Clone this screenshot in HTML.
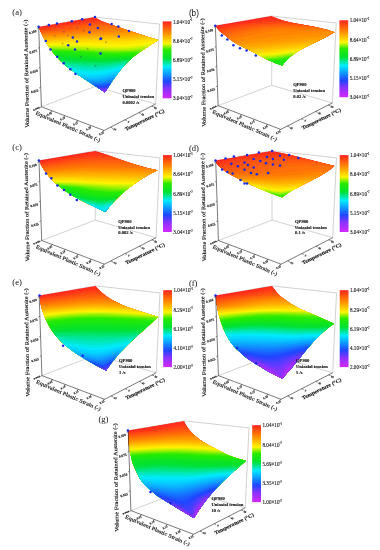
<!DOCTYPE html><html><head><meta charset="utf-8"><title>Figure</title><style>html,body{margin:0;padding:0;background:#fff}svg{display:block}</style></head><body><svg width="380" height="550" viewBox="0 0 380 550" font-family="'Liberation Serif', serif" fill="#111"><defs><linearGradient id="cb" x1="0" y1="0" x2="0" y2="1"><stop offset="0.000" stop-color="#ff231e"/><stop offset="0.150" stop-color="#ff8c00"/><stop offset="0.285" stop-color="#fff500"/><stop offset="0.370" stop-color="#28eb00"/><stop offset="0.480" stop-color="#00e132"/><stop offset="0.590" stop-color="#00ebff"/><stop offset="0.780" stop-color="#1e46ff"/><stop offset="0.880" stop-color="#8c32ff"/><stop offset="1.000" stop-color="#d228fa"/></linearGradient></defs><rect width="380" height="550" fill="#fff"/><g><line x1="41.4" y1="106.8" x2="95.0" y2="86.4" stroke="#9a9a9a" stroke-width="0.45"/><line x1="95.0" y1="86.4" x2="155.7" y2="104.0" stroke="#9a9a9a" stroke-width="0.45"/><line x1="95.0" y1="86.4" x2="95.0" y2="17.1" stroke="#9a9a9a" stroke-width="0.45"/><line x1="38.7" y1="27.0" x2="95.0" y2="17.1" stroke="#9a9a9a" stroke-width="0.45"/><line x1="95.0" y1="17.1" x2="159.5" y2="24.1" stroke="#9a9a9a" stroke-width="0.45"/><line x1="159.5" y1="24.1" x2="155.7" y2="104.0" stroke="#9a9a9a" stroke-width="0.45"/><g fill-rule="evenodd"><path fill="#ff231e" d="M38.6 26.9L40.8 32.0 43.0 36.6 45.2 40.8 47.9 45.2 50.5 49.1 53.5 53.0 56.7 56.7 60.2 60.4 63.4 63.4 66.8 66.4 70.4 69.2 74.8 72.5 81.6 77.1 97.4 87.3 104.9 92.3 111.4 82.3 117.1 74.2 122.4 67.5 125.1 64.5 127.7 61.8 132.3 57.6 137.6 53.5 142.6 50.1 158.2 40.0 148.0 37.0 138.0 33.6 128.3 30.5 104.9 22.5 102.2 21.5 99.9 20.4 97.6 19.0 95.0 17.1Z"/><path fill="#ff2e1b" d="M38.8 27.5L42.1 27.1 42.9 26.7 56.6 24.4 95.9 17.8 100.5 20.6 105.3 22.6 128.3 30.5 148.0 37.0 158.2 40.0 137.6 53.5 132.3 57.6 127.7 61.8 122.4 67.5 117.1 74.2 111.4 82.3 104.9 92.3 81.6 77.1 74.8 72.5 67.3 66.8 60.7 60.9 57.2 57.3 53.9 53.5 50.9 49.7 48.3 45.8 45.6 41.3 43.3 37.1 41.0 32.4Z"/><path fill="#ff3918" d="M39.3 28.6L39.2 28.4 48.8 27.3 49.6 27.1 49.9 26.8 50.3 26.6 69.6 23.4 89.2 20.5 98.2 19.3 100.8 20.8 103.5 22.0 116.5 26.6 146.5 36.5 158.2 40.0 137.6 53.5 132.3 57.6 127.7 61.8 122.4 67.5 117.1 74.2 111.4 82.3 104.9 92.3 81.6 77.1 74.8 72.5 67.3 66.8 60.7 60.9 57.6 57.8 54.4 54.1 51.3 50.2 48.6 46.3 46.2 42.4 43.8 38.1 41.4 33.3Z"/><path fill="#ff4415" d="M39.7 29.4L39.6 29.3 48.1 28.5 54.9 27.6 57.4 27.1 56.8 26.9 57.0 26.7 77.7 23.5 92.7 21.6 101.0 20.9 105.3 22.6 126.4 29.9 147.3 36.7 158.2 40.0 137.6 53.5 132.3 57.6 127.7 61.8 122.4 67.5 117.1 74.2 111.4 82.3 104.9 92.3 82.3 77.6 75.4 72.9 67.9 67.3 61.2 61.4 58.1 58.3 54.8 54.6 51.8 50.8 49.0 46.9 46.5 43.0 44.1 38.7 41.8 34.2Z"/><path fill="#ff4f12" d="M40.1 30.4L40.0 30.2 51.6 29.2 60.7 28.1 64.9 27.2 64.6 26.9 63.8 26.9 64.0 26.7 83.2 23.9 94.8 22.7 104.5 22.4 128.3 30.5 148.0 37.0 158.2 40.0 137.6 53.5 132.3 57.6 127.7 61.8 122.4 67.5 117.1 74.2 111.4 82.3 104.9 92.3 82.3 77.6 75.4 72.9 67.9 67.3 61.2 61.4 58.1 58.3 54.8 54.6 52.2 51.3 49.4 47.4 46.9 43.5 44.4 39.2 42.3 35.1Z"/><path fill="#ff5a0e" d="M40.4 31.2L40.4 31.1 55.7 29.8 65.9 28.6 70.6 27.9 72.8 27.4 73.2 27.1 72.4 26.9 71.6 26.9 71.7 26.7 87.2 24.6 98.0 23.7 108.1 23.6 128.3 30.5 148.0 37.0 158.2 40.0 137.6 53.5 132.3 57.6 127.7 61.8 122.4 67.5 117.1 74.2 111.4 82.3 104.9 92.3 82.3 77.6 75.4 72.9 67.9 67.3 61.7 61.9 58.6 58.8 55.3 55.1 52.6 51.9 49.8 48.0 47.2 44.1 44.9 40.3 42.5 35.6Z"/><path fill="#ff650b" d="M40.8 32.0L57.2 30.8 71.4 29.2 77.8 28.3 81.3 27.5 82.1 27.2 81.7 27.0 80.6 26.8 80.1 27.0 79.9 26.9 79.9 26.7 88.1 25.7 99.1 24.9 111.7 24.9 126.4 29.9 146.5 36.5 158.2 40.0 137.6 53.5 132.3 57.6 127.7 61.8 122.4 67.5 117.1 74.2 111.4 82.3 104.9 92.3 82.3 77.6 75.4 72.9 67.9 67.3 61.7 61.9 58.6 58.8 55.7 55.7 53.0 52.4 50.1 48.5 47.5 44.6 45.2 40.8 43.0 36.6Z"/><path fill="#ff7008" d="M41.4 33.3L41.2 32.9 63.4 31.2 82.8 29.1 90.5 28.0 94.0 27.4 94.2 27.1 94.1 27.0 92.0 27.0 91.0 26.9 90.9 26.7 101.2 26.1 115.4 26.2 146.5 36.5 158.2 40.0 137.6 53.5 132.3 57.6 127.7 61.8 122.4 67.5 117.1 74.2 111.4 82.3 104.9 92.3 82.3 77.6 75.4 72.9 68.5 67.8 62.3 62.4 59.1 59.4 56.2 56.2 53.5 53.0 50.5 49.1 47.9 45.2 45.6 41.3Z"/><path fill="#ff7a05" d="M41.8 34.2L41.6 33.8 65.1 32.2 105.2 28.6 119.9 27.7 146.5 36.5 158.2 40.0 137.6 53.5 132.3 57.6 127.7 61.8 122.4 67.5 117.1 74.2 111.4 82.3 104.9 92.3 76.1 73.4 69.1 68.3 62.8 62.9 59.6 59.9 56.7 56.7 53.9 53.5 50.9 49.7 48.6 46.3 46.2 42.4 44.1 38.7Z"/><path fill="#ff8502" d="M42.3 35.1L42.1 34.7 58.7 33.7 89.7 31.5 124.5 29.3 147.3 36.7 158.2 40.0 137.6 53.5 132.3 57.6 127.7 61.8 122.4 67.5 117.1 74.2 111.4 82.3 104.9 92.3 76.1 73.4 69.1 68.3 62.8 62.9 59.6 59.9 56.7 56.7 53.9 53.5 51.3 50.2 49.0 46.9 46.5 43.0Z"/><path fill="#ff9100" d="M42.7 36.1L42.5 35.6 83.9 33.1 116.0 31.7 129.2 30.8 148.0 37.0 158.2 40.0 137.6 53.5 132.3 57.6 127.7 61.8 122.4 67.5 117.1 74.2 111.4 82.3 104.9 92.3 76.1 73.4 69.1 68.3 63.4 63.4 60.2 60.4 57.2 57.3 54.4 54.1 51.8 50.8 49.4 47.4 46.9 43.5Z"/><path fill="#ff9d00" d="M43.3 37.1L43.0 36.6 72.5 34.9 87.3 34.3 117.5 33.3 134.2 32.4 147.3 36.7 158.2 40.0 137.6 53.5 132.3 57.6 127.7 61.8 122.4 67.5 117.1 74.2 111.4 82.3 104.9 92.3 76.8 73.9 69.7 68.7 63.9 63.9 58.1 58.3 55.3 55.1 52.6 51.9 50.1 48.5 47.5 44.6Z"/><path fill="#ffa900" d="M43.8 38.1L43.5 37.7 73.5 35.9 90.1 35.3 124.4 34.6 139.1 34.0 148.0 37.0 158.2 40.0 137.6 53.5 132.3 57.6 127.7 61.8 122.4 67.5 117.1 74.2 111.4 82.3 104.9 92.3 76.8 73.9 69.7 68.7 63.9 63.9 58.1 58.3 55.3 55.1 52.6 51.9 47.9 45.2Z"/><path fill="#ffb500" d="M44.4 39.2L44.1 38.7 73.9 37.0 89.6 36.6 127.3 35.9 135.3 35.6 142.6 35.1 149.5 37.4 158.2 40.0 137.6 53.5 132.3 57.6 127.7 61.8 122.4 67.5 117.1 74.2 111.4 82.3 104.9 92.3 76.8 73.9 70.4 69.2 64.5 64.4 58.6 58.8 53.5 53.0 48.6 46.3Z"/><path fill="#ffc100" d="M44.9 40.3L44.7 39.8 71.8 38.3 88.2 37.8 127.3 37.4 135.6 37.0 146.0 36.3 158.2 40.0 137.6 53.5 132.3 57.6 127.7 61.8 122.4 67.5 117.1 74.2 111.4 82.3 104.9 92.3 77.4 74.3 71.0 69.7 65.0 64.9 59.1 59.4 53.9 53.5 49.4 47.4Z"/><path fill="#ffce00" d="M45.6 41.3L45.3 40.9 58.2 40.0 70.6 39.4 86.9 39.1 127.2 38.8 136.7 38.4 149.7 37.5 158.2 40.0 137.6 53.5 132.3 57.6 127.7 61.8 122.4 67.5 117.1 74.2 111.4 82.3 104.9 92.3 77.4 74.3 71.0 69.7 65.0 64.9 59.1 59.4 54.4 54.1 49.8 48.0Z"/><path fill="#ffda00" d="M46.2 42.4L45.9 41.9 68.3 40.6 78.7 40.2 131.8 40.0 153.6 38.7 158.2 40.0 137.6 53.5 132.3 57.6 127.7 61.8 122.4 67.5 117.1 74.2 111.4 82.3 104.9 92.3 77.4 74.3 71.0 69.7 65.6 65.4 59.6 59.9 54.8 54.6 50.1 48.5Z"/><path fill="#ffe600" d="M46.5 43.0L65.4 42.1 79.0 41.8 112.2 42.1 120.9 42.0 129.3 41.5 140.4 40.3 157.3 39.8 158.2 40.0 137.6 53.5 132.3 57.6 127.7 61.8 122.4 67.5 117.1 74.2 111.4 82.3 104.9 92.3 78.1 74.8 71.6 70.2 66.2 65.9 60.2 60.4 55.3 55.1 50.5 49.1Z"/><path fill="#fff200" d="M47.2 44.1L64.1 43.5 77.3 43.4 88.0 43.6 111.6 44.5 122.2 44.5 128.3 44.2 136.5 43.4 157.1 40.7 142.2 50.4 137.3 53.8 131.9 57.9 127.4 62.1 122.4 67.5 117.1 74.2 111.4 82.3 104.9 92.3 78.1 74.8 71.6 70.2 66.2 65.9 60.7 60.9 55.7 55.7 51.3 50.2Z"/><path fill="#e1f400" d="M48.3 45.8L48.0 45.3 61.5 45.0 72.7 45.0 84.4 45.3 109.5 46.5 118.9 46.7 125.8 46.4 133.7 45.9 152.1 44.0 141.8 50.6 136.1 54.6 131.2 58.6 126.6 62.9 121.7 68.4 116.7 74.7 111.0 82.8 104.9 92.3 78.8 75.2 72.9 71.1 67.3 66.8 61.7 61.9 56.7 56.7 52.2 51.3Z"/><path fill="#b9f200" d="M49.0 46.9L48.8 46.5 51.1 46.5 62.7 46.4 72.4 46.5 83.0 47.0 107.0 48.4 116.9 48.6 124.0 48.5 131.5 48.0 148.6 46.3 140.3 51.7 135.0 55.5 130.4 59.3 125.8 63.7 121.3 68.8 116.3 75.2 111.0 82.8 104.9 92.3 78.8 75.2 72.9 71.1 67.3 66.8 61.7 61.9 57.2 57.3 53.0 52.4Z"/><path fill="#92f000" d="M49.8 48.0L49.6 47.7 51.8 47.7 69.5 47.9 103.8 49.8 115.9 50.1 124.9 50.0 132.2 49.7 137.8 49.3 145.2 48.4 138.4 53.0 133.5 56.7 128.9 60.7 124.7 64.9 120.1 70.2 115.6 76.2 110.6 83.4 104.9 92.3 78.8 75.2 72.9 71.1 67.9 67.3 62.8 62.9 58.1 58.3 53.9 53.5Z"/><path fill="#6aee00" d="M50.5 49.1L50.3 48.8 50.9 48.8 69.5 49.2 103.3 50.9 113.5 51.2 128.0 51.1 142.4 50.3 136.9 54.1 132.3 57.6 128.1 61.4 123.9 65.7 119.7 70.7 115.2 76.8 110.2 84.0 104.9 92.3 78.8 75.2 73.5 71.6 68.5 67.8 63.4 63.4 58.6 58.8 54.4 54.1Z"/><path fill="#43ec00" d="M51.3 50.2L51.0 49.7 67.0 50.1 78.9 50.6 102.9 52.0 113.0 52.4 126.3 52.3 140.6 51.5 135.4 55.2 131.2 58.6 127.0 62.5 123.2 66.6 119.0 71.7 114.8 77.3 110.2 84.0 104.9 92.3 79.5 75.7 74.1 72.0 69.1 68.3 63.9 63.9 59.1 59.4 55.3 55.1Z"/><path fill="#26eb02" d="M51.8 50.8L51.6 50.6 52.1 50.6 68.9 51.1 101.6 53.1 111.4 53.5 124.7 53.5 138.8 52.7 134.2 56.1 130.0 59.6 126.2 63.3 122.4 67.5 118.6 72.2 114.4 77.8 109.8 84.6 104.9 92.3 79.5 75.7 74.1 72.0 69.1 68.3 63.9 63.9 59.6 59.9 55.7 55.7Z"/><path fill="#20e909" d="M52.6 51.9L52.3 51.4 68.7 52.1 83.9 53.0 102.1 54.4 109.9 54.8 123.1 54.7 137.0 53.9 132.7 57.3 128.9 60.7 125.1 64.5 121.7 68.4 117.8 73.2 113.7 78.9 109.5 85.1 104.9 92.3 79.5 75.7 74.1 72.0 69.7 68.7 64.5 64.4 60.2 60.4 56.2 56.2Z"/><path fill="#1be810" d="M53.0 52.4L52.9 52.3 60.1 52.6 73.4 53.3 95.1 55.3 102.7 55.6 118.5 55.8 135.4 55.2 131.6 58.3 127.7 61.8 124.3 65.3 120.9 69.3 117.1 74.2 113.3 79.5 104.9 92.3 80.2 76.2 70.4 69.2 65.0 64.9 60.7 60.9 56.7 56.7Z"/><path fill="#15e618" d="M53.9 53.5L53.6 53.2 61.1 53.5 83.8 55.6 100.7 56.4 116.5 56.5 134.4 55.9 130.8 58.9 127.4 62.1 123.9 65.7 120.5 69.8 117.1 74.2 113.3 79.5 104.9 92.3 80.2 76.2 71.0 69.7 66.2 65.9 61.7 61.9 57.6 57.8Z"/><path fill="#0fe51f" d="M54.8 54.6L54.6 54.3 81.7 56.5 98.8 57.3 114.5 57.3 133.6 56.6 130.0 59.6 126.6 62.9 123.6 66.2 120.1 70.2 116.7 74.7 112.9 80.0 104.9 92.3 80.2 76.2 71.6 70.2 66.8 66.4 62.3 62.4 58.6 58.8Z"/><path fill="#0ae326" d="M56.2 56.2L55.8 55.7 81.5 57.5 98.8 58.2 114.7 58.1 132.8 57.2 129.3 60.3 126.2 63.3 123.2 66.6 119.7 70.7 112.9 80.0 104.9 92.3 80.9 76.6 72.2 70.6 67.3 66.8 63.4 63.4 59.6 59.9Z"/><path fill="#04e22d" d="M57.2 57.3L57.0 57.1 87.0 59.0 99.6 59.4 113.6 59.1 132.0 57.9 128.5 61.0 125.5 64.1 122.4 67.5 119.4 71.2 112.5 80.6 104.9 92.3 80.9 76.6 72.9 71.1 68.5 67.8 64.5 64.4 60.7 60.9Z"/><path fill="#00e13a" d="M58.6 58.8L58.3 58.4 83.7 60.1 91.5 60.4 99.4 60.6 106.9 60.4 114.8 60.1 131.0 58.7 128.1 61.4 125.1 64.5 122.0 67.9 119.0 71.7 112.5 80.6 104.9 92.3 81.6 77.1 73.5 71.6 65.6 65.4 61.7 61.9Z"/><path fill="#00e357" d="M59.6 59.9L83.3 61.5 97.2 61.8 104.6 61.7 112.5 61.3 129.9 59.8 127.0 62.5 123.9 65.7 118.2 72.7 112.1 81.1 104.9 92.3 81.6 77.1 74.1 72.0 66.2 65.9 62.8 62.9Z"/><path fill="#00e474" d="M61.2 61.4L61.1 61.3 82.9 62.9 95.9 63.2 103.4 63.0 111.3 62.5 128.8 60.8 123.2 66.6 117.8 73.2 111.8 81.7 104.9 92.3 82.3 77.6 75.4 72.9 67.9 67.3Z"/><path fill="#00e692" d="M62.8 62.9L84.3 64.6 90.4 64.8 96.3 64.9 101.8 64.7 107.5 64.2 127.7 61.8 122.4 67.5 117.1 74.2 111.4 82.3 104.9 92.3 76.1 73.4 69.1 68.3Z"/><path fill="#00e7af" d="M64.5 64.4L83.8 66.2 90.7 66.5 96.9 66.6 103.6 66.2 110.7 65.5 117.1 64.6 126.7 62.8 121.7 68.4 116.7 74.7 111.0 82.8 104.9 92.3 76.8 73.9 70.4 69.2Z"/><path fill="#00e8cc" d="M66.8 66.4L66.3 66.0 87.4 68.3 92.1 68.5 96.3 68.4 103.1 68.0 110.4 67.1 116.8 66.1 125.1 64.5 120.5 69.8 115.6 76.2 110.6 83.4 104.9 92.3 78.1 74.8 72.2 70.6Z"/><path fill="#00eae9" d="M68.5 67.8L68.3 67.6 78.3 69.4 84.3 70.2 89.2 70.6 94.4 70.6 100.1 70.2 106.2 69.4 114.0 68.1 123.6 66.1 119.4 71.2 114.8 77.3 110.2 84.0 104.9 92.3 78.8 75.2 73.5 71.6Z"/><path fill="#01e8ff" d="M72.2 70.6L71.6 70.2 79.8 71.7 85.4 72.5 90.5 72.8 95.4 72.7 100.7 72.2 105.7 71.3 122.1 67.8 118.2 72.7 114.0 78.4 109.5 85.1 104.9 92.3 80.9 76.6Z"/><path fill="#03daff" d="M75.4 72.9L75.1 72.7 81.9 73.8 88.1 74.4 92.6 74.6 96.7 74.4 101.6 73.8 106.7 72.9 120.8 69.5 117.1 74.2 113.3 79.5 104.9 92.3 82.3 77.6Z"/><path fill="#06cdff" d="M78.1 74.8L77.8 74.6 83.9 75.6 89.3 76.2 93.1 76.3 97.6 76.1 101.3 75.6 105.2 74.9 110.7 73.5 119.4 71.2 112.5 80.6 104.9 92.3Z"/><path fill="#08bfff" d="M80.9 76.6L80.6 76.4 86.7 77.5 90.7 77.9 94.0 78.0 97.4 77.8 101.1 77.3 106.4 76.2 118.1 72.9 111.8 81.7 104.9 92.3Z"/><path fill="#0ab1ff" d="M83.7 78.5L83.4 78.3 87.7 78.9 93.1 79.2 96.8 79.2 100.2 78.9 103.2 78.4 106.5 77.6 116.8 74.5 111.0 82.8 104.9 92.3Z"/><path fill="#0da4ff" d="M85.1 79.4L93.7 80.3 97.5 80.3 100.2 80.1 102.9 79.7 106.8 78.9 115.6 76.2 110.6 83.4 104.9 92.3Z"/><path fill="#0f96ff" d="M87.3 80.8L86.7 80.4 91.2 81.0 95.5 81.4 98.1 81.4 101.5 81.2 104.3 80.7 107.1 80.0 114.6 77.6 109.8 84.6 104.9 92.3Z"/><path fill="#1289ff" d="M88.8 81.8L88.2 81.4 93.0 82.1 95.9 82.4 98.5 82.5 102.1 82.3 106.9 81.2 113.6 79.0 109.5 85.1 104.9 92.3Z"/><path fill="#147bff" d="M90.4 82.8L89.8 82.4 96.0 83.2 99.0 83.3 102.2 83.1 107.3 82.2 112.6 80.5 104.9 92.3Z"/><path fill="#176eff" d="M91.9 83.8L91.2 83.3 97.3 84.0 102.0 84.0 107.3 83.1 111.6 81.9 104.9 92.3Z"/><path fill="#1960ff" d="M92.7 84.2L92.4 84.1 98.0 84.8 101.4 84.8 105.3 84.3 111.0 82.9 104.9 92.3Z"/><path fill="#1c52ff" d="M94.2 85.3L93.7 84.9 98.5 85.6 102.3 85.6 106.1 84.9 110.4 83.7 104.9 92.3Z"/><path fill="#1f46ff" d="M95.0 85.8L99.8 86.4 102.3 86.4 105.4 85.9 109.8 84.6 104.9 92.3Z"/><path fill="#3143ff" d="M96.6 86.8L96.1 86.5 101.0 87.2 103.4 87.1 106.3 86.4 109.3 85.4 104.9 92.3Z"/><path fill="#4240ff" d="M97.4 87.3L100.8 87.9 103.4 87.9 105.6 87.4 108.7 86.2 104.9 92.3Z"/><path fill="#533cff" d="M99.1 88.4L98.4 88.0 101.8 88.5 104.2 88.4 105.2 88.2 108.2 87.1 104.9 92.3Z"/><path fill="#6439ff" d="M99.9 88.9L99.2 88.5 102.6 89.1 104.6 89.0 106.0 88.6 107.7 87.9 104.9 92.3Z"/><path fill="#7536ff" d="M100.7 89.5L99.9 89.0 103.4 89.6 104.5 89.5 107.1 88.7 104.9 92.3Z"/><path fill="#8633ff" d="M100.7 89.5L102.6 89.9 103.9 90.0 105.3 89.8 106.8 89.3 104.9 92.3Z"/><path fill="#9231ff" d="M101.5 90.0L103.5 90.5 104.7 90.4 106.5 89.8 104.9 92.3Z"/><path fill="#9b30fe" d="M102.4 90.6L102.1 90.4 104.5 91.0 106.2 90.3 104.9 92.3Z"/><path fill="#a42ffd" d="M103.2 91.1L102.8 90.9 104.7 91.3 105.8 90.8 104.9 92.3Z"/><path fill="#ae2dfd" d="M104.1 91.7L103.5 91.4 104.2 91.5 105.0 91.5 105.5 91.3 104.9 92.3Z"/><path fill="#b72cfc" d="M104.9 92.3L104.2 91.8 105.2 91.8Z"/></g><line x1="41.4" y1="106.8" x2="38.7" y2="27.0" stroke="#222" stroke-width="0.6"/><line x1="41.4" y1="106.8" x2="104.1" y2="130.5" stroke="#222" stroke-width="0.6"/><line x1="104.1" y1="130.5" x2="155.7" y2="104.0" stroke="#222" stroke-width="0.6"/><line x1="41.4" y1="106.8" x2="39.9" y2="107.7" stroke="#222" stroke-width="0.5"/><text font-size="3.2" font-weight="bold" text-anchor="middle" stroke="#111" stroke-width=".2" transform="translate(36.4 108.8) rotate(-24) scale(1 .7)"><tspan y="1.1">0.000</tspan></text><line x1="40.7" y1="87.0" x2="39.2" y2="87.9" stroke="#222" stroke-width="0.5"/><text font-size="3.5" font-weight="bold" text-anchor="end" stroke="#111" stroke-width=".12" transform="translate(38.7 91.2) rotate(-16)">0.025</text><line x1="40.1" y1="67.3" x2="38.6" y2="68.2" stroke="#222" stroke-width="0.5"/><text font-size="3.5" font-weight="bold" text-anchor="end" stroke="#111" stroke-width=".12" transform="translate(38.1 71.5) rotate(-16)">0.050</text><line x1="39.4" y1="47.5" x2="37.9" y2="48.4" stroke="#222" stroke-width="0.5"/><text font-size="3.5" font-weight="bold" text-anchor="end" stroke="#111" stroke-width=".12" transform="translate(37.4 51.7) rotate(-16)">0.075</text><line x1="38.7" y1="27.8" x2="37.2" y2="28.7" stroke="#222" stroke-width="0.5"/><text font-size="3.5" font-weight="bold" text-anchor="end" stroke="#111" stroke-width=".12" transform="translate(36.7 32.0) rotate(-16)">0.100</text><line x1="52.2" y1="110.9" x2="50.5" y2="111.9" stroke="#222" stroke-width="0.55"/><text font-size="3" font-weight="bold" text-anchor="middle" stroke="#111" stroke-width=".1" transform="translate(49.6 113.8) rotate(-29)"><tspan y="1">0.05</tspan></text><line x1="65.2" y1="115.8" x2="63.5" y2="116.8" stroke="#222" stroke-width="0.55"/><text font-size="3" font-weight="bold" text-anchor="middle" stroke="#111" stroke-width=".1" transform="translate(62.6 118.7) rotate(-29)"><tspan y="1">0.10</tspan></text><line x1="78.1" y1="120.7" x2="76.4" y2="121.7" stroke="#222" stroke-width="0.55"/><text font-size="3" font-weight="bold" text-anchor="middle" stroke="#111" stroke-width=".1" transform="translate(75.5 123.6) rotate(-29)"><tspan y="1">0.15</tspan></text><line x1="91.1" y1="125.6" x2="89.4" y2="126.6" stroke="#222" stroke-width="0.55"/><text font-size="3" font-weight="bold" text-anchor="middle" stroke="#111" stroke-width=".1" transform="translate(88.5 128.5) rotate(-29)"><tspan y="1">0.20</tspan></text><line x1="104.1" y1="130.5" x2="102.4" y2="131.5" stroke="#222" stroke-width="0.55"/><text font-size="3" font-weight="bold" text-anchor="middle" stroke="#111" stroke-width=".1" transform="translate(101.5 133.4) rotate(-29)"><tspan y="1">0.25</tspan></text><line x1="110.5" y1="127.2" x2="112.5" y2="128.0" stroke="#222" stroke-width="0.55"/><text font-size="3" font-weight="bold" text-anchor="middle" stroke="#111" stroke-width=".1" transform="translate(114.3 129.1) rotate(22)"><tspan y="1">-40</tspan></text><line x1="124.7" y1="119.9" x2="126.7" y2="120.7" stroke="#222" stroke-width="0.55"/><text font-size="3" font-weight="bold" text-anchor="middle" stroke="#111" stroke-width=".1" transform="translate(128.5 121.8) rotate(22)"><tspan y="1">0</tspan></text><line x1="138.9" y1="112.6" x2="140.9" y2="113.4" stroke="#222" stroke-width="0.55"/><text font-size="3" font-weight="bold" text-anchor="middle" stroke="#111" stroke-width=".1" transform="translate(142.7 114.5) rotate(22)"><tspan y="1">40</tspan></text><line x1="151.6" y1="106.1" x2="153.6" y2="106.9" stroke="#222" stroke-width="0.55"/><text font-size="3" font-weight="bold" text-anchor="middle" stroke="#111" stroke-width=".1" transform="translate(155.4 108.0) rotate(22)"><tspan y="1">80</tspan></text><text font-size="6.45" text-anchor="middle" stroke="#111" stroke-width=".2" transform="translate(28.1 73.7) rotate(-91) scale(1 .8)">Volume Fraction of Retained Austenite (-)</text><text font-size="6.3" stroke="#111" stroke-width=".17" transform="translate(35.3 114.2) rotate(23.5) scale(1 .84)">Equivalent Plastic Strain (-)</text><text font-size="5.7" font-weight="bold" stroke="#111" stroke-width=".15" transform="translate(126.0 130.9) rotate(-26) scale(1 .9)">Temperature (°C)</text><circle cx="63.9" cy="31.7" r="1" fill="#40206a" opacity=".3"/><circle cx="77.1" cy="27.8" r="1" fill="#40206a" opacity=".3"/><circle cx="54.7" cy="35.7" r="1" fill="#40206a" opacity=".3"/><circle cx="67.9" cy="35.7" r="1" fill="#40206a" opacity=".3"/><circle cx="62.6" cy="43.6" r="1" fill="#40206a" opacity=".3"/><circle cx="106.0" cy="42.3" r="1" fill="#40206a" opacity=".3"/><circle cx="87.6" cy="48.8" r="1" fill="#40206a" opacity=".3"/><circle cx="81.0" cy="56.7" r="1" fill="#40206a" opacity=".3"/><circle cx="95.5" cy="66.0" r="1" fill="#40206a" opacity=".3"/><circle cx="83.7" cy="30.4" r="1" fill="#40206a" opacity=".3"/><circle cx="38.6" cy="26.8" r="1.25" fill="#1428e6"/><circle cx="48.8" cy="25.1" r="1.25" fill="#1428e6"/><circle cx="57.0" cy="23.6" r="1.25" fill="#1428e6"/><circle cx="71.8" cy="21.2" r="1.25" fill="#1428e6"/><circle cx="82.2" cy="19.2" r="1.25" fill="#1428e6"/><circle cx="95.0" cy="17.1" r="1.25" fill="#1428e6"/><circle cx="45.8" cy="40.9" r="1.25" fill="#1428e6"/><circle cx="72.8" cy="37.6" r="1.25" fill="#1428e6"/><circle cx="68.2" cy="45.3" r="1.25" fill="#1428e6"/><circle cx="89.9" cy="24.5" r="1.25" fill="#1428e6"/><circle cx="97.8" cy="28.0" r="1.25" fill="#1428e6"/><circle cx="89.5" cy="32.2" r="1.25" fill="#1428e6"/><circle cx="111.6" cy="24.1" r="1.25" fill="#1428e6"/><circle cx="118.4" cy="26.4" r="1.25" fill="#1428e6"/><circle cx="101.0" cy="38.6" r="1.25" fill="#1428e6"/><circle cx="118.8" cy="36.6" r="1.25" fill="#1428e6"/><circle cx="77.0" cy="41.4" r="1.25" fill="#1428e6"/><circle cx="129.0" cy="31.0" r="1.25" fill="#1428e6"/><circle cx="50.5" cy="49.5" r="1.25" fill="#1428e6"/><circle cx="57.1" cy="56.8" r="1.25" fill="#1428e6"/><circle cx="63.7" cy="63.2" r="1.25" fill="#1428e6"/><circle cx="70.3" cy="69.2" r="1.25" fill="#1428e6"/><circle cx="75.5" cy="74.0" r="1.25" fill="#1428e6"/><circle cx="75.0" cy="49.5" r="1.25" fill="#1428e6"/><circle cx="100.5" cy="53.4" r="1.25" fill="#1428e6"/><circle cx="100.5" cy="39.0" r="1.25" fill="#1428e6"/><rect x="162.7" y="21.4" width="8.8" height="76.9" fill="url(#cb)"/><text font-size="6.5" stroke="#111" stroke-width=".12" transform="translate(173.0 23.5) scale(.79 1)">1.04×10<tspan dy="-2.3" font-size="3.8">-1</tspan></text><text font-size="6.5" stroke="#111" stroke-width=".12" transform="translate(173.0 42.7) scale(.79 1)">8.64×10<tspan dy="-2.3" font-size="3.8">-2</tspan></text><text font-size="6.5" stroke="#111" stroke-width=".12" transform="translate(173.0 62.0) scale(.79 1)">6.89×10<tspan dy="-2.3" font-size="3.8">-2</tspan></text><text font-size="6.5" stroke="#111" stroke-width=".12" transform="translate(173.0 81.2) scale(.79 1)">5.15×10<tspan dy="-2.3" font-size="3.8">-2</tspan></text><text font-size="6.5" stroke="#111" stroke-width=".12" transform="translate(173.0 100.4) scale(.79 1)">3.04×10<tspan dy="-2.3" font-size="3.8">-2</tspan></text><text font-size="4.6" font-weight="bold" stroke="#111" stroke-width=".12"><tspan x="122.4" y="92.3">QP980</tspan><tspan x="122.4" y="98.2">Uniaxial tension</tspan><tspan x="122.4" y="104.1">0.0002 /s</tspan></text><text x="12.3" y="15.3" font-size="8.6">(a)</text></g><g><line x1="218.1" y1="105.7" x2="271.7" y2="85.3" stroke="#9a9a9a" stroke-width="0.45"/><line x1="271.7" y1="85.3" x2="332.4" y2="102.9" stroke="#9a9a9a" stroke-width="0.45"/><line x1="271.7" y1="85.3" x2="271.7" y2="16.0" stroke="#9a9a9a" stroke-width="0.45"/><line x1="215.4" y1="25.9" x2="271.7" y2="16.0" stroke="#9a9a9a" stroke-width="0.45"/><line x1="271.7" y1="16.0" x2="336.2" y2="23.0" stroke="#9a9a9a" stroke-width="0.45"/><line x1="336.2" y1="23.0" x2="332.4" y2="102.9" stroke="#9a9a9a" stroke-width="0.45"/><g fill-rule="evenodd"><path fill="#ff231e" d="M215.3 25.7L217.9 29.3 220.3 31.8 225.0 35.3 230.7 40.0 234.0 42.1 239.7 45.3 251.1 51.0 266.7 59.2 274.6 62.7 282.1 65.5 285.1 61.8 288.5 58.3 292.6 54.9 297.1 51.8 300.8 49.6 304.9 47.3 325.1 37.4 330.0 34.8 334.5 32.2 327.4 29.9 319.3 27.9 311.7 26.3 294.6 23.3 286.6 21.5 282.3 20.3 278.6 19.0 274.9 17.6 271.7 16.0Z"/><path fill="#ff2e1b" d="M216.4 26.3L218.9 25.7 260.1 18.8 268.1 17.6 273.8 17.0 280.2 19.6 287.5 21.8 295.2 23.4 311.7 26.3 319.3 27.9 327.4 29.9 334.5 32.2 330.0 34.8 325.1 37.4 304.9 47.3 297.1 51.8 292.6 54.9 288.5 58.3 285.1 61.8 282.1 65.5 274.6 62.7 266.7 59.2 251.1 51.0 239.7 45.3 234.0 42.1 230.7 40.0 225.0 35.3 220.0 31.6 218.1 29.6 215.8 26.5Z"/><path fill="#ff3918" d="M225.0 26.0L244.7 22.9 260.3 20.7 270.3 19.6 278.8 19.1 284.6 21.0 291.1 22.6 313.1 26.6 321.4 28.4 328.2 30.1 334.5 32.2 330.0 34.8 325.1 37.4 304.9 47.3 297.1 51.8 292.6 54.9 288.5 58.3 285.1 61.8 282.1 65.5 273.8 62.4 265.9 58.8 251.1 51.0 239.1 45.0 234.5 42.4 231.6 40.6 225.0 35.3 220.3 31.8 218.5 30.1 216.9 27.9Z"/><path fill="#ff4415" d="M224.3 27.8L234.0 25.7 257.2 22.7 265.7 21.9 273.4 21.4 279.7 21.2 285.4 21.2 294.1 23.2 312.4 26.5 320.0 28.0 327.4 29.9 334.5 32.2 330.0 34.8 325.1 37.4 304.9 47.3 297.1 51.8 292.6 54.9 288.5 58.3 285.1 61.8 282.1 65.5 273.8 62.4 265.9 58.8 251.1 51.0 239.1 45.0 232.6 41.2 229.8 39.3 224.7 35.0 220.8 32.3 219.5 31.1 218.0 29.4Z"/><path fill="#ff4f12" d="M219.5 31.1L219.3 30.9 232.2 27.7 238.0 26.5 243.1 25.6 253.1 24.6 267.8 23.4 276.0 22.9 282.8 22.8 294.5 23.3 311.7 26.3 318.6 27.7 324.4 29.1 329.7 30.6 334.5 32.2 330.0 34.8 325.1 37.4 304.9 47.3 297.1 51.8 292.6 54.9 288.5 58.3 285.1 61.8 282.1 65.5 274.6 62.7 267.4 59.5 251.1 51.0 237.0 43.9 231.2 40.3 225.0 35.3 221.4 32.7Z"/><path fill="#ff5a0e" d="M221.1 32.5L239.0 28.2 244.5 27.1 250.0 26.3 255.3 25.6 267.0 24.7 274.6 24.3 281.3 24.1 291.3 24.3 303.4 24.9 313.7 26.7 321.4 28.4 328.2 30.1 334.5 32.2 330.0 34.8 325.1 37.4 304.9 47.3 297.1 51.8 292.6 54.9 288.5 58.3 285.1 61.8 282.1 65.5 274.6 62.7 267.4 59.5 251.1 51.0 238.6 44.7 234.5 42.4 231.2 40.3 225.0 35.3Z"/><path fill="#ff650b" d="M223.3 34.1L223.1 33.9 230.6 32.6 246.2 28.9 254.5 27.3 260.2 26.5 266.4 25.9 272.5 25.4 278.6 25.2 291.8 25.4 311.2 26.2 317.9 27.5 323.7 28.9 329.0 30.4 334.5 32.2 330.0 34.8 325.1 37.4 304.9 47.3 297.1 51.8 292.6 54.9 288.5 58.3 285.1 61.8 282.1 65.5 274.6 62.7 267.4 59.5 251.1 51.0 238.6 44.7 234.5 42.4 231.6 40.6Z"/><path fill="#ff7008" d="M225.4 35.6L225.3 35.5 226.2 35.3 236.4 33.4 249.7 30.2 258.6 28.4 267.6 27.2 277.8 26.5 284.6 26.4 292.2 26.6 318.0 27.6 326.7 29.7 334.5 32.2 330.0 34.8 325.1 37.4 304.9 47.3 297.1 51.8 292.6 54.9 288.5 58.3 285.1 61.8 282.1 65.5 274.6 62.7 268.2 59.9 262.9 57.3 251.1 51.0 239.1 45.0 234.5 42.4 231.6 40.6Z"/><path fill="#ff7a05" d="M228.1 37.9L227.8 37.6 235.8 35.5 247.4 33.1 249.6 32.6 251.1 32.1 256.2 31.0 266.8 29.3 277.3 28.3 283.6 28.1 291.8 28.1 323.8 28.9 329.0 30.4 334.5 32.2 330.0 34.8 325.1 37.4 304.9 47.3 297.1 51.8 292.6 54.9 288.5 58.3 285.1 61.8 282.1 65.5 273.0 62.1 263.7 57.7 251.8 51.3 236.5 43.6 231.6 40.6Z"/><path fill="#ff8502" d="M230.7 40.0L230.3 39.6 241.8 37.2 249.8 35.3 266.2 32.5 266.2 32.4 265.6 32.3 265.7 32.1 271.5 31.4 277.5 30.8 285.2 30.4 293.7 30.2 328.7 30.3 334.5 32.2 330.0 34.8 325.1 37.4 304.9 47.3 297.1 51.8 292.6 54.9 288.5 58.3 285.1 61.8 282.1 65.5 273.8 62.4 265.2 58.4 251.8 51.3 238.6 44.7 234.0 42.1Z"/><path fill="#ff9100" d="M233.5 41.8L233.3 41.7 272.1 37.0 285.1 35.1 301.0 33.9 325.4 32.6 325.4 32.5 318.8 32.2 319.1 32.1 332.9 31.6 334.5 32.2 330.0 34.8 325.1 37.4 304.9 47.3 297.1 51.8 292.6 54.9 288.5 58.3 285.1 61.8 282.1 65.5 274.6 62.7 266.7 59.2 251.1 51.0 239.1 45.0Z"/><path fill="#ff9d00" d="M237.0 43.9L236.8 43.7 275.3 40.7 293.3 38.7 315.5 37.0 328.6 35.6 322.5 38.7 305.7 46.9 300.8 49.6 296.7 52.1 292.2 55.2 288.5 58.3 285.1 61.8 282.1 65.5 274.6 62.7 267.4 59.5 251.1 51.0Z"/><path fill="#ffa900" d="M240.2 45.6L259.5 44.5 286.3 41.9 305.9 40.4 322.6 38.7 305.3 47.1 300.4 49.8 295.9 52.5 291.8 55.5 288.1 58.7 284.7 62.2 282.1 65.5 274.6 62.7 268.2 59.9 262.9 57.3 251.1 51.0Z"/><path fill="#ffb500" d="M243.7 47.3L253.6 46.9 261.8 46.4 287.2 43.8 317.6 41.1 303.8 47.9 298.9 50.7 294.8 53.3 291.1 56.1 287.7 59.0 284.7 62.2 282.1 65.5 274.6 62.7 268.2 59.9Z"/><path fill="#ffc100" d="M247.3 49.1L257.3 48.6 266.1 48.0 313.8 42.9 302.3 48.7 297.8 51.3 294.1 53.8 290.3 56.7 287.3 59.4 284.7 62.2 282.1 65.5 274.6 62.7 268.2 59.9 263.7 57.7Z"/><path fill="#ffce00" d="M251.1 51.0L250.6 50.7 260.9 50.1 283.7 48.0 309.7 44.9 300.1 50.0 296.3 52.3 293.0 54.6 290.0 57.0 287.0 59.8 284.3 62.6 282.1 65.5 274.6 62.7 269.0 60.3 263.7 57.7Z"/><path fill="#ffda00" d="M253.1 52.0L267.5 51.1 281.7 49.6 297.1 48.2 305.3 47.1 297.8 51.3 294.5 53.6 291.5 55.8 288.8 58.0 286.2 60.5 284.0 63.1 282.1 65.5 274.6 62.7 269.0 60.3 263.7 57.7Z"/><path fill="#ffe600" d="M255.1 53.1L262.8 52.7 270.0 52.1 302.2 48.8 295.6 52.8 290.3 56.7 285.8 60.9 282.1 65.5 275.4 63.1 269.8 60.6 263.7 57.7Z"/><path fill="#fff200" d="M257.2 54.2L265.0 53.8 271.7 53.2 300.0 50.0 294.5 53.6 289.6 57.3 285.5 61.3 282.1 65.5 276.2 63.4 270.6 61.0 264.4 58.1Z"/><path fill="#e1f400" d="M259.3 55.3L259.1 55.2 265.3 55.0 273.1 54.4 298.0 51.2 293.0 54.6 288.8 58.0 285.1 61.8 282.1 65.5 276.2 63.4 271.4 61.4 265.2 58.4Z"/><path fill="#b9f200" d="M261.5 56.5L261.1 56.3 267.6 56.1 274.5 55.5 296.1 52.5 291.8 55.5 288.1 58.7 284.7 62.2 282.1 65.5 277.0 63.7 272.1 61.7 266.7 59.2Z"/><path fill="#92f000" d="M263.7 57.7L263.2 57.4 269.0 57.3 274.5 56.7 294.2 53.7 290.7 56.4 287.3 59.4 284.7 62.2 282.1 65.5 273.0 62.1Z"/><path fill="#6aee00" d="M265.2 58.4L271.2 58.3 274.5 58.0 292.6 54.9 289.6 57.3 287.0 59.8 284.3 62.6 282.1 65.5 273.8 62.4Z"/><path fill="#43ec00" d="M266.7 59.2L266.4 59.1 273.0 59.1 277.5 58.7 280.9 58.1 291.1 56.1 288.5 58.3 286.2 60.5 284.0 63.1 282.1 65.5 274.6 62.7Z"/><path fill="#26eb02" d="M268.2 59.9L267.9 59.7 274.9 59.9 278.4 59.5 282.4 58.9 289.7 57.3 285.5 61.3 282.1 65.5 274.6 62.7Z"/><path fill="#20e909" d="M269.8 60.6L269.3 60.4 274.2 60.7 278.4 60.6 281.1 60.2 288.4 58.4 285.1 61.8 282.1 65.5 275.4 63.1Z"/><path fill="#1be810" d="M271.4 61.4L270.9 61.2 275.4 61.7 278.6 61.8 281.1 61.4 287.2 59.6 284.3 62.6 282.1 65.5 276.2 63.4Z"/><path fill="#15e618" d="M273.8 62.4L273.3 62.2 276.4 62.8 279.5 63.2 280.8 63.0 285.7 61.1 282.1 65.5Z"/><path fill="#0fe51f" d="M276.2 63.4L281.1 64.5 282.9 63.3 284.4 62.6 282.1 65.5Z"/><path fill="#0ae326" d="M279.5 64.6L281.4 65.0 282.1 64.9 283.2 64.1 282.1 65.5Z"/></g><line x1="218.1" y1="105.7" x2="215.4" y2="25.9" stroke="#222" stroke-width="0.6"/><line x1="218.1" y1="105.7" x2="280.8" y2="129.4" stroke="#222" stroke-width="0.6"/><line x1="280.8" y1="129.4" x2="332.4" y2="102.9" stroke="#222" stroke-width="0.6"/><line x1="218.1" y1="105.7" x2="216.6" y2="106.6" stroke="#222" stroke-width="0.5"/><text font-size="3.2" font-weight="bold" text-anchor="middle" stroke="#111" stroke-width=".2" transform="translate(213.1 107.7) rotate(-24) scale(1 .7)"><tspan y="1.1">0.000</tspan></text><line x1="217.4" y1="85.9" x2="215.9" y2="86.8" stroke="#222" stroke-width="0.5"/><text font-size="3.5" font-weight="bold" text-anchor="end" stroke="#111" stroke-width=".12" transform="translate(215.4 90.1) rotate(-16)">0.025</text><line x1="216.8" y1="66.2" x2="215.3" y2="67.1" stroke="#222" stroke-width="0.5"/><text font-size="3.5" font-weight="bold" text-anchor="end" stroke="#111" stroke-width=".12" transform="translate(214.8 70.4) rotate(-16)">0.050</text><line x1="216.1" y1="46.4" x2="214.6" y2="47.3" stroke="#222" stroke-width="0.5"/><text font-size="3.5" font-weight="bold" text-anchor="end" stroke="#111" stroke-width=".12" transform="translate(214.1 50.6) rotate(-16)">0.075</text><line x1="215.4" y1="26.7" x2="213.9" y2="27.6" stroke="#222" stroke-width="0.5"/><text font-size="3.5" font-weight="bold" text-anchor="end" stroke="#111" stroke-width=".12" transform="translate(213.4 30.9) rotate(-16)">0.100</text><line x1="228.9" y1="109.8" x2="227.2" y2="110.8" stroke="#222" stroke-width="0.55"/><text font-size="3" font-weight="bold" text-anchor="middle" stroke="#111" stroke-width=".1" transform="translate(226.3 112.7) rotate(-29)"><tspan y="1">0.05</tspan></text><line x1="241.9" y1="114.7" x2="240.2" y2="115.7" stroke="#222" stroke-width="0.55"/><text font-size="3" font-weight="bold" text-anchor="middle" stroke="#111" stroke-width=".1" transform="translate(239.3 117.6) rotate(-29)"><tspan y="1">0.10</tspan></text><line x1="254.8" y1="119.6" x2="253.1" y2="120.6" stroke="#222" stroke-width="0.55"/><text font-size="3" font-weight="bold" text-anchor="middle" stroke="#111" stroke-width=".1" transform="translate(252.2 122.5) rotate(-29)"><tspan y="1">0.15</tspan></text><line x1="267.8" y1="124.5" x2="266.1" y2="125.5" stroke="#222" stroke-width="0.55"/><text font-size="3" font-weight="bold" text-anchor="middle" stroke="#111" stroke-width=".1" transform="translate(265.2 127.4) rotate(-29)"><tspan y="1">0.20</tspan></text><line x1="280.8" y1="129.4" x2="279.1" y2="130.4" stroke="#222" stroke-width="0.55"/><text font-size="3" font-weight="bold" text-anchor="middle" stroke="#111" stroke-width=".1" transform="translate(278.2 132.3) rotate(-29)"><tspan y="1">0.25</tspan></text><line x1="287.2" y1="126.1" x2="289.2" y2="126.9" stroke="#222" stroke-width="0.55"/><text font-size="3" font-weight="bold" text-anchor="middle" stroke="#111" stroke-width=".1" transform="translate(291.0 128.0) rotate(22)"><tspan y="1">-40</tspan></text><line x1="301.4" y1="118.8" x2="303.4" y2="119.6" stroke="#222" stroke-width="0.55"/><text font-size="3" font-weight="bold" text-anchor="middle" stroke="#111" stroke-width=".1" transform="translate(305.2 120.7) rotate(22)"><tspan y="1">0</tspan></text><line x1="315.6" y1="111.5" x2="317.6" y2="112.3" stroke="#222" stroke-width="0.55"/><text font-size="3" font-weight="bold" text-anchor="middle" stroke="#111" stroke-width=".1" transform="translate(319.4 113.4) rotate(22)"><tspan y="1">40</tspan></text><line x1="328.3" y1="105.0" x2="330.3" y2="105.8" stroke="#222" stroke-width="0.55"/><text font-size="3" font-weight="bold" text-anchor="middle" stroke="#111" stroke-width=".1" transform="translate(332.1 106.9) rotate(22)"><tspan y="1">80</tspan></text><text font-size="6.45" text-anchor="middle" stroke="#111" stroke-width=".2" transform="translate(204.8 72.6) rotate(-91) scale(1 .8)">Volume Fraction of Retained Austenite (-)</text><text font-size="6.3" stroke="#111" stroke-width=".17" transform="translate(212.0 113.1) rotate(23.5) scale(1 .84)">Equivalent Plastic Strain (-)</text><text font-size="5.7" font-weight="bold" stroke="#111" stroke-width=".15" transform="translate(302.7 129.8) rotate(-26) scale(1 .9)">Temperature (°C)</text><circle cx="215.3" cy="25.7" r="1.25" fill="#1428e6"/><circle cx="221.8" cy="35.5" r="1.25" fill="#1428e6"/><circle cx="227.3" cy="39.5" r="1.25" fill="#1428e6"/><circle cx="233.4" cy="45.3" r="1.25" fill="#1428e6"/><circle cx="240.0" cy="48.2" r="1.25" fill="#1428e6"/><circle cx="246.6" cy="50.5" r="1.25" fill="#1428e6"/><circle cx="255.8" cy="55.5" r="1.25" fill="#1428e6"/><rect x="339.4" y="20.3" width="8.8" height="76.9" fill="url(#cb)"/><text font-size="6.5" stroke="#111" stroke-width=".12" transform="translate(349.7 22.4) scale(.79 1)">1.04×10<tspan dy="-2.3" font-size="3.8">-1</tspan></text><text font-size="6.5" stroke="#111" stroke-width=".12" transform="translate(349.7 41.6) scale(.79 1)">8.64×10<tspan dy="-2.3" font-size="3.8">-2</tspan></text><text font-size="6.5" stroke="#111" stroke-width=".12" transform="translate(349.7 60.9) scale(.79 1)">6.89×10<tspan dy="-2.3" font-size="3.8">-2</tspan></text><text font-size="6.5" stroke="#111" stroke-width=".12" transform="translate(349.7 80.1) scale(.79 1)">5.15×10<tspan dy="-2.3" font-size="3.8">-2</tspan></text><text font-size="6.5" stroke="#111" stroke-width=".12" transform="translate(349.7 99.3) scale(.79 1)">3.04×10<tspan dy="-2.3" font-size="3.8">-2</tspan></text><text font-size="4.6" font-weight="bold" stroke="#111" stroke-width=".12"><tspan x="293.2" y="85.7">QP980</tspan><tspan x="293.2" y="91.6">Uniaxial tension</tspan><tspan x="293.2" y="97.5">0.02 /s</tspan></text><text x="188.9" y="15.9" font-size="8.2" font-family="'Liberation Sans', sans-serif">(b)</text></g><g><line x1="41.7" y1="240.5" x2="95.3" y2="220.1" stroke="#9a9a9a" stroke-width="0.45"/><line x1="95.3" y1="220.1" x2="156.0" y2="237.7" stroke="#9a9a9a" stroke-width="0.45"/><line x1="95.3" y1="220.1" x2="95.3" y2="150.8" stroke="#9a9a9a" stroke-width="0.45"/><line x1="39.0" y1="160.7" x2="95.3" y2="150.8" stroke="#9a9a9a" stroke-width="0.45"/><line x1="95.3" y1="150.8" x2="159.8" y2="157.8" stroke="#9a9a9a" stroke-width="0.45"/><line x1="159.8" y1="157.8" x2="156.0" y2="237.7" stroke="#9a9a9a" stroke-width="0.45"/><g fill-rule="evenodd"><path fill="#ff231e" d="M38.9 160.5L40.9 164.6 43.1 168.3 45.3 171.6 47.9 175.1 50.9 178.6 53.8 181.6 57.5 185.0 61.1 187.8 64.9 190.6 69.0 193.3 73.3 196.0 77.9 198.5 88.6 204.0 105.5 211.9 107.4 209.2 109.6 206.4 112.2 203.3 114.8 200.5 120.7 194.8 127.4 189.1 134.8 183.5 142.6 178.3 150.4 173.8 157.4 170.3 146.7 167.9 135.6 164.7 125.7 161.4 104.9 154.0 95.5 151.0Z"/><path fill="#ff2e1b" d="M39.2 161.2L89.4 152.3 93.1 151.9 98.6 152.0 107.4 154.9 126.9 161.9 135.6 164.7 146.7 167.9 157.4 170.3 150.4 173.8 142.6 178.3 134.8 183.5 127.4 189.1 120.7 194.8 114.8 200.5 109.6 206.4 105.5 211.9 88.6 204.0 77.9 198.5 69.0 193.3 64.9 190.6 61.1 187.8 57.5 185.0 54.3 182.0 51.3 179.0 48.2 175.5 45.6 172.1 43.3 168.7 41.1 164.9Z"/><path fill="#ff3918" d="M39.8 162.4L39.8 162.4 67.0 157.7 83.8 155.1 93.9 154.1 99.1 153.9 104.5 153.9 126.3 161.6 136.3 164.9 146.7 167.9 157.4 170.3 150.4 173.8 142.6 178.3 134.8 183.5 127.4 189.1 120.7 194.8 114.8 200.5 109.6 206.4 105.5 211.9 89.4 204.4 78.6 198.9 69.6 193.7 65.5 191.0 61.6 188.2 58.0 185.4 54.7 182.4 51.7 179.4 49.0 176.4 46.2 172.9 43.8 169.5 41.7 166.0Z"/><path fill="#ff4415" d="M40.6 163.9L40.4 163.6 51.7 161.8 59.6 160.4 73.0 158.3 82.7 157.0 89.5 156.3 95.4 155.9 101.8 155.8 110.1 155.9 126.9 161.9 136.9 165.1 147.4 168.1 157.4 170.3 150.4 173.8 142.6 178.3 134.8 183.5 127.4 189.1 120.7 194.8 114.8 200.5 109.6 206.4 105.5 211.9 89.4 204.4 79.3 199.3 70.2 194.1 62.7 189.0 59.0 186.2 55.6 183.3 52.5 180.3 49.7 177.3 47.2 174.2 44.7 170.8 42.6 167.5Z"/><path fill="#ff4f12" d="M41.1 164.9L58.7 162.2 69.1 160.4 84.0 158.6 90.9 158.0 97.6 157.8 115.7 157.9 128.7 162.5 138.3 165.5 148.2 168.2 157.4 170.3 150.4 173.8 142.6 178.3 134.8 183.5 127.4 189.1 120.7 194.8 114.8 200.5 109.6 206.4 105.5 211.9 89.4 204.4 79.3 199.3 70.8 194.5 63.2 189.4 56.6 184.1 53.4 181.2 50.5 178.1 47.9 175.1 45.3 171.6 43.1 168.3Z"/><path fill="#ff5a0e" d="M41.9 166.3L41.7 166.1 83.2 160.3 90.5 159.9 98.6 159.6 121.3 159.9 131.8 163.5 140.3 166.1 148.9 168.4 157.4 170.3 150.4 173.8 142.6 178.3 134.8 183.5 127.4 189.1 120.7 194.8 114.8 200.5 109.6 206.4 105.5 211.9 90.1 204.7 80.0 199.6 71.4 194.8 63.8 189.8 57.1 184.5 54.3 182.0 51.3 179.0 48.6 176.0 46.2 172.9 43.8 169.5Z"/><path fill="#ff650b" d="M42.6 167.5L42.5 167.3 69.7 163.9 78.9 162.9 86.5 162.3 99.8 161.8 127.0 161.9 134.9 164.5 142.4 166.7 149.7 168.6 157.4 170.3 150.4 173.8 142.6 178.3 134.8 183.5 127.4 189.1 120.7 194.8 114.8 200.5 109.6 206.4 105.5 211.9 90.9 205.1 80.6 200.0 72.0 195.2 64.3 190.2 57.5 185.0 54.7 182.4 51.7 179.4 46.9 173.8 44.7 170.8Z"/><path fill="#ff7008" d="M43.3 168.7L43.2 168.5 66.3 165.9 76.4 165.0 84.7 164.4 98.3 164.0 122.3 164.0 133.0 163.9 145.3 167.5 157.4 170.3 150.4 173.8 142.6 178.3 134.8 183.5 127.4 189.1 120.7 194.8 114.8 200.5 109.6 206.4 105.5 211.9 90.9 205.1 80.6 200.0 72.0 195.2 64.9 190.6 58.5 185.8 55.6 183.3 52.5 180.3 50.1 177.7 47.5 174.7Z"/><path fill="#ff7a05" d="M44.1 169.9L44.0 169.8 44.9 169.7 65.3 167.5 75.3 166.7 83.8 166.3 96.1 166.0 125.9 166.2 139.7 166.0 148.9 168.4 157.4 170.3 150.4 173.8 142.6 178.3 134.8 183.5 127.4 189.1 120.7 194.8 114.8 200.5 109.6 206.4 105.5 211.9 90.9 205.1 81.3 200.4 72.7 195.6 65.5 191.0 59.0 186.2 53.4 181.2 50.9 178.6 48.2 175.5Z"/><path fill="#ff8502" d="M45.0 171.2L44.8 170.9 69.1 168.7 80.2 168.1 91.3 167.8 130.4 168.2 147.3 168.0 157.4 170.3 150.4 173.8 142.6 178.3 134.8 183.5 127.4 189.1 120.7 194.8 114.8 200.5 109.6 206.4 105.5 211.9 91.7 205.5 82.0 200.7 73.9 196.3 66.6 191.8 60.0 187.0 54.3 182.0 49.3 176.8Z"/><path fill="#ff9100" d="M45.6 172.1L67.9 170.2 77.7 169.8 86.0 169.5 99.6 169.5 137.0 170.1 156.4 170.1 157.4 170.3 150.4 173.8 142.6 178.3 134.8 183.5 127.4 189.1 120.7 194.8 114.8 200.5 109.6 206.4 105.5 211.9 91.7 205.5 82.0 200.7 73.9 196.3 66.6 191.8 60.0 187.0 54.7 182.4 49.7 177.3Z"/><path fill="#ff9d00" d="M46.5 173.4L46.4 173.1 64.7 171.8 74.3 171.3 83.9 171.1 96.7 171.0 131.4 171.6 154.2 171.8 147.4 175.4 140.0 179.9 132.9 184.8 125.9 190.3 119.6 195.8 114.0 201.3 109.2 206.8 105.5 211.9 91.7 205.5 82.8 201.1 74.6 196.7 67.8 192.5 61.1 187.8 55.6 183.3 50.9 178.6Z"/><path fill="#ffa900" d="M47.5 174.7L47.2 174.3 60.0 173.5 71.1 172.9 81.9 172.6 94.8 172.6 128.5 173.2 151.0 173.4 144.4 177.1 137.4 181.7 130.7 186.5 124.4 191.5 118.8 196.5 113.7 201.7 109.2 206.8 105.5 211.9 91.7 205.5 82.8 201.1 75.2 197.1 68.4 192.9 62.1 188.6 56.6 184.1 51.7 179.4Z"/><path fill="#ffb500" d="M48.2 175.5L48.1 175.3 63.9 174.6 82.0 174.2 94.9 174.3 127.7 174.9 148.0 175.0 141.5 179.0 135.2 183.2 128.9 187.9 122.9 192.8 117.7 197.5 112.9 202.5 108.8 207.3 105.5 211.9 92.4 205.8 83.5 201.5 75.9 197.4 69.0 193.3 62.7 189.0 57.5 185.0 52.5 180.3Z"/><path fill="#ffc100" d="M49.0 176.4L65.3 175.8 80.4 175.7 124.9 176.5 145.2 176.7 138.9 180.7 132.9 184.8 127.4 189.1 121.8 193.8 117.0 198.3 112.5 202.9 108.8 207.3 105.5 211.9 92.4 205.8 83.5 201.5 75.9 197.4 69.6 193.7 63.2 189.4 58.0 185.4 53.4 181.2Z"/><path fill="#ffce00" d="M50.1 177.7L49.8 177.4 64.1 177.1 75.9 177.0 120.3 178.0 142.7 178.2 137.0 181.9 131.1 186.2 125.9 190.3 120.7 194.8 116.3 199.0 112.2 203.3 108.5 207.8 105.5 211.9 92.4 205.8 84.2 201.8 76.6 197.8 70.2 194.1 64.3 190.2 59.0 186.2 54.3 182.0Z"/><path fill="#ffda00" d="M50.9 178.6L50.7 178.4 72.6 178.3 117.1 179.5 140.6 179.6 135.2 183.2 129.6 187.3 124.8 191.2 120.0 195.4 115.5 199.7 111.8 203.7 108.5 207.8 105.5 211.9 92.4 205.8 84.2 201.8 77.2 198.2 70.8 194.5 64.9 190.6 59.5 186.6 55.2 182.9Z"/><path fill="#ffe600" d="M51.7 179.4L61.0 179.4 73.6 179.5 116.9 180.9 138.5 180.9 133.3 184.5 128.5 188.2 123.7 192.1 119.2 196.1 115.1 200.1 111.4 204.2 108.1 208.2 105.5 211.9 84.9 202.2 77.9 198.5 71.4 194.8 65.5 191.0 60.6 187.4 56.1 183.7Z"/><path fill="#fff200" d="M53.0 180.7L52.6 180.4 68.6 180.6 114.8 182.4 125.4 182.4 136.4 182.3 131.4 185.9 126.6 189.7 122.2 193.4 118.1 197.2 114.4 200.9 111.1 204.6 108.1 208.2 105.5 211.9 85.6 202.6 78.6 198.9 72.7 195.6 66.6 191.8 61.6 188.2 57.1 184.5Z"/><path fill="#e1f400" d="M53.8 181.6L53.6 181.4 70.8 181.9 112.5 183.9 123.1 184.1 134.2 183.9 129.6 187.3 125.1 190.9 121.1 194.4 117.4 197.9 114.0 201.3 110.7 205.0 107.7 208.7 105.5 211.9 86.4 202.9 79.3 199.3 73.3 196.0 67.8 192.5 62.7 189.0 58.0 185.4Z"/><path fill="#b9f200" d="M54.7 182.4L71.1 183.1 110.4 185.5 121.0 185.7 131.8 185.6 123.7 192.1 116.3 199.0 110.3 205.5 107.7 208.7 105.5 211.9 86.4 202.9 80.0 199.6 73.9 196.3 68.4 192.9 63.2 189.4 58.5 185.8Z"/><path fill="#92f000" d="M56.1 183.7L55.7 183.4 70.1 184.2 111.2 187.1 120.7 187.4 129.6 187.3 122.2 193.4 115.5 199.7 109.9 205.9 105.5 211.9 87.1 203.3 80.6 200.0 74.6 196.7 69.0 193.3 64.3 190.2 60.0 187.0Z"/><path fill="#6aee00" d="M57.1 184.5L56.8 184.3 59.3 184.5 75.7 185.6 111.1 188.9 118.4 189.2 127.4 189.1 120.7 194.8 114.8 200.5 109.6 206.4 105.5 211.9 87.1 203.3 75.2 197.1 70.2 194.1 65.5 191.0 61.1 187.8Z"/><path fill="#43ec00" d="M58.0 185.4L57.8 185.2 65.0 185.7 79.9 187.1 87.1 187.9 97.6 189.5 105.1 190.3 114.4 190.7 125.7 190.4 119.6 195.8 114.0 201.3 109.2 206.8 105.5 211.9 87.9 203.7 75.9 197.4 70.8 194.5 66.0 191.4 61.6 188.2Z"/><path fill="#26eb02" d="M59.0 186.2L58.9 186.1 63.9 186.5 75.9 187.7 92.2 190.4 102.4 191.6 107.4 192.0 112.7 192.1 124.2 191.7 118.5 196.8 113.3 202.1 108.8 207.3 105.5 211.9 87.9 203.7 76.6 197.8 71.4 194.8 67.2 192.2 62.7 189.0Z"/><path fill="#20e909" d="M60.0 187.0L69.4 187.9 90.4 191.7 100.7 193.1 105.7 193.4 111.0 193.5 116.7 193.4 122.7 193.0 117.4 197.9 112.9 202.5 108.8 207.3 105.5 211.9 88.6 204.0 77.2 198.2 72.0 195.2 67.8 192.5 63.8 189.8Z"/><path fill="#1be810" d="M61.1 187.8L68.0 189.0 89.1 193.0 99.1 194.4 104.0 194.8 109.4 194.9 115.1 194.7 121.3 194.2 116.6 198.6 112.2 203.3 108.5 207.8 105.5 211.9 88.6 204.0 77.9 198.5 69.0 193.3 64.9 190.6Z"/><path fill="#15e618" d="M63.2 189.4L62.9 189.2 68.4 190.2 90.3 194.6 98.0 195.8 102.6 196.2 108.0 196.2 113.7 196.0 119.9 195.5 115.5 199.7 111.8 203.7 108.5 207.8 105.5 211.9 89.4 204.4 79.3 199.3 70.8 194.5Z"/><path fill="#0fe51f" d="M65.5 191.0L65.0 190.7 68.2 191.3 89.6 195.9 95.5 196.7 100.5 197.1 105.8 197.2 111.6 197.0 118.8 196.5 114.8 200.5 111.4 204.2 108.1 208.2 105.5 211.9 90.9 205.1 81.3 200.4 72.7 195.6Z"/><path fill="#0ae326" d="M67.2 192.2L85.5 196.2 90.8 197.1 95.5 197.8 100.5 198.1 104.8 198.2 110.6 197.9 118.0 197.3 114.4 200.9 111.1 204.6 108.1 208.2 105.5 211.9 91.7 205.5 82.0 200.7 73.9 196.3Z"/><path fill="#04e22d" d="M69.6 193.7L87.2 197.6 91.7 198.3 96.4 198.9 100.5 199.2 105.0 199.1 109.7 198.8 117.2 198.0 113.7 201.7 110.7 205.0 107.7 208.7 105.5 211.9 92.4 205.8 83.5 201.5 75.9 197.4Z"/><path fill="#00e13a" d="M72.0 195.2L71.7 195.0 88.1 198.7 92.7 199.5 96.5 199.9 100.7 200.1 105.2 200.0 110.0 199.6 116.4 198.8 113.3 202.1 110.3 205.5 107.7 208.7 105.5 211.9 84.9 202.2 77.9 198.5Z"/><path fill="#00e357" d="M74.6 196.7L74.2 196.5 84.4 198.9 88.6 199.8 93.7 200.6 97.6 201.0 100.8 201.2 104.2 201.0 109.1 200.5 115.6 199.6 109.9 205.9 105.5 211.9 87.1 203.3 80.6 200.0Z"/><path fill="#00e474" d="M77.2 198.2L76.7 197.9 83.1 199.4 92.0 201.3 95.7 201.9 98.7 202.2 101.9 202.3 104.3 202.1 114.9 200.4 109.6 206.4 105.5 211.9 88.6 204.0Z"/><path fill="#00e692" d="M79.3 199.3L93.3 202.5 96.8 203.1 99.5 203.4 102.0 203.4 104.4 203.2 114.1 201.2 109.2 206.8 105.5 211.9 89.4 204.4Z"/><path fill="#00e7af" d="M82.0 200.7L81.6 200.5 96.1 204.0 99.0 204.4 100.9 204.6 104.6 204.3 113.2 202.2 108.8 207.3 105.5 211.9 91.7 205.5Z"/><path fill="#00e8cc" d="M84.2 201.8L97.3 205.2 101.1 205.8 103.4 205.6 104.8 205.3 112.3 203.2 108.5 207.8 105.5 211.9 92.4 205.8Z"/><path fill="#00eae9" d="M87.1 203.3L86.4 203.0 90.7 204.1 100.2 206.9 102.2 207.2 103.8 207.1 107.5 205.5 111.4 204.1 108.1 208.2 105.5 211.9Z"/><path fill="#01e8ff" d="M89.4 204.4L94.5 205.9 102.2 208.6 103.6 209.0 104.4 208.7 107.9 206.3 110.6 205.1 107.7 208.7 105.5 211.9Z"/><path fill="#03daff" d="M92.4 205.8L91.7 205.5 94.2 206.3 99.3 208.1 104.4 210.7 105.0 210.2 105.7 209.2 106.6 208.3 108.2 207.0 109.7 206.2 105.5 211.9Z"/><path fill="#06cdff" d="M94.8 207.0L99.1 208.5 104.9 211.1 105.2 211.1 105.9 210.0 106.8 209.0 108.5 207.7 105.5 211.9Z"/><path fill="#08bfff" d="M98.0 208.4L104.8 211.3 105.5 211.2 106.3 210.1 107.4 209.2 105.5 211.9Z"/><path fill="#0ab1ff" d="M103.0 210.7L104.7 211.4 105.8 211.3 106.3 210.8 105.5 211.9Z"/></g><line x1="41.7" y1="240.5" x2="39.0" y2="160.7" stroke="#222" stroke-width="0.6"/><line x1="41.7" y1="240.5" x2="104.4" y2="264.2" stroke="#222" stroke-width="0.6"/><line x1="104.4" y1="264.2" x2="156.0" y2="237.7" stroke="#222" stroke-width="0.6"/><line x1="41.7" y1="240.5" x2="40.2" y2="241.4" stroke="#222" stroke-width="0.5"/><text font-size="3.2" font-weight="bold" text-anchor="middle" stroke="#111" stroke-width=".2" transform="translate(36.7 242.5) rotate(-24) scale(1 .7)"><tspan y="1.1">0.000</tspan></text><line x1="41.0" y1="220.7" x2="39.5" y2="221.6" stroke="#222" stroke-width="0.5"/><text font-size="3.5" font-weight="bold" text-anchor="end" stroke="#111" stroke-width=".12" transform="translate(39.0 224.9) rotate(-16)">0.025</text><line x1="40.4" y1="201.0" x2="38.9" y2="201.9" stroke="#222" stroke-width="0.5"/><text font-size="3.5" font-weight="bold" text-anchor="end" stroke="#111" stroke-width=".12" transform="translate(38.4 205.2) rotate(-16)">0.050</text><line x1="39.7" y1="181.2" x2="38.2" y2="182.1" stroke="#222" stroke-width="0.5"/><text font-size="3.5" font-weight="bold" text-anchor="end" stroke="#111" stroke-width=".12" transform="translate(37.7 185.4) rotate(-16)">0.075</text><line x1="39.0" y1="161.5" x2="37.5" y2="162.4" stroke="#222" stroke-width="0.5"/><text font-size="3.5" font-weight="bold" text-anchor="end" stroke="#111" stroke-width=".12" transform="translate(37.0 165.7) rotate(-16)">0.100</text><line x1="52.5" y1="244.6" x2="50.8" y2="245.6" stroke="#222" stroke-width="0.55"/><text font-size="3" font-weight="bold" text-anchor="middle" stroke="#111" stroke-width=".1" transform="translate(49.9 247.5) rotate(-29)"><tspan y="1">0.05</tspan></text><line x1="65.5" y1="249.5" x2="63.8" y2="250.5" stroke="#222" stroke-width="0.55"/><text font-size="3" font-weight="bold" text-anchor="middle" stroke="#111" stroke-width=".1" transform="translate(62.9 252.4) rotate(-29)"><tspan y="1">0.10</tspan></text><line x1="78.4" y1="254.4" x2="76.7" y2="255.4" stroke="#222" stroke-width="0.55"/><text font-size="3" font-weight="bold" text-anchor="middle" stroke="#111" stroke-width=".1" transform="translate(75.8 257.3) rotate(-29)"><tspan y="1">0.15</tspan></text><line x1="91.4" y1="259.3" x2="89.7" y2="260.3" stroke="#222" stroke-width="0.55"/><text font-size="3" font-weight="bold" text-anchor="middle" stroke="#111" stroke-width=".1" transform="translate(88.8 262.2) rotate(-29)"><tspan y="1">0.20</tspan></text><line x1="104.4" y1="264.2" x2="102.7" y2="265.2" stroke="#222" stroke-width="0.55"/><text font-size="3" font-weight="bold" text-anchor="middle" stroke="#111" stroke-width=".1" transform="translate(101.8 267.1) rotate(-29)"><tspan y="1">0.25</tspan></text><line x1="110.8" y1="260.9" x2="112.8" y2="261.7" stroke="#222" stroke-width="0.55"/><text font-size="3" font-weight="bold" text-anchor="middle" stroke="#111" stroke-width=".1" transform="translate(114.6 262.8) rotate(22)"><tspan y="1">-40</tspan></text><line x1="125.0" y1="253.6" x2="127.0" y2="254.4" stroke="#222" stroke-width="0.55"/><text font-size="3" font-weight="bold" text-anchor="middle" stroke="#111" stroke-width=".1" transform="translate(128.8 255.5) rotate(22)"><tspan y="1">0</tspan></text><line x1="139.2" y1="246.3" x2="141.2" y2="247.1" stroke="#222" stroke-width="0.55"/><text font-size="3" font-weight="bold" text-anchor="middle" stroke="#111" stroke-width=".1" transform="translate(143.0 248.2) rotate(22)"><tspan y="1">40</tspan></text><line x1="151.9" y1="239.8" x2="153.9" y2="240.6" stroke="#222" stroke-width="0.55"/><text font-size="3" font-weight="bold" text-anchor="middle" stroke="#111" stroke-width=".1" transform="translate(155.7 241.7) rotate(22)"><tspan y="1">80</tspan></text><text font-size="6.45" text-anchor="middle" stroke="#111" stroke-width=".2" transform="translate(28.4 207.4) rotate(-91) scale(1 .8)">Volume Fraction of Retained Austenite (-)</text><text font-size="6.3" stroke="#111" stroke-width=".17" transform="translate(35.6 247.9) rotate(23.5) scale(1 .84)">Equivalent Plastic Strain (-)</text><text font-size="5.7" font-weight="bold" stroke="#111" stroke-width=".15" transform="translate(126.3 264.6) rotate(-26) scale(1 .9)">Temperature (°C)</text><circle cx="38.9" cy="160.5" r="1.25" fill="#1428e6"/><circle cx="46.0" cy="173.4" r="1.25" fill="#1428e6"/><circle cx="51.3" cy="178.2" r="1.25" fill="#1428e6"/><circle cx="57.4" cy="185.5" r="1.25" fill="#1428e6"/><circle cx="64.0" cy="190.0" r="1.25" fill="#1428e6"/><circle cx="70.3" cy="194.7" r="1.25" fill="#1428e6"/><circle cx="76.8" cy="200.0" r="1.25" fill="#1428e6"/><rect x="163.0" y="155.1" width="8.8" height="76.9" fill="url(#cb)"/><text font-size="6.5" stroke="#111" stroke-width=".12" transform="translate(173.3 157.2) scale(.79 1)">1.04×10<tspan dy="-2.3" font-size="3.8">-1</tspan></text><text font-size="6.5" stroke="#111" stroke-width=".12" transform="translate(173.3 176.4) scale(.79 1)">8.64×10<tspan dy="-2.3" font-size="3.8">-2</tspan></text><text font-size="6.5" stroke="#111" stroke-width=".12" transform="translate(173.3 195.7) scale(.79 1)">6.89×10<tspan dy="-2.3" font-size="3.8">-2</tspan></text><text font-size="6.5" stroke="#111" stroke-width=".12" transform="translate(173.3 214.9) scale(.79 1)">5.15×10<tspan dy="-2.3" font-size="3.8">-2</tspan></text><text font-size="6.5" stroke="#111" stroke-width=".12" transform="translate(173.3 234.1) scale(.79 1)">3.04×10<tspan dy="-2.3" font-size="3.8">-2</tspan></text><text font-size="4.6" font-weight="bold" stroke="#111" stroke-width=".12"><tspan x="118.2" y="222.6">QP980</tspan><tspan x="118.2" y="228.5">Uniaxial tension</tspan><tspan x="118.2" y="234.4">0.002 /s</tspan></text><text x="12.3" y="150.3" font-size="8.6">(c)</text></g><g><line x1="218.4" y1="240.5" x2="272.0" y2="220.1" stroke="#9a9a9a" stroke-width="0.45"/><line x1="272.0" y1="220.1" x2="332.7" y2="237.7" stroke="#9a9a9a" stroke-width="0.45"/><line x1="272.0" y1="220.1" x2="272.0" y2="150.8" stroke="#9a9a9a" stroke-width="0.45"/><line x1="215.7" y1="160.7" x2="272.0" y2="150.8" stroke="#9a9a9a" stroke-width="0.45"/><line x1="272.0" y1="150.8" x2="336.5" y2="157.8" stroke="#9a9a9a" stroke-width="0.45"/><line x1="336.5" y1="157.8" x2="332.7" y2="237.7" stroke="#9a9a9a" stroke-width="0.45"/><g fill-rule="evenodd"><path fill="#ff231e" d="M215.5 160.5L215.8 162.0 216.7 163.7 218.1 165.4 220.2 167.4 222.8 169.4 225.9 171.6 229.5 173.9 233.6 176.2 238.7 178.9 244.3 181.7 257.2 187.6 272.1 193.7 278.6 196.1 282.0 197.2 286.5 194.0 292.5 190.3 298.5 187.1 314.2 179.1 322.0 174.8 328.8 170.4 331.8 168.2 334.4 166.0 293.8 155.8 282.6 153.2 272.1 151.0Z"/><path fill="#ff2e1b" d="M217.5 160.8L219.6 160.3 263.7 152.5 268.6 151.7 270.3 151.6 277.9 152.2 284.5 153.6 299.7 157.2 334.4 166.0 328.8 170.4 322.0 174.8 314.2 179.1 298.5 187.1 292.5 190.3 286.5 194.0 282.0 197.2 278.6 196.1 271.3 193.4 255.8 187.0 243.2 181.1 232.2 175.4 227.9 172.9 224.1 170.4 221.0 168.1 218.7 166.0 216.7 163.7 216.1 162.6 215.6 161.5Z"/><path fill="#ff3918" d="M224.1 160.8L225.6 160.3 243.7 157.2 253.9 155.6 260.9 154.6 265.9 154.1 270.4 153.9 281.2 154.1 288.5 154.5 300.8 157.5 334.4 166.0 328.8 170.4 322.0 174.8 314.2 179.1 298.5 187.1 292.5 190.3 286.5 194.0 282.0 197.2 277.8 195.8 269.7 192.8 260.7 189.1 252.4 185.5 244.9 182.0 238.2 178.6 232.2 175.4 227.5 172.6 223.8 170.2 220.7 167.8 218.3 165.6 216.6 163.5Z"/><path fill="#ff4415" d="M231.7 160.8L233.0 160.3 246.7 158.2 254.9 157.1 261.8 156.4 267.8 156.0 273.7 155.8 287.3 156.2 298.2 156.9 334.4 166.0 328.8 170.4 322.0 174.8 314.2 179.1 298.5 187.1 292.5 190.3 286.5 194.0 282.0 197.2 276.1 195.2 266.6 191.6 257.2 187.6 248.0 183.4 240.3 179.7 233.6 176.2 227.9 172.9 223.1 169.7 220.4 167.6 218.2 165.5 226.3 163.0Z"/><path fill="#ff4f12" d="M241.5 160.6L242.0 160.4 243.9 160.2 254.1 158.9 267.2 157.9 280.1 157.7 294.4 158.3 307.6 159.2 334.4 166.0 328.8 170.4 322.0 174.8 314.2 179.1 298.5 187.1 292.5 190.3 286.5 194.0 282.0 197.2 276.1 195.2 265.1 190.9 254.4 186.4 244.9 182.0 236.6 177.8 230.0 174.1 224.5 170.6 220.4 167.5 225.4 166.3 233.7 163.9 238.9 162.0 240.5 161.3Z"/><path fill="#ff5a0e" d="M223.1 169.7L222.9 169.5 230.0 168.4 236.2 166.9 251.7 162.6 255.7 161.3 257.1 160.5 262.5 160.1 269.5 159.8 279.8 159.6 291.1 159.9 300.9 160.4 316.7 161.5 334.4 166.0 328.8 170.4 322.0 174.8 314.2 179.1 298.5 187.1 292.5 190.3 286.5 194.0 282.0 197.2 276.1 195.2 266.6 191.6 257.2 187.6 248.0 183.4 240.3 179.7 233.6 176.2 227.9 172.9Z"/><path fill="#ff650b" d="M225.5 171.4L235.5 170.5 243.6 169.5 251.5 168.0 258.4 165.9 263.7 165.0 273.4 163.6 282.5 162.9 290.3 162.7 299.8 162.7 311.8 163.2 325.9 163.9 334.4 166.0 328.8 170.4 322.0 174.8 314.2 179.1 298.5 187.1 292.5 190.3 286.5 194.0 282.0 197.2 277.0 195.5 268.2 192.2 259.3 188.5 250.5 184.6 243.2 181.1 236.1 177.5 230.4 174.4Z"/><path fill="#ff7008" d="M228.7 173.4L228.3 173.1 238.5 172.8 250.0 172.2 263.0 171.0 273.6 169.5 288.0 166.5 291.8 165.9 301.5 165.5 311.4 165.5 324.0 165.8 334.1 166.3 328.4 170.7 321.7 175.0 313.8 179.3 298.5 187.1 292.5 190.3 286.5 194.0 282.0 197.2 277.8 195.8 269.7 192.8 253.1 185.8 239.2 179.2 233.6 176.2Z"/><path fill="#ff7a05" d="M230.8 174.6L230.5 174.4 257.9 174.3 271.8 173.8 282.2 173.0 300.4 170.7 309.7 169.7 320.4 169.1 330.6 169.0 325.0 172.9 318.3 176.9 311.9 180.3 297.3 187.7 291.0 191.2 286.1 194.2 282.0 197.2 278.6 196.1 271.3 193.4 255.1 186.7 242.0 180.6 236.1 177.5Z"/><path fill="#ff8502" d="M233.1 175.9L232.8 175.7 262.7 176.3 277.9 176.0 289.7 175.3 315.8 172.6 326.7 171.8 322.0 174.8 316.4 177.9 297.7 187.5 291.7 190.8 286.5 194.0 282.0 197.2 278.6 196.1 272.1 193.7 257.2 187.6 244.3 181.7Z"/><path fill="#ff9100" d="M235.6 177.3L235.1 177.0 262.3 178.1 273.1 178.1 280.6 178.0 289.2 177.6 301.5 176.7 322.4 174.6 314.2 179.1 298.5 187.1 292.5 190.3 286.5 194.0 282.0 197.2 278.6 196.1 272.9 194.0 258.6 188.2 246.1 182.6Z"/><path fill="#ff9d00" d="M237.6 178.4L264.1 179.5 279.0 179.6 293.9 179.0 318.1 177.0 292.9 190.1 286.9 193.7 282.0 197.2 279.5 196.4 273.7 194.3 260.0 188.8 248.0 183.4Z"/><path fill="#ffa900" d="M239.8 179.5L239.5 179.3 266.9 180.9 280.4 181.2 287.2 181.0 294.6 180.6 314.9 178.8 298.5 187.1 292.5 190.3 286.5 194.0 282.0 197.2 279.5 196.4 273.7 194.3 261.4 189.4 249.9 184.3Z"/><path fill="#ffb500" d="M242.0 180.6L241.6 180.4 268.8 182.3 280.3 182.7 286.5 182.6 292.7 182.2 311.6 180.5 298.5 187.1 292.1 190.5 286.5 194.0 282.0 197.2 274.5 194.6 262.9 190.0 251.8 185.2Z"/><path fill="#ffc100" d="M243.7 181.4L267.4 183.5 279.6 184.1 285.9 184.0 292.1 183.7 298.5 183.2 308.2 182.2 297.7 187.5 291.7 190.8 286.5 194.0 282.0 197.2 275.3 194.9 264.4 190.6 253.8 186.1Z"/><path fill="#ffce00" d="M246.1 182.6L245.9 182.4 267.7 184.7 278.6 185.4 283.5 185.4 289.1 185.2 305.1 183.8 296.6 188.1 291.0 191.2 286.1 194.2 282.0 197.2 276.1 195.2 265.9 191.2 255.8 187.0Z"/><path fill="#ffda00" d="M248.6 183.7L248.1 183.5 272.2 186.5 279.1 186.9 283.2 186.9 287.6 186.7 302.4 185.1 295.5 188.7 290.2 191.6 285.7 194.5 282.0 197.2 277.0 195.5 267.4 191.9 257.9 187.9Z"/><path fill="#ffe600" d="M250.5 184.6L257.1 185.5 270.7 187.7 277.9 188.4 281.7 188.4 286.1 188.2 299.7 186.5 294.0 189.5 289.1 192.3 285.4 194.7 282.0 197.2 277.0 195.5 268.2 192.2 259.3 188.5Z"/><path fill="#fff200" d="M253.1 185.8L269.6 188.7 277.1 189.6 280.8 189.7 285.2 189.4 297.1 187.8 288.4 192.8 285.0 195.0 282.0 197.2 277.8 195.8 269.7 192.8Z"/><path fill="#e1f400" d="M256.5 187.3L271.3 190.1 277.5 190.9 280.0 191.0 282.8 190.8 294.9 189.0 287.6 193.2 282.0 197.2 278.6 196.1 271.3 193.4Z"/><path fill="#b9f200" d="M260.0 188.8L272.1 191.3 275.7 191.8 278.4 192.1 280.7 192.0 283.8 191.7 293.0 190.0 286.9 193.7 282.0 197.2 279.5 196.4 273.7 194.3Z"/><path fill="#92f000" d="M263.6 190.3L263.1 190.1 274.9 192.6 279.1 193.1 281.3 193.1 283.5 192.7 291.2 191.1 286.1 194.2 282.0 197.2 275.3 194.9Z"/><path fill="#6aee00" d="M266.6 191.6L276.9 193.8 280.0 194.2 281.8 194.0 289.4 192.1 285.4 194.7 282.0 197.2 276.1 195.2Z"/><path fill="#43ec00" d="M269.7 192.8L269.0 192.5 270.8 192.9 279.1 195.1 280.8 195.2 287.8 193.1 284.6 195.2 282.0 197.2 277.8 195.8Z"/><path fill="#26eb02" d="M272.1 193.7L276.6 194.9 280.9 196.2 281.3 196.2 283.2 195.2 286.4 194.0 282.0 197.2 278.6 196.1Z"/><path fill="#20e909" d="M275.3 194.9L274.5 194.6 277.2 195.4 281.4 196.8 281.7 196.7 283.4 195.6 285.0 195.0 282.0 197.2Z"/><path fill="#1be810" d="M277.8 195.8L281.3 196.9 282.0 196.8 283.7 195.9 282.0 197.2Z"/></g><line x1="218.4" y1="240.5" x2="215.7" y2="160.7" stroke="#222" stroke-width="0.6"/><line x1="218.4" y1="240.5" x2="281.1" y2="264.2" stroke="#222" stroke-width="0.6"/><line x1="281.1" y1="264.2" x2="332.7" y2="237.7" stroke="#222" stroke-width="0.6"/><line x1="218.4" y1="240.5" x2="216.9" y2="241.4" stroke="#222" stroke-width="0.5"/><text font-size="3.2" font-weight="bold" text-anchor="middle" stroke="#111" stroke-width=".2" transform="translate(213.4 242.5) rotate(-24) scale(1 .7)"><tspan y="1.1">0.000</tspan></text><line x1="217.7" y1="220.7" x2="216.2" y2="221.6" stroke="#222" stroke-width="0.5"/><text font-size="3.5" font-weight="bold" text-anchor="end" stroke="#111" stroke-width=".12" transform="translate(215.7 224.9) rotate(-16)">0.025</text><line x1="217.1" y1="201.0" x2="215.6" y2="201.9" stroke="#222" stroke-width="0.5"/><text font-size="3.5" font-weight="bold" text-anchor="end" stroke="#111" stroke-width=".12" transform="translate(215.1 205.2) rotate(-16)">0.050</text><line x1="216.4" y1="181.2" x2="214.9" y2="182.1" stroke="#222" stroke-width="0.5"/><text font-size="3.5" font-weight="bold" text-anchor="end" stroke="#111" stroke-width=".12" transform="translate(214.4 185.4) rotate(-16)">0.075</text><line x1="215.7" y1="161.5" x2="214.2" y2="162.4" stroke="#222" stroke-width="0.5"/><text font-size="3.5" font-weight="bold" text-anchor="end" stroke="#111" stroke-width=".12" transform="translate(213.7 165.7) rotate(-16)">0.100</text><line x1="229.2" y1="244.6" x2="227.5" y2="245.6" stroke="#222" stroke-width="0.55"/><text font-size="3" font-weight="bold" text-anchor="middle" stroke="#111" stroke-width=".1" transform="translate(226.6 247.5) rotate(-29)"><tspan y="1">0.05</tspan></text><line x1="242.2" y1="249.5" x2="240.5" y2="250.5" stroke="#222" stroke-width="0.55"/><text font-size="3" font-weight="bold" text-anchor="middle" stroke="#111" stroke-width=".1" transform="translate(239.6 252.4) rotate(-29)"><tspan y="1">0.10</tspan></text><line x1="255.1" y1="254.4" x2="253.4" y2="255.4" stroke="#222" stroke-width="0.55"/><text font-size="3" font-weight="bold" text-anchor="middle" stroke="#111" stroke-width=".1" transform="translate(252.5 257.3) rotate(-29)"><tspan y="1">0.15</tspan></text><line x1="268.1" y1="259.3" x2="266.4" y2="260.3" stroke="#222" stroke-width="0.55"/><text font-size="3" font-weight="bold" text-anchor="middle" stroke="#111" stroke-width=".1" transform="translate(265.5 262.2) rotate(-29)"><tspan y="1">0.20</tspan></text><line x1="281.1" y1="264.2" x2="279.4" y2="265.2" stroke="#222" stroke-width="0.55"/><text font-size="3" font-weight="bold" text-anchor="middle" stroke="#111" stroke-width=".1" transform="translate(278.5 267.1) rotate(-29)"><tspan y="1">0.25</tspan></text><line x1="287.6" y1="260.9" x2="289.6" y2="261.7" stroke="#222" stroke-width="0.55"/><text font-size="3" font-weight="bold" text-anchor="middle" stroke="#111" stroke-width=".1" transform="translate(291.4 262.8) rotate(22)"><tspan y="1">-40</tspan></text><line x1="301.7" y1="253.6" x2="303.7" y2="254.4" stroke="#222" stroke-width="0.55"/><text font-size="3" font-weight="bold" text-anchor="middle" stroke="#111" stroke-width=".1" transform="translate(305.5 255.5) rotate(22)"><tspan y="1">0</tspan></text><line x1="315.9" y1="246.3" x2="317.9" y2="247.1" stroke="#222" stroke-width="0.55"/><text font-size="3" font-weight="bold" text-anchor="middle" stroke="#111" stroke-width=".1" transform="translate(319.7 248.2) rotate(22)"><tspan y="1">40</tspan></text><line x1="328.6" y1="239.8" x2="330.6" y2="240.6" stroke="#222" stroke-width="0.55"/><text font-size="3" font-weight="bold" text-anchor="middle" stroke="#111" stroke-width=".1" transform="translate(332.4 241.7) rotate(22)"><tspan y="1">80</tspan></text><text font-size="6.45" text-anchor="middle" stroke="#111" stroke-width=".2" transform="translate(205.1 207.4) rotate(-91) scale(1 .8)">Volume Fraction of Retained Austenite (-)</text><text font-size="6.3" stroke="#111" stroke-width=".17" transform="translate(212.3 247.9) rotate(23.5) scale(1 .84)">Equivalent Plastic Strain (-)</text><text font-size="5.7" font-weight="bold" stroke="#111" stroke-width=".15" transform="translate(303.0 264.6) rotate(-26) scale(1 .9)">Temperature (°C)</text><circle cx="215.5" cy="160.5" r="1.25" fill="#1428e6"/><circle cx="225.5" cy="158.4" r="1.25" fill="#1428e6"/><circle cx="233.9" cy="156.6" r="1.25" fill="#1428e6"/><circle cx="247.1" cy="155.0" r="1.25" fill="#1428e6"/><circle cx="258.9" cy="152.6" r="1.25" fill="#1428e6"/><circle cx="272.1" cy="151.0" r="1.25" fill="#1428e6"/><circle cx="231.3" cy="163.7" r="1.25" fill="#1428e6"/><circle cx="244.5" cy="162.4" r="1.25" fill="#1428e6"/><circle cx="253.7" cy="158.9" r="1.25" fill="#1428e6"/><circle cx="266.8" cy="157.1" r="1.25" fill="#1428e6"/><circle cx="280.0" cy="155.8" r="1.25" fill="#1428e6"/><circle cx="289.2" cy="155.0" r="1.25" fill="#1428e6"/><circle cx="298.4" cy="157.9" r="1.25" fill="#1428e6"/><circle cx="237.9" cy="166.3" r="1.25" fill="#1428e6"/><circle cx="247.9" cy="165.0" r="1.25" fill="#1428e6"/><circle cx="260.3" cy="161.0" r="1.25" fill="#1428e6"/><circle cx="272.9" cy="158.9" r="1.25" fill="#1428e6"/><circle cx="283.9" cy="159.7" r="1.25" fill="#1428e6"/><circle cx="222.1" cy="169.5" r="1.25" fill="#1428e6"/><circle cx="227.4" cy="172.1" r="1.25" fill="#1428e6"/><circle cx="232.6" cy="173.4" r="1.25" fill="#1428e6"/><circle cx="244.5" cy="169.7" r="1.25" fill="#1428e6"/><circle cx="253.7" cy="167.6" r="1.25" fill="#1428e6"/><circle cx="266.0" cy="163.2" r="1.25" fill="#1428e6"/><circle cx="272.9" cy="164.5" r="1.25" fill="#1428e6"/><circle cx="280.0" cy="165.5" r="1.25" fill="#1428e6"/><circle cx="251.0" cy="172.9" r="1.25" fill="#1428e6"/><circle cx="256.8" cy="174.2" r="1.25" fill="#1428e6"/><circle cx="268.2" cy="172.9" r="1.25" fill="#1428e6"/><circle cx="240.5" cy="180.0" r="1.25" fill="#1428e6"/><circle cx="244.5" cy="183.4" r="1.25" fill="#1428e6"/><circle cx="247.1" cy="183.4" r="1.25" fill="#1428e6"/><rect x="339.7" y="155.1" width="8.8" height="76.9" fill="url(#cb)"/><text font-size="6.5" stroke="#111" stroke-width=".12" transform="translate(350.0 157.2) scale(.79 1)">1.04×10<tspan dy="-2.3" font-size="3.8">-1</tspan></text><text font-size="6.5" stroke="#111" stroke-width=".12" transform="translate(350.0 176.4) scale(.79 1)">8.64×10<tspan dy="-2.3" font-size="3.8">-2</tspan></text><text font-size="6.5" stroke="#111" stroke-width=".12" transform="translate(350.0 195.7) scale(.79 1)">6.89×10<tspan dy="-2.3" font-size="3.8">-2</tspan></text><text font-size="6.5" stroke="#111" stroke-width=".12" transform="translate(350.0 214.9) scale(.79 1)">5.15×10<tspan dy="-2.3" font-size="3.8">-2</tspan></text><text font-size="6.5" stroke="#111" stroke-width=".12" transform="translate(350.0 234.1) scale(.79 1)">3.04×10<tspan dy="-2.3" font-size="3.8">-2</tspan></text><text font-size="4.6" font-weight="bold" stroke="#111" stroke-width=".12"><tspan x="295.0" y="222.6">QP980</tspan><tspan x="295.0" y="228.5">Uniaxial tension</tspan><tspan x="295.0" y="234.4">0.1 /s</tspan></text><text x="188.9" y="150.5" font-size="8.6">(d)</text></g><g><line x1="41.9" y1="375.6" x2="95.5" y2="355.2" stroke="#9a9a9a" stroke-width="0.45"/><line x1="95.5" y1="355.2" x2="156.2" y2="372.8" stroke="#9a9a9a" stroke-width="0.45"/><line x1="95.5" y1="355.2" x2="95.5" y2="285.9" stroke="#9a9a9a" stroke-width="0.45"/><line x1="39.2" y1="295.8" x2="95.5" y2="285.9" stroke="#9a9a9a" stroke-width="0.45"/><line x1="95.5" y1="285.9" x2="160.0" y2="292.9" stroke="#9a9a9a" stroke-width="0.45"/><line x1="160.0" y1="292.9" x2="156.2" y2="372.8" stroke="#9a9a9a" stroke-width="0.45"/><g fill-rule="evenodd"><path fill="#ff231e" d="M39.5 295.5L40.4 302.6 41.3 307.0 42.5 310.9 45.0 317.6 47.4 322.9 50.3 328.0 53.5 332.8 57.1 337.2 61.1 341.4 65.4 345.3 70.1 349.1 75.1 352.7 82.6 357.5 89.9 361.9 98.5 366.6 106.0 370.5 110.1 364.7 114.6 358.9 119.4 353.2 124.6 347.6 130.2 342.1 136.9 335.9 158.2 317.1 140.9 311.7 132.2 308.9 123.8 305.7 116.9 302.5 113.5 300.8 110.4 298.9 107.5 297.1 104.6 295.0 102.1 292.9 99.7 290.6 97.6 288.4 95.5 286.0Z"/><path fill="#ff2e1b" d="M39.6 296.4L39.6 296.1 44.8 295.4 86.5 288.0 92.2 287.1 96.3 286.9 100.4 291.3 105.3 295.5 110.8 299.2 117.4 302.8 124.4 305.9 132.2 308.9 140.9 311.7 158.2 317.1 136.9 335.9 130.2 342.1 124.6 347.6 119.4 353.2 114.6 358.9 110.1 364.7 106.0 370.5 98.5 366.6 89.9 361.9 82.6 357.5 75.1 352.7 70.1 349.1 65.4 345.3 61.1 341.4 57.6 337.8 54.4 333.9 51.1 329.2 48.1 324.2 45.6 318.9 43.4 313.5 41.5 307.7 40.6 303.4Z"/><path fill="#ff3918" d="M39.7 297.4L39.7 297.2 54.3 295.4 85.6 290.1 92.2 289.3 97.9 288.8 102.4 293.1 107.2 296.8 112.6 300.2 118.9 303.5 125.5 306.4 133.5 309.3 158.2 317.1 136.9 335.9 130.2 342.1 124.6 347.6 119.4 353.2 114.6 358.9 110.1 364.7 106.0 370.5 98.5 366.6 89.9 361.9 82.6 357.5 75.1 352.7 70.1 349.1 65.4 345.3 61.1 341.4 57.6 337.8 54.4 333.9 51.1 329.2 48.1 324.2 45.6 318.9 43.4 313.5 41.5 307.7 40.6 303.4Z"/><path fill="#ff4415" d="M39.9 298.6L39.9 298.4 61.4 295.7 83.5 292.3 92.1 291.3 99.7 290.7 104.0 294.4 108.7 297.9 114.4 301.3 120.5 304.2 126.7 306.8 134.1 309.5 158.2 317.1 136.9 335.9 130.2 342.1 124.6 347.6 119.4 353.2 114.6 358.9 110.1 364.7 106.0 370.5 98.5 366.6 89.9 361.9 82.6 357.5 75.8 353.2 70.7 349.6 66.0 345.8 61.6 341.9 58.1 338.3 54.8 334.5 51.5 329.8 48.8 325.5 46.2 320.3 43.9 314.9 41.7 308.3 40.7 304.2Z"/><path fill="#ff4f12" d="M40.1 300.1L40.0 299.5 72.2 295.6 83.5 294.0 93.0 293.0 101.7 292.5 105.7 295.8 110.4 298.9 115.9 302.0 121.6 304.7 127.9 307.3 134.8 309.7 158.2 317.1 136.9 335.9 130.2 342.1 124.6 347.6 119.4 353.2 114.6 358.9 110.1 364.7 106.0 370.5 98.5 366.6 89.9 361.9 82.6 357.5 75.8 353.2 70.7 349.6 66.6 346.3 62.2 342.4 58.6 338.8 54.8 334.5 51.9 330.4 49.2 326.1 46.5 320.9 44.2 315.6 42.1 309.6 40.8 304.9Z"/><path fill="#ff5a0e" d="M40.2 300.9L40.2 300.7 79.8 296.0 93.4 294.7 103.7 294.2 107.9 297.4 112.6 300.2 117.4 302.8 123.2 305.4 129.1 307.7 136.1 310.2 158.2 317.1 136.9 335.9 130.2 342.1 124.6 347.6 119.4 353.2 114.6 358.9 110.1 364.7 106.0 370.5 98.5 366.6 90.6 362.3 83.3 357.9 76.4 353.6 72.0 350.5 67.2 346.8 62.7 342.9 59.1 339.3 55.3 335.0 52.3 331.0 49.5 326.7 46.8 321.6 44.4 316.2 42.1 309.6 40.8 304.9Z"/><path fill="#ff650b" d="M40.4 302.6L40.3 301.9 73.7 298.0 92.1 296.4 99.2 296.0 105.8 295.9 110.0 298.7 114.4 301.3 119.4 303.8 124.9 306.1 130.3 308.2 136.8 310.4 158.2 317.1 136.9 335.9 130.2 342.1 124.6 347.6 119.4 353.2 114.6 358.9 110.1 364.7 106.0 370.5 98.5 366.6 90.6 362.3 83.3 357.9 76.4 353.6 72.0 350.5 67.2 346.8 63.2 343.4 59.6 339.9 55.8 335.6 52.7 331.6 49.9 327.4 47.4 322.9 45.0 317.6 42.5 310.9 41.3 307.0Z"/><path fill="#ff7008" d="M40.6 303.4L40.5 303.0 46.9 302.3 66.0 300.1 80.9 298.6 95.6 297.7 108.2 297.6 112.1 300.0 116.4 302.3 121.0 304.5 126.1 306.6 137.5 310.6 158.2 317.1 136.9 335.9 130.2 342.1 124.6 347.6 119.4 353.2 114.6 358.9 110.1 364.7 106.0 370.5 98.5 366.6 90.6 362.3 83.3 357.9 76.4 353.6 72.0 350.5 67.2 346.8 63.2 343.4 59.6 339.9 56.2 336.1 53.1 332.2 50.3 328.0 47.8 323.5 45.6 318.9 43.4 313.5 41.7 308.3Z"/><path fill="#ff7a05" d="M40.8 304.9L40.7 304.2 63.3 301.6 79.8 300.0 88.5 299.4 96.1 299.1 103.5 299.0 110.6 299.1 114.4 301.3 118.4 303.3 122.7 305.2 127.9 307.3 138.8 311.1 158.2 317.1 136.9 335.9 130.2 342.1 124.6 347.6 119.4 353.2 114.6 358.9 110.1 364.7 106.0 370.5 98.5 366.6 90.6 362.3 84.0 358.4 77.1 354.0 72.6 350.9 67.7 347.3 63.8 343.9 60.1 340.4 56.7 336.7 53.5 332.8 50.7 328.6 48.5 324.8 46.2 320.3 44.2 315.6 42.1 309.6Z"/><path fill="#ff8502" d="M41.0 305.6L40.9 305.3 58.7 303.3 72.9 301.9 83.3 301.0 91.3 300.6 98.7 300.4 105.7 300.4 113.3 300.6 121.0 304.5 129.7 308.0 139.5 311.3 158.2 317.1 136.9 335.9 130.2 342.1 124.6 347.6 119.4 353.2 114.6 358.9 110.1 364.7 106.0 370.5 98.5 366.6 90.6 362.3 84.0 358.4 77.1 354.0 72.6 350.9 68.3 347.7 64.3 344.4 60.6 340.9 57.1 337.2 54.0 333.3 51.1 329.2 48.8 325.5 46.5 320.9 44.4 316.2 42.3 310.3Z"/><path fill="#ff9100" d="M41.3 307.0L41.2 306.5 50.6 305.4 70.3 303.4 83.1 302.3 91.8 301.9 99.6 301.7 107.5 301.8 116.2 302.2 123.2 305.4 131.6 308.6 140.9 311.7 158.2 317.1 136.9 335.9 130.2 342.1 124.6 347.6 119.4 353.2 114.6 358.9 110.1 364.7 106.0 370.5 99.3 367.1 91.4 362.7 84.7 358.8 77.8 354.5 73.2 351.4 68.9 348.2 64.9 344.9 61.1 341.4 57.6 337.8 54.4 333.9 51.5 329.8 49.2 326.1 46.8 321.6 44.7 316.9 42.5 310.9Z"/><path fill="#ff9d00" d="M41.5 307.7L41.5 307.5 68.1 304.8 86.3 303.4 94.6 303.1 102.8 303.1 110.5 303.3 119.4 303.7 126.1 306.6 133.5 309.3 158.2 317.1 136.9 335.9 130.2 342.1 124.6 347.6 119.4 353.2 114.6 358.9 110.1 364.7 106.0 370.5 99.3 367.1 91.4 362.7 84.7 358.8 77.8 354.5 73.2 351.4 68.9 348.2 64.9 344.9 61.1 341.4 57.6 337.8 54.8 334.5 51.9 330.4 49.5 326.7 47.1 322.2 45.0 317.6 42.7 311.5Z"/><path fill="#ffa900" d="M41.9 309.0L41.7 308.4 48.2 307.8 70.6 305.7 86.7 304.7 95.5 304.4 104.1 304.4 112.8 304.7 122.8 305.3 128.5 307.5 135.5 310.0 158.2 317.1 136.9 335.9 130.2 342.1 124.6 347.6 119.4 353.2 114.6 358.9 110.1 364.7 106.0 370.5 99.3 367.1 91.4 362.7 84.7 358.8 78.4 354.9 73.9 351.8 69.5 348.6 65.4 345.3 61.6 341.9 58.1 338.3 55.3 335.0 52.3 331.0 49.9 327.4 47.8 323.5 45.6 318.9 43.9 314.9Z"/><path fill="#ffb500" d="M42.1 309.6L42.0 309.4 63.4 307.4 76.3 306.4 86.8 305.8 95.6 305.6 104.5 305.6 114.4 305.9 125.7 306.4 137.5 310.6 158.2 317.1 136.9 335.9 130.2 342.1 124.6 347.6 119.4 353.2 114.6 358.9 110.1 364.7 106.0 370.5 99.3 367.1 91.4 362.7 84.7 358.8 78.4 354.9 73.9 351.8 69.5 348.6 65.4 345.3 61.6 341.9 58.1 338.3 55.3 335.0 52.3 331.0 49.9 327.4 47.8 323.5 45.6 318.9 43.9 314.9Z"/><path fill="#ffc100" d="M42.5 310.9L42.3 310.4 57.5 308.9 72.4 307.7 86.0 306.9 95.1 306.7 104.6 306.7 114.9 306.9 126.7 307.5 128.8 307.6 138.8 311.1 158.2 317.1 136.9 335.9 130.2 342.1 124.6 347.6 119.4 353.2 114.6 358.9 110.1 364.7 106.0 370.5 99.3 367.1 91.4 362.7 84.7 358.8 78.4 354.9 73.9 351.8 69.5 348.6 66.0 345.8 62.2 342.4 58.6 338.8 55.8 335.6 53.1 332.2 50.7 328.6 48.5 324.8 46.2 320.3 44.4 316.2Z"/><path fill="#ffce00" d="M42.7 311.5L42.6 311.3 63.1 309.4 74.6 308.5 85.2 308.0 94.4 307.7 103.8 307.7 123.9 308.3 132.0 308.8 140.9 311.7 158.2 317.1 136.9 335.9 130.2 342.1 124.6 347.6 119.4 353.2 114.6 358.9 110.1 364.7 106.0 370.5 99.3 367.1 91.4 362.7 79.1 355.3 74.5 352.3 70.1 349.1 66.0 345.8 62.7 342.9 59.1 339.3 56.2 336.1 53.5 332.8 50.7 328.6 48.5 324.8 46.2 320.3 44.4 316.2Z"/><path fill="#ffda00" d="M43.2 312.8L43.0 312.3 50.6 311.5 65.7 310.1 80.3 309.2 89.3 308.8 98.3 308.7 117.1 309.0 135.3 309.9 158.2 317.1 136.9 335.9 130.2 342.1 124.6 347.6 119.4 353.2 114.6 358.9 110.1 364.7 106.0 370.5 99.3 367.1 92.2 363.2 79.8 355.8 75.1 352.7 70.7 349.6 66.6 346.3 63.2 343.4 59.6 339.9 56.7 336.7 54.0 333.3 51.5 329.8 49.2 326.1 46.8 321.6 45.0 317.6Z"/><path fill="#ffe600" d="M43.4 313.5L43.3 313.2 58.3 311.8 70.8 310.8 79.9 310.2 96.7 309.7 114.1 309.9 125.8 310.4 139.3 311.2 158.2 317.1 136.9 335.9 130.2 342.1 124.6 347.6 119.4 353.2 114.6 358.9 110.1 364.7 106.0 370.5 99.3 367.1 92.2 363.2 79.8 355.8 75.1 352.7 70.7 349.6 66.6 346.3 63.2 343.4 59.6 339.9 56.7 336.7 54.0 333.3 51.5 329.8 49.2 326.1 46.8 321.6 45.0 317.6Z"/><path fill="#fff200" d="M43.9 314.9L43.7 314.3 45.5 314.1 60.9 312.6 74.1 311.6 90.3 310.8 106.6 310.8 122.4 311.4 144.0 312.7 158.2 317.1 136.9 335.9 130.2 342.1 124.6 347.6 119.4 353.2 114.6 358.9 110.1 364.7 106.0 370.5 99.3 367.1 92.2 363.2 80.5 356.2 75.8 353.2 71.3 350.0 67.2 346.8 63.8 343.9 60.6 340.9 57.6 337.8 54.8 334.5 52.3 331.0 49.9 327.4 47.8 323.5 45.9 319.6Z"/><path fill="#e1f400" d="M44.2 315.6L44.1 315.4 56.6 314.0 74.4 312.6 88.9 312.0 103.1 311.9 121.0 312.5 148.8 314.2 158.2 317.1 136.9 335.9 130.2 342.1 124.6 347.6 119.4 353.2 114.6 358.9 110.1 364.7 106.0 370.5 93.0 363.6 81.2 356.6 75.8 353.2 72.0 350.5 67.7 347.3 64.3 344.4 60.6 340.9 57.6 337.8 54.8 334.5 52.3 331.0 49.9 327.4 47.8 323.5 45.9 319.6Z"/><path fill="#b9f200" d="M44.7 316.9L44.6 316.6 48.2 316.2 68.4 314.1 83.3 313.2 97.7 313.0 107.9 313.1 118.6 313.5 153.6 315.7 158.2 317.1 136.9 335.9 130.2 342.1 124.6 347.6 119.4 353.2 114.6 358.9 110.1 364.7 106.0 370.5 93.7 364.0 81.9 357.1 73.2 351.4 68.9 348.2 64.9 344.9 61.6 341.9 58.6 338.8 55.8 335.6 53.1 332.2 50.7 328.6 48.5 324.8 46.5 320.9Z"/><path fill="#92f000" d="M45.3 318.3L45.1 317.8 56.4 316.5 67.2 315.4 80.4 314.5 93.0 314.1 104.5 314.2 115.2 314.6 158.2 317.1 136.9 335.9 130.2 342.1 124.6 347.6 119.4 353.2 114.6 358.9 110.1 364.7 106.0 370.5 93.7 364.0 82.6 357.5 73.2 351.4 68.9 348.2 65.4 345.3 62.2 342.4 59.1 339.3 56.2 336.1 53.5 332.8 51.1 329.2 49.2 326.1 47.1 322.2Z"/><path fill="#6aee00" d="M45.9 319.6L45.6 318.9 58.5 317.4 75.6 316.0 90.1 315.5 98.9 315.4 108.2 315.6 137.3 317.1 157.6 317.6 136.6 336.2 130.2 342.1 124.6 347.6 119.4 353.2 114.6 358.9 110.1 364.7 106.0 370.5 94.5 364.5 83.3 357.9 73.9 351.8 69.5 348.6 66.0 345.8 62.7 342.9 59.6 339.9 56.7 336.7 54.4 333.9 51.9 330.4 49.9 327.4 47.8 323.5Z"/><path fill="#43ec00" d="M46.2 320.3L46.1 320.1 53.9 319.2 70.8 317.5 79.8 317.0 91.1 316.7 102.4 316.8 130.8 317.5 156.1 318.9 136.2 336.5 129.9 342.5 124.3 348.0 119.0 353.6 114.6 358.9 110.1 364.7 106.0 370.5 94.5 364.5 83.3 357.9 73.9 351.8 69.5 348.6 66.0 345.8 62.7 342.9 59.6 339.9 56.7 336.7 54.4 333.9 51.9 330.4 49.9 327.4 48.1 324.2Z"/><path fill="#26eb02" d="M46.8 321.6L57.5 320.1 70.2 318.9 81.9 318.1 93.6 317.8 102.4 317.8 112.5 318.1 154.6 320.2 135.5 337.2 129.1 343.2 123.9 348.4 119.0 353.6 114.6 358.9 110.1 364.7 106.0 370.5 94.5 364.5 83.3 357.9 74.5 352.3 70.1 349.1 66.6 346.3 60.6 340.9 57.6 337.8 55.3 335.0 53.1 332.2 50.7 328.6 48.8 325.5Z"/><path fill="#20e909" d="M47.4 322.9L59.9 321.4 70.9 320.3 80.7 319.6 91.3 319.3 100.2 319.3 109.8 319.5 139.7 321.0 153.1 321.5 135.1 337.6 128.7 343.5 123.5 348.8 118.7 354.0 114.2 359.3 110.1 364.7 106.0 370.5 94.5 364.5 84.0 358.4 74.5 352.3 67.2 346.8 61.1 341.4 58.1 338.3 55.8 335.6 53.5 332.8 51.1 329.2Z"/><path fill="#1be810" d="M48.5 324.8L48.2 324.2 64.8 322.4 77.2 321.4 88.9 321.0 97.3 320.9 106.1 321.1 137.0 322.4 151.7 322.8 134.3 338.2 128.4 343.9 123.2 349.2 118.3 354.4 114.2 359.3 110.1 364.7 106.0 370.5 95.3 364.9 84.7 358.8 75.1 352.7 68.3 347.7 62.2 342.4 59.1 339.3 56.7 336.7 52.3 331.0Z"/><path fill="#15e618" d="M49.2 326.1L48.9 325.6 65.2 324.0 76.5 323.1 87.6 322.7 103.5 322.7 135.3 323.8 150.2 324.1 133.6 338.9 127.6 344.6 122.8 349.5 118.3 354.4 113.8 359.8 109.7 365.2 106.0 370.5 95.3 364.9 85.4 359.3 75.8 353.2 68.9 348.2 62.7 342.9 57.6 337.8 53.1 332.2Z"/><path fill="#0fe51f" d="M49.9 327.4L49.7 327.0 65.5 325.5 76.2 324.8 87.1 324.4 102.1 324.4 132.6 325.3 148.7 325.4 132.8 339.6 127.3 345.0 122.4 349.9 117.9 354.9 113.8 359.8 109.7 365.2 106.0 370.5 96.1 365.3 86.2 359.7 76.4 353.6 69.5 348.6 63.2 343.4 58.1 338.3 54.0 333.3Z"/><path fill="#0ae326" d="M50.7 328.6L50.5 328.3 66.3 327.1 76.0 326.5 85.8 326.2 99.0 326.1 130.8 326.8 147.1 326.8 132.1 340.3 126.9 345.4 122.0 350.3 117.6 355.3 113.5 360.3 109.7 365.2 106.0 370.5 96.1 365.3 86.2 359.7 76.4 353.6 70.1 349.1 64.3 344.4 59.1 339.3 54.8 334.5Z"/><path fill="#04e22d" d="M51.5 329.8L51.4 329.7 67.5 328.6 85.4 328.0 98.6 328.0 128.9 328.4 145.4 328.3 131.4 341.0 126.1 346.1 121.7 350.7 117.6 355.3 113.5 360.3 109.7 365.2 106.0 370.5 96.9 365.8 86.9 360.1 77.1 354.0 70.7 349.6 64.9 344.9 59.6 339.9 55.3 335.0Z"/><path fill="#00e13a" d="M52.3 331.0L68.7 330.1 83.0 329.8 123.8 330.1 143.7 329.8 130.6 341.7 125.8 346.5 121.3 351.1 117.2 355.7 113.5 360.3 109.7 365.2 106.0 370.5 96.9 365.8 86.9 360.1 77.8 354.5 71.3 350.0 65.4 345.3 60.6 340.9 56.2 336.1Z"/><path fill="#00e357" d="M53.5 332.8L53.2 332.3 74.3 331.6 86.9 331.5 118.6 331.8 130.6 331.6 142.1 331.3 129.9 342.5 120.9 351.5 116.8 356.2 113.1 360.7 109.4 365.7 106.0 370.5 97.7 366.2 88.4 361.0 79.1 355.3 72.6 350.9 66.6 346.3 61.6 341.9 57.1 337.2Z"/><path fill="#00e474" d="M54.4 333.9L65.2 333.6 76.1 333.5 103.4 334.0 113.8 334.0 126.0 333.7 140.1 333.0 128.7 343.5 120.2 352.4 116.4 356.6 112.7 361.2 109.4 365.7 106.0 370.5 97.7 366.2 88.4 361.0 79.8 355.8 73.2 351.4 67.7 347.3 62.7 342.9 58.1 338.3Z"/><path fill="#00e692" d="M56.2 336.1L55.9 335.7 64.7 335.7 97.3 336.5 107.7 336.6 121.1 336.1 138.0 334.9 127.6 344.6 119.4 353.2 115.7 357.5 112.3 361.7 106.0 370.5 97.7 366.2 89.1 361.4 81.2 356.6 74.5 352.3 68.9 348.2 64.3 344.4 60.1 340.4Z"/><path fill="#00e7af" d="M57.6 337.8L57.4 337.5 63.3 337.7 93.0 339.2 101.5 339.3 108.0 339.1 116.1 338.6 135.9 336.8 126.5 345.7 119.0 353.6 112.3 361.7 106.0 370.5 98.5 366.6 89.9 361.9 82.6 357.5 75.1 352.7 70.1 349.1 65.4 345.3 61.1 341.4Z"/><path fill="#00e8cc" d="M59.6 339.9L59.2 339.4 89.0 342.0 94.0 342.3 99.2 342.3 105.9 342.0 113.1 341.4 133.7 338.8 125.4 346.9 118.3 354.4 112.0 362.2 106.0 370.5 98.5 366.6 90.6 362.3 83.3 357.9 76.4 353.6 72.0 350.5 67.2 346.8 63.2 343.4Z"/><path fill="#00eae9" d="M61.6 341.9L61.3 341.6 62.9 341.8 88.1 344.9 92.9 345.2 97.5 345.3 103.9 345.0 110.0 344.3 131.4 341.0 123.9 348.4 117.2 355.7 111.6 362.7 106.0 370.5 99.3 367.1 91.4 362.7 84.7 358.8 78.4 354.9 73.9 351.8 69.5 348.6 65.4 345.3Z"/><path fill="#01e8ff" d="M63.8 343.9L63.6 343.7 64.9 343.9 86.7 347.3 91.5 347.7 96.8 347.8 102.5 347.5 108.7 346.8 119.3 345.0 129.2 343.1 122.4 349.9 116.4 356.6 111.2 363.1 106.0 370.5 99.3 367.1 92.2 363.2 80.5 356.2 75.8 353.2 71.3 350.0 67.2 346.8Z"/><path fill="#03daff" d="M66.6 346.3L66.0 345.8 87.2 349.8 92.2 350.3 96.3 350.4 101.1 350.1 106.1 349.4 127.1 345.2 120.9 351.5 115.7 357.5 110.8 363.6 106.0 370.5 94.5 364.5 83.3 357.9 74.5 352.3 70.1 349.1Z"/><path fill="#06cdff" d="M68.9 348.2L68.7 348.0 69.0 348.1 83.3 351.3 88.3 352.3 91.2 352.7 96.4 352.9 100.7 352.6 104.9 351.8 125.3 347.0 119.8 352.8 114.9 358.4 110.5 364.1 106.0 370.5 95.3 364.9 85.4 359.3 75.8 353.2Z"/><path fill="#08bfff" d="M72.0 350.5L71.6 350.2 81.5 352.7 87.4 353.7 93.2 354.4 98.2 354.4 103.0 354.0 108.1 353.0 123.5 348.8 118.7 354.0 114.2 359.3 110.1 364.7 106.0 370.5 96.9 365.8 87.6 360.6 78.4 354.9Z"/><path fill="#0ab1ff" d="M75.1 352.7L74.6 352.4 84.1 354.4 90.6 355.5 95.0 356.0 98.8 356.0 102.8 355.5 108.2 354.4 113.9 353.0 121.8 350.5 117.6 355.3 113.5 360.3 109.7 365.2 106.0 370.5 98.5 366.6 89.9 361.9 82.6 357.5Z"/><path fill="#0da4ff" d="M77.1 354.0L76.8 353.9 87.1 356.2 91.6 357.0 95.5 357.5 98.9 357.5 101.4 357.3 105.2 356.5 120.2 352.3 116.4 356.6 112.7 361.2 109.4 365.7 106.0 370.5 98.5 366.6 90.6 362.3 84.0 358.4Z"/><path fill="#0f96ff" d="M79.1 355.3L92.2 358.3 96.6 358.9 99.6 358.9 102.4 358.6 105.1 358.0 118.9 353.8 112.3 361.7 106.0 370.5 99.3 367.1 91.4 362.7Z"/><path fill="#1289ff" d="M81.9 357.1L81.2 356.7 89.2 358.7 95.1 359.9 97.7 360.3 99.9 360.3 102.3 360.1 105.1 359.4 117.8 355.1 111.6 362.7 106.0 370.5 93.7 364.0Z"/><path fill="#147bff" d="M84.0 358.4L83.5 358.1 96.3 361.3 98.9 361.6 101.1 361.7 103.1 361.3 105.2 360.7 116.7 356.3 111.2 363.1 106.0 370.5 94.5 364.5Z"/><path fill="#176eff" d="M85.4 359.3L97.4 362.5 99.4 362.8 101.2 362.9 103.1 362.7 105.3 362.0 115.6 357.6 110.8 363.6 106.0 370.5 95.3 364.9Z"/><path fill="#1960ff" d="M87.6 360.6L87.3 360.4 88.6 360.7 98.1 363.6 100.4 364.1 101.9 364.1 103.9 363.8 105.6 363.1 114.5 358.9 110.1 364.7 106.0 370.5 96.9 365.8Z"/><path fill="#1c52ff" d="M89.9 361.9L89.3 361.5 90.0 361.7 98.9 364.6 101.1 365.1 102.6 365.2 104.5 364.8 113.5 360.2 109.7 365.2 106.0 370.5 98.5 366.6Z"/><path fill="#1f46ff" d="M91.4 362.7L101.3 365.9 103.2 366.2 104.7 365.8 109.4 363.0 112.5 361.5 106.0 370.5 99.3 367.1Z"/><path fill="#3143ff" d="M93.7 364.0L101.8 366.8 103.8 367.2 105.3 366.6 108.9 364.1 111.6 362.6 106.0 370.5Z"/><path fill="#4240ff" d="M95.3 364.9L104.3 368.2 105.1 367.9 107.7 365.6 110.9 363.6 106.0 370.5Z"/><path fill="#533cff" d="M96.9 365.8L100.4 367.1 104.7 369.1 105.4 368.8 106.2 367.7 107.2 366.7 110.1 364.6 106.0 370.5Z"/><path fill="#6439ff" d="M98.5 366.6L101.2 367.6 105.5 369.6 105.6 369.6 107.2 367.4 109.4 365.7 106.0 370.5Z"/><path fill="#7536ff" d="M100.1 367.5L105.4 369.7 105.8 369.7 107.0 368.1 108.6 366.7 106.0 370.5Z"/><path fill="#8633ff" d="M101.8 368.4L105.3 369.8 106.0 369.8 107.9 367.7 106.0 370.5Z"/><path fill="#9231ff" d="M103.5 369.2L105.2 369.9 106.2 369.8 107.2 368.7 106.0 370.5Z"/><path fill="#9b30fe" d="M105.1 370.1L104.8 369.9 105.2 370.0 106.3 369.9 106.5 369.7 106.0 370.5Z"/></g><line x1="41.9" y1="375.6" x2="39.2" y2="295.8" stroke="#222" stroke-width="0.6"/><line x1="41.9" y1="375.6" x2="104.6" y2="399.3" stroke="#222" stroke-width="0.6"/><line x1="104.6" y1="399.3" x2="156.2" y2="372.8" stroke="#222" stroke-width="0.6"/><line x1="41.9" y1="375.6" x2="40.4" y2="376.5" stroke="#222" stroke-width="0.5"/><text font-size="3.2" font-weight="bold" text-anchor="middle" stroke="#111" stroke-width=".2" transform="translate(36.9 377.6) rotate(-24) scale(1 .7)"><tspan y="1.1">0.000</tspan></text><line x1="41.2" y1="355.8" x2="39.7" y2="356.7" stroke="#222" stroke-width="0.5"/><text font-size="3.5" font-weight="bold" text-anchor="end" stroke="#111" stroke-width=".12" transform="translate(39.2 360.0) rotate(-16)">0.025</text><line x1="40.6" y1="336.1" x2="39.1" y2="337.0" stroke="#222" stroke-width="0.5"/><text font-size="3.5" font-weight="bold" text-anchor="end" stroke="#111" stroke-width=".12" transform="translate(38.6 340.3) rotate(-16)">0.050</text><line x1="39.9" y1="316.3" x2="38.4" y2="317.2" stroke="#222" stroke-width="0.5"/><text font-size="3.5" font-weight="bold" text-anchor="end" stroke="#111" stroke-width=".12" transform="translate(37.9 320.5) rotate(-16)">0.075</text><line x1="39.2" y1="296.6" x2="37.7" y2="297.5" stroke="#222" stroke-width="0.5"/><text font-size="3.5" font-weight="bold" text-anchor="end" stroke="#111" stroke-width=".12" transform="translate(37.2 300.8) rotate(-16)">0.100</text><line x1="52.7" y1="379.7" x2="51.0" y2="380.7" stroke="#222" stroke-width="0.55"/><text font-size="3" font-weight="bold" text-anchor="middle" stroke="#111" stroke-width=".1" transform="translate(50.1 382.6) rotate(-29)"><tspan y="1">0.05</tspan></text><line x1="65.7" y1="384.6" x2="64.0" y2="385.6" stroke="#222" stroke-width="0.55"/><text font-size="3" font-weight="bold" text-anchor="middle" stroke="#111" stroke-width=".1" transform="translate(63.1 387.5) rotate(-29)"><tspan y="1">0.10</tspan></text><line x1="78.6" y1="389.5" x2="76.9" y2="390.5" stroke="#222" stroke-width="0.55"/><text font-size="3" font-weight="bold" text-anchor="middle" stroke="#111" stroke-width=".1" transform="translate(76.0 392.4) rotate(-29)"><tspan y="1">0.15</tspan></text><line x1="91.6" y1="394.4" x2="89.9" y2="395.4" stroke="#222" stroke-width="0.55"/><text font-size="3" font-weight="bold" text-anchor="middle" stroke="#111" stroke-width=".1" transform="translate(89.0 397.3) rotate(-29)"><tspan y="1">0.20</tspan></text><line x1="104.6" y1="399.3" x2="102.9" y2="400.3" stroke="#222" stroke-width="0.55"/><text font-size="3" font-weight="bold" text-anchor="middle" stroke="#111" stroke-width=".1" transform="translate(102.0 402.2) rotate(-29)"><tspan y="1">0.25</tspan></text><line x1="111.0" y1="396.0" x2="113.0" y2="396.8" stroke="#222" stroke-width="0.55"/><text font-size="3" font-weight="bold" text-anchor="middle" stroke="#111" stroke-width=".1" transform="translate(114.8 397.9) rotate(22)"><tspan y="1">-40</tspan></text><line x1="125.2" y1="388.7" x2="127.2" y2="389.5" stroke="#222" stroke-width="0.55"/><text font-size="3" font-weight="bold" text-anchor="middle" stroke="#111" stroke-width=".1" transform="translate(129.0 390.6) rotate(22)"><tspan y="1">0</tspan></text><line x1="139.4" y1="381.4" x2="141.4" y2="382.2" stroke="#222" stroke-width="0.55"/><text font-size="3" font-weight="bold" text-anchor="middle" stroke="#111" stroke-width=".1" transform="translate(143.2 383.3) rotate(22)"><tspan y="1">40</tspan></text><line x1="152.1" y1="374.9" x2="154.1" y2="375.7" stroke="#222" stroke-width="0.55"/><text font-size="3" font-weight="bold" text-anchor="middle" stroke="#111" stroke-width=".1" transform="translate(155.9 376.8) rotate(22)"><tspan y="1">80</tspan></text><text font-size="6.45" text-anchor="middle" stroke="#111" stroke-width=".2" transform="translate(28.6 342.5) rotate(-91) scale(1 .8)">Volume Fraction of Retained Austenite (-)</text><text font-size="6.3" stroke="#111" stroke-width=".17" transform="translate(35.8 383.0) rotate(23.5) scale(1 .84)">Equivalent Plastic Strain (-)</text><text font-size="5.7" font-weight="bold" stroke="#111" stroke-width=".15" transform="translate(126.5 399.7) rotate(-26) scale(1 .9)">Temperature (°C)</text><circle cx="39.5" cy="295.5" r="1.25" fill="#1428e6"/><circle cx="63.1" cy="345.8" r="1.25" fill="#1428e6"/><circle cx="82.6" cy="355.8" r="1.25" fill="#1428e6"/><rect x="163.2" y="290.2" width="8.8" height="76.9" fill="url(#cb)"/><text font-size="6.5" stroke="#111" stroke-width=".12" transform="translate(173.5 292.3) scale(.79 1)">1.04×10<tspan dy="-2.3" font-size="3.8">-1</tspan></text><text font-size="6.5" stroke="#111" stroke-width=".12" transform="translate(173.5 311.5) scale(.79 1)">8.29×10<tspan dy="-2.3" font-size="3.8">-2</tspan></text><text font-size="6.5" stroke="#111" stroke-width=".12" transform="translate(173.5 330.8) scale(.79 1)">6.19×10<tspan dy="-2.3" font-size="3.8">-2</tspan></text><text font-size="6.5" stroke="#111" stroke-width=".12" transform="translate(173.5 350.0) scale(.79 1)">4.10×10<tspan dy="-2.3" font-size="3.8">-2</tspan></text><text font-size="6.5" stroke="#111" stroke-width=".12" transform="translate(173.5 369.2) scale(.79 1)">2.00×10<tspan dy="-2.3" font-size="3.8">-2</tspan></text><text font-size="4.6" font-weight="bold" stroke="#111" stroke-width=".12"><tspan x="119.0" y="362.0">QP980</tspan><tspan x="119.0" y="367.9">Uniaxial tension</tspan><tspan x="119.0" y="373.8">1 /s</tspan></text><text x="12.3" y="285.3" font-size="8.6">(e)</text></g><g><line x1="218.4" y1="375.6" x2="272.0" y2="355.2" stroke="#9a9a9a" stroke-width="0.45"/><line x1="272.0" y1="355.2" x2="332.7" y2="372.8" stroke="#9a9a9a" stroke-width="0.45"/><line x1="272.0" y1="355.2" x2="272.0" y2="285.9" stroke="#9a9a9a" stroke-width="0.45"/><line x1="215.7" y1="295.8" x2="272.0" y2="285.9" stroke="#9a9a9a" stroke-width="0.45"/><line x1="272.0" y1="285.9" x2="336.5" y2="292.9" stroke="#9a9a9a" stroke-width="0.45"/><line x1="336.5" y1="292.9" x2="332.7" y2="372.8" stroke="#9a9a9a" stroke-width="0.45"/><g fill-rule="evenodd"><path fill="#ff231e" d="M215.5 295.5L216.7 304.1 218.1 311.8 219.4 317.0 221.3 322.7 223.8 329.3 226.7 335.5 229.6 340.4 232.7 344.7 235.1 347.5 238.7 351.0 244.4 356.1 248.0 358.9 266.7 370.6 274.6 374.8 282.1 378.4 286.2 374.1 290.6 369.1 307.3 348.6 311.4 343.9 315.1 339.8 319.5 335.3 324.4 331.0 329.2 327.1 334.0 323.7 325.5 320.0 315.5 315.5 301.7 309.7 297.3 307.5 291.7 304.4 289.0 302.6 282.2 297.7 279.8 295.8 278.0 294.0 275.7 291.3 274.0 288.8 272.1 286.0Z"/><path fill="#ff2e1b" d="M215.6 296.4L215.6 296.1 225.3 294.7 263.0 288.0 268.7 287.1 272.6 286.8 276.0 291.6 278.0 294.0 279.8 295.8 281.8 297.5 288.5 302.3 292.2 304.7 297.8 307.8 301.7 309.7 315.5 315.5 325.5 320.0 334.0 323.7 329.2 327.1 324.4 331.0 319.5 335.3 315.1 339.8 307.3 348.6 290.6 369.1 286.2 374.1 282.1 378.4 274.6 374.8 266.7 370.6 248.0 358.9 244.4 356.1 238.7 351.0 235.1 347.5 232.7 344.7 229.6 340.4 227.1 336.3 224.1 330.1 221.6 323.5 219.7 317.8 218.3 312.7 216.8 305.0Z"/><path fill="#ff3918" d="M215.8 297.8L215.7 297.4 230.0 295.5 261.2 290.2 268.4 289.2 273.8 288.5 277.2 293.1 280.1 296.1 289.0 302.6 292.7 305.0 297.8 307.8 301.7 309.7 315.5 315.5 325.5 320.0 334.0 323.7 329.2 327.1 324.4 331.0 319.5 335.3 315.1 339.8 307.3 348.6 290.6 369.1 286.2 374.1 282.1 378.4 275.4 375.3 267.5 371.0 248.6 359.3 245.6 357.1 241.5 353.6 236.1 348.5 233.2 345.3 230.0 341.0 227.1 336.3 224.1 330.1 221.9 324.4 219.7 317.8 218.3 312.7 217.0 305.9Z"/><path fill="#ff4415" d="M216.0 299.1L215.9 298.6 245.1 294.6 265.3 291.4 275.0 290.2 278.0 294.0 280.8 296.7 289.4 302.9 294.2 305.8 298.9 308.4 302.3 310.0 315.5 315.5 325.5 320.0 334.0 323.7 329.2 327.1 324.4 331.0 319.5 335.3 315.1 339.8 307.3 348.6 290.6 369.1 286.2 374.1 282.1 378.4 275.4 375.3 267.5 371.0 248.6 359.3 245.6 357.1 241.5 353.6 236.1 348.5 233.2 345.3 230.0 341.0 227.5 337.0 224.8 331.7 222.2 325.2 219.9 318.6 218.5 313.6 217.3 307.8Z"/><path fill="#ff4f12" d="M216.1 299.9L234.9 297.1 253.7 294.8 267.0 292.9 276.3 291.9 278.9 294.9 281.5 297.2 289.9 303.2 295.7 306.7 302.3 310.0 315.5 315.5 325.5 320.0 334.0 323.7 329.2 327.1 324.4 331.0 319.5 335.3 315.1 339.8 307.3 348.6 290.6 369.1 286.2 374.1 282.1 378.4 275.4 375.3 267.5 371.0 248.6 359.3 245.6 357.1 241.5 353.6 236.1 348.5 233.2 345.3 230.0 341.0 227.5 337.0 224.8 331.7 222.5 326.0 219.9 318.6 218.5 313.6 217.3 307.8Z"/><path fill="#ff5a0e" d="M216.3 301.4L216.2 301.1 233.5 298.4 241.8 297.3 256.9 295.6 277.7 293.6 279.5 295.5 281.1 296.9 289.0 302.6 292.7 305.0 297.8 307.8 302.9 310.3 315.5 315.5 325.5 320.0 334.0 323.7 329.2 327.1 324.4 331.0 319.5 335.3 315.1 339.8 307.3 348.6 290.6 369.1 286.2 374.1 282.1 378.4 275.4 375.3 267.5 371.0 248.6 359.3 245.6 357.1 242.1 354.1 236.6 349.0 233.7 345.9 230.9 342.3 227.9 337.7 225.2 332.4 222.8 326.9 220.2 319.4 218.7 314.5 217.7 309.8Z"/><path fill="#ff650b" d="M216.6 303.2L216.4 302.3 243.6 298.1 261.9 296.1 270.8 295.5 279.0 295.1 281.8 297.5 289.9 303.2 293.2 305.2 298.4 308.1 302.9 310.3 315.5 315.5 325.5 320.0 334.0 323.7 329.2 327.1 324.4 331.0 319.5 335.3 315.1 339.8 307.3 348.6 290.6 369.1 286.2 374.1 282.1 378.4 275.4 375.3 267.5 371.0 248.6 359.3 245.6 357.1 242.1 354.1 236.6 349.0 233.7 345.9 230.9 342.3 227.9 337.7 225.6 333.2 223.1 327.7 221.0 321.9 218.9 315.3 217.9 310.8Z"/><path fill="#ff7008" d="M216.7 304.1L216.6 303.6 250.3 298.3 265.4 296.8 280.0 296.0 282.2 297.7 290.3 303.5 293.7 305.5 298.9 308.4 304.1 310.8 316.2 315.7 325.5 320.0 334.0 323.7 329.2 327.1 324.4 331.0 319.5 335.3 315.1 339.8 307.3 348.6 290.6 369.1 286.2 374.1 282.1 378.4 275.4 375.3 267.5 371.0 248.6 359.3 245.6 357.1 242.6 354.6 237.2 349.5 234.1 346.4 231.3 342.9 228.3 338.4 225.9 334.0 223.5 328.5 221.3 322.7 219.2 316.2 217.9 310.8Z"/><path fill="#ff7a05" d="M216.8 305.0L216.8 304.8 247.8 300.0 258.3 298.5 270.6 297.4 281.2 297.0 290.8 303.8 299.5 308.7 304.1 310.8 316.2 315.7 325.5 320.0 334.0 323.7 329.2 327.1 324.4 331.0 319.5 335.3 315.1 339.8 307.3 348.6 290.6 369.1 286.2 374.1 282.1 378.4 275.4 375.3 267.5 371.0 248.6 359.3 245.6 357.1 242.6 354.6 237.2 349.5 234.1 346.4 231.3 342.9 228.3 338.4 225.9 334.0 223.5 328.5 221.3 322.7 219.2 316.2 218.1 311.8Z"/><path fill="#ff8502" d="M217.2 306.8L217.0 306.0 255.9 300.1 270.4 298.4 276.5 298.1 282.5 298.0 290.8 303.8 299.5 308.7 304.1 310.8 316.2 315.7 325.5 320.0 334.0 323.7 329.2 327.1 324.4 331.0 319.5 335.3 315.1 339.8 307.3 348.6 290.6 369.1 286.2 374.1 282.1 378.4 275.4 375.3 267.5 371.0 248.6 359.3 246.2 357.6 243.2 355.1 237.7 350.0 234.6 347.0 231.8 343.5 228.7 339.1 226.7 335.5 224.1 330.1 221.9 324.4 219.4 317.0 218.3 312.7Z"/><path fill="#ff9100" d="M217.3 307.8L217.2 307.0 225.6 305.9 257.2 301.3 272.0 299.7 277.9 299.3 284.3 299.2 291.3 304.1 300.0 308.9 304.7 311.0 316.2 315.7 325.5 320.0 334.0 323.7 329.2 327.1 324.4 331.0 319.5 335.3 315.1 339.8 307.3 348.6 290.6 369.1 286.2 374.1 282.1 378.4 275.4 375.3 267.5 371.0 248.6 359.3 246.2 357.6 243.2 355.1 237.7 350.0 234.6 347.0 231.8 343.5 228.7 339.1 226.7 335.5 224.1 330.1 221.9 324.4 219.7 317.8 218.3 312.7Z"/><path fill="#ff9d00" d="M217.3 307.8L228.3 306.7 252.2 303.3 265.9 301.6 275.2 300.9 286.3 300.6 289.4 302.9 292.2 304.7 300.6 309.2 304.7 311.0 316.2 315.7 325.5 320.0 334.0 323.7 329.2 327.1 324.4 331.0 319.5 335.3 315.1 339.8 307.3 348.6 290.6 369.1 286.2 374.1 282.1 378.4 275.4 375.3 267.5 371.0 248.6 359.3 246.2 357.6 243.2 355.1 237.7 350.0 234.6 347.0 231.8 343.5 228.7 339.1 226.7 335.5 224.1 330.1 221.9 324.4 219.7 317.8 218.3 312.7Z"/><path fill="#ffa900" d="M217.5 308.8L217.5 308.6 234.6 306.9 251.9 304.6 266.0 303.0 274.7 302.4 288.3 302.1 293.7 305.5 301.2 309.5 315.5 315.5 325.5 320.0 334.0 323.7 329.2 327.1 324.4 331.0 319.5 335.3 315.1 339.8 307.3 348.6 290.6 369.1 286.2 374.1 282.1 378.4 275.4 375.3 267.5 371.0 248.6 359.3 246.2 357.6 243.2 355.1 237.7 350.0 234.6 347.0 231.8 343.5 229.1 339.7 226.7 335.5 224.5 330.9 222.2 325.2 219.9 318.6 218.5 313.6Z"/><path fill="#ffb500" d="M217.7 309.8L217.6 309.3 242.6 307.0 264.1 304.6 273.7 304.0 290.4 303.6 296.3 306.9 301.7 309.7 315.5 315.5 325.5 320.0 334.0 323.7 329.2 327.1 324.4 331.0 319.5 335.3 315.1 339.8 307.3 348.6 290.6 369.1 286.2 374.1 282.1 378.4 275.4 375.3 267.5 371.0 248.6 359.3 246.2 357.6 243.2 355.1 237.7 350.0 235.1 347.5 232.2 344.1 229.6 340.4 227.5 337.0 225.2 332.4 222.8 326.9 220.4 320.2 218.9 315.3Z"/><path fill="#ffc100" d="M217.9 310.8L217.7 310.1 263.9 305.8 273.8 305.2 292.5 304.9 297.8 307.8 301.7 309.7 315.5 315.5 325.5 320.0 334.0 323.7 329.2 327.1 324.4 331.0 319.5 335.3 315.1 339.8 307.3 348.6 290.6 369.1 286.2 374.1 282.1 378.4 275.4 375.3 267.5 371.0 248.6 359.3 246.2 357.6 243.2 355.1 237.7 350.0 235.1 347.5 232.7 344.7 230.0 341.0 227.9 337.7 225.6 333.2 223.1 327.7 221.0 321.9 219.2 316.2Z"/><path fill="#ffce00" d="M218.1 311.8L217.9 310.9 259.9 307.2 273.8 306.5 284.7 306.2 294.7 306.1 302.3 310.0 315.5 315.5 325.5 320.0 334.0 323.7 329.2 327.1 324.4 331.0 319.5 335.3 315.1 339.8 307.3 348.6 290.6 369.1 286.2 374.1 282.1 378.4 275.4 375.3 267.5 371.0 249.3 359.7 246.8 358.0 243.8 355.6 235.6 348.0 233.2 345.3 230.4 341.7 227.9 337.7 225.9 334.0 223.5 328.5 221.6 323.5 219.4 317.0Z"/><path fill="#ffda00" d="M218.1 311.8L218.1 311.6 247.5 309.2 263.3 308.0 281.1 307.4 296.9 307.3 302.9 310.3 315.5 315.5 325.5 320.0 334.0 323.7 329.2 327.1 324.4 331.0 319.5 335.3 315.1 339.8 307.3 348.6 290.6 369.1 286.2 374.1 282.1 378.4 275.4 375.3 267.5 371.0 249.3 359.7 246.8 358.0 243.8 355.6 235.6 348.0 233.2 345.3 230.4 341.7 227.9 337.7 225.9 334.0 223.5 328.5 221.6 323.5 219.4 317.0Z"/><path fill="#ffe600" d="M218.3 312.7L218.2 312.4 249.9 309.9 262.2 309.0 280.5 308.5 299.3 308.5 304.1 310.8 316.2 315.7 325.5 320.0 334.0 323.7 329.2 327.1 324.4 331.0 319.5 335.3 315.1 339.8 307.3 348.6 290.6 369.1 286.2 374.1 282.1 378.4 275.4 375.3 267.5 371.0 249.3 359.7 246.8 358.0 243.8 355.6 235.6 348.0 233.2 345.3 230.4 341.7 227.9 337.7 225.9 334.0 223.8 329.3 221.9 324.4 219.7 317.8Z"/><path fill="#fff200" d="M218.5 313.6L218.4 313.3 225.0 312.7 249.9 310.7 261.7 310.0 280.8 309.6 301.8 309.8 315.5 315.5 325.5 320.0 334.0 323.7 329.2 327.1 324.4 331.0 319.5 335.3 315.1 339.8 307.3 348.6 290.6 369.1 286.2 374.1 282.1 378.4 275.4 375.3 267.5 371.0 249.3 359.7 246.8 358.0 243.8 355.6 235.6 348.0 233.2 345.3 230.4 341.7 228.3 338.4 226.3 334.8 224.1 330.1 222.2 325.2 219.9 318.6Z"/><path fill="#e1f400" d="M218.7 314.5L224.8 313.7 235.6 312.7 250.9 311.6 261.2 311.0 280.3 310.7 304.7 311.0 315.5 315.5 325.5 320.0 334.0 323.7 329.2 327.1 324.4 331.0 319.5 335.3 315.1 339.8 307.3 348.6 290.6 369.1 286.2 374.1 282.1 378.4 275.4 375.3 267.5 371.0 249.3 359.7 246.8 358.0 243.8 355.6 236.1 348.5 233.7 345.9 230.9 342.3 228.7 339.1 226.7 335.5 224.5 330.9 222.5 326.0 220.2 319.4Z"/><path fill="#b9f200" d="M219.2 316.2L219.0 315.6 235.2 313.7 245.7 312.8 258.1 312.1 267.0 311.8 278.9 311.7 295.0 311.9 307.8 312.3 316.2 315.7 325.5 320.0 334.0 323.7 329.2 327.1 324.4 331.0 319.5 335.3 315.1 339.8 307.3 348.6 290.6 369.1 286.2 374.1 282.1 378.4 275.4 375.3 267.5 371.0 249.3 359.7 246.8 358.0 244.4 356.1 236.6 349.0 233.7 345.9 231.3 342.9 229.1 339.7 227.1 336.3 224.8 331.7 222.8 326.9 221.0 321.9Z"/><path fill="#92f000" d="M219.4 317.0L219.3 316.7 241.8 314.2 250.9 313.4 260.4 312.9 270.2 312.7 280.3 312.7 294.5 313.0 311.1 313.6 316.9 316.0 325.5 320.0 334.0 323.7 329.2 327.1 324.4 331.0 319.5 335.3 315.1 339.8 307.3 348.6 290.6 369.1 286.2 374.1 282.1 378.4 275.4 375.3 267.5 371.0 249.3 359.7 246.8 358.0 244.4 356.1 236.6 349.0 233.7 345.9 231.3 342.9 229.1 339.7 227.1 336.3 225.2 332.4 223.1 327.7 221.3 322.7Z"/><path fill="#6aee00" d="M219.9 318.6L219.7 317.9 231.3 316.5 247.4 314.9 259.7 314.1 269.6 313.8 277.9 313.8 314.1 314.8 325.5 320.0 334.0 323.7 329.2 327.1 324.4 331.0 319.5 335.3 315.1 339.8 307.3 348.6 290.6 369.1 286.2 374.1 282.1 378.4 275.4 375.3 267.5 371.0 249.3 359.7 246.8 358.0 244.4 356.1 237.2 349.5 234.1 346.4 231.8 343.5 229.6 340.4 227.5 337.0 225.6 333.2 223.5 328.5 221.9 324.4Z"/><path fill="#43ec00" d="M220.2 319.4L220.1 319.1 241.9 316.6 252.0 315.7 260.9 315.2 277.2 315.0 292.4 315.4 308.5 316.0 317.1 316.1 325.5 320.0 334.0 323.7 329.2 327.1 324.4 331.0 319.5 335.3 315.1 339.8 307.3 348.6 290.6 369.1 286.2 374.1 282.1 378.4 275.4 375.3 267.5 371.0 249.3 359.7 246.8 358.0 244.4 356.1 237.7 350.0 234.6 347.0 232.2 344.1 230.0 341.0 227.9 337.7 225.9 334.0 223.8 329.3 222.2 325.2Z"/><path fill="#26eb02" d="M220.4 320.2L220.4 320.1 245.8 317.4 254.8 316.8 263.3 316.4 277.4 316.3 290.8 316.7 307.6 317.4 319.9 317.4 326.3 320.4 334.0 323.7 329.2 327.1 324.4 331.0 319.5 335.3 315.1 339.8 307.3 348.6 290.6 369.1 286.2 374.1 282.1 378.4 275.4 375.3 267.5 371.0 249.3 359.7 246.8 358.0 244.4 356.1 237.7 350.0 234.6 347.0 232.2 344.1 230.0 341.0 227.9 337.7 225.9 334.0 223.8 329.3Z"/><path fill="#20e909" d="M220.7 321.0L249.1 318.4 256.2 318.0 264.5 317.7 273.0 317.6 285.5 317.9 309.1 319.0 315.5 319.0 322.7 318.8 334.0 323.7 329.2 327.1 324.4 331.0 319.5 335.3 315.1 339.8 307.3 348.6 290.6 369.1 286.2 374.1 282.1 378.4 275.4 375.3 267.5 371.0 249.9 360.1 247.4 358.5 245.0 356.6 238.2 350.5 235.1 347.5 232.7 344.7 230.4 341.7 228.3 338.4 226.3 334.8 224.1 330.1 222.5 326.0Z"/><path fill="#1be810" d="M221.0 321.9L251.6 319.5 262.7 319.1 272.2 319.0 288.2 319.5 308.1 320.4 316.6 320.4 325.7 320.1 334.0 323.7 329.2 327.1 324.4 331.0 319.5 335.3 315.1 339.8 307.3 348.6 290.6 369.1 286.2 374.1 282.1 378.4 275.4 375.3 267.5 371.0 249.9 360.1 247.4 358.5 245.0 356.6 238.7 351.0 235.6 348.0 233.2 345.3 230.9 342.3 228.3 338.4 226.3 334.8 224.1 330.1Z"/><path fill="#15e618" d="M221.6 323.5L221.3 322.7 239.8 321.3 253.7 320.5 267.8 320.3 285.0 320.6 300.6 321.5 309.2 321.8 318.6 321.8 328.7 321.5 334.0 323.7 329.2 327.1 324.4 331.0 319.5 335.3 315.1 339.8 307.3 348.6 290.6 369.1 286.2 374.1 282.1 378.4 273.8 374.4 265.2 369.7 248.0 358.9 245.0 356.6 241.5 353.6 237.2 349.5 234.6 347.0 232.2 344.1 229.6 340.4 227.5 337.0 225.6 333.2 223.5 328.5Z"/><path fill="#0fe51f" d="M221.9 324.4L221.6 323.6 234.9 322.6 249.0 321.7 262.7 321.4 282.7 321.8 300.0 322.8 309.0 323.1 321.7 323.2 331.9 322.8 334.0 323.7 329.2 327.1 324.4 331.0 319.5 335.3 315.1 339.8 307.3 348.6 290.6 369.1 286.2 374.1 282.1 378.4 273.8 374.4 265.2 369.7 248.6 359.3 245.6 357.1 242.1 354.1 237.2 349.5 234.6 347.0 232.2 344.1 230.0 341.0 227.9 337.7 225.9 334.0 223.8 329.3Z"/><path fill="#0ae326" d="M222.2 325.2L221.9 324.6 233.1 323.7 247.5 322.8 259.4 322.5 267.9 322.5 280.4 322.9 297.7 324.0 307.4 324.3 321.4 324.4 333.4 324.1 328.8 327.4 324.0 331.3 319.2 335.7 314.7 340.2 306.9 349.0 290.6 369.1 286.2 374.1 282.1 378.4 273.8 374.4 265.2 369.7 248.6 359.3 245.6 357.1 242.6 354.6 235.1 347.5 232.7 344.7 230.4 341.7 228.3 338.4 226.3 334.8 224.1 330.1Z"/><path fill="#04e22d" d="M222.5 326.0L222.4 325.7 239.1 324.3 248.4 323.8 258.0 323.6 265.7 323.6 279.1 324.0 296.4 325.1 306.1 325.5 319.3 325.6 331.7 325.3 327.3 328.5 322.9 332.3 318.8 336.1 314.4 340.6 306.9 349.0 290.6 369.1 286.2 374.1 282.1 378.4 274.6 374.8 266.0 370.2 248.6 359.3 246.2 357.6 243.2 355.1 235.6 348.0 233.2 345.3 230.9 342.3 228.7 339.1 226.7 335.5 224.5 330.9Z"/><path fill="#00e13a" d="M222.8 326.9L243.0 325.2 250.2 324.9 258.6 324.7 265.2 324.8 277.8 325.3 295.0 326.4 303.7 326.7 317.9 326.7 330.1 326.4 325.8 329.7 321.8 333.3 317.7 337.2 313.6 341.4 306.6 349.5 290.6 369.1 286.2 374.1 282.1 378.4 274.6 374.8 266.0 370.2 248.6 359.3 246.2 357.6 243.2 355.1 235.6 348.0 233.2 345.3 230.9 342.3 228.7 339.1 226.7 335.5 224.5 330.9Z"/><path fill="#00e357" d="M223.5 328.5L223.3 328.0 236.7 326.9 246.1 326.3 256.0 326.0 263.7 326.1 276.3 326.5 293.6 327.6 302.3 327.9 316.5 327.9 328.5 327.6 324.7 330.7 321.0 333.9 317.3 337.5 313.2 341.8 306.6 349.5 290.6 369.1 286.2 374.1 282.1 378.4 274.6 374.8 266.0 370.2 249.3 359.7 246.8 358.0 244.4 356.1 236.1 348.5 233.7 345.9 231.8 343.5 229.6 340.4 227.5 337.0 225.6 333.2Z"/><path fill="#00e474" d="M223.8 329.3L223.7 329.1 240.5 327.9 249.0 327.5 256.4 327.4 275.8 327.9 291.4 328.8 300.0 329.1 314.0 329.1 327.0 328.8 323.6 331.6 319.9 335.0 316.2 338.7 312.5 342.6 306.2 349.9 291.0 368.7 286.5 373.7 282.1 378.4 274.6 374.8 266.0 370.2 249.3 359.7 246.8 358.0 244.4 356.1 236.1 348.5 233.7 345.9 231.8 343.5 229.6 340.4 227.5 337.0 225.6 333.2Z"/><path fill="#00e692" d="M224.5 330.9L224.2 330.3 231.0 329.7 242.5 329.0 253.7 328.7 260.6 328.8 273.9 329.2 290.0 330.1 298.7 330.4 312.6 330.4 325.6 330.0 318.8 336.1 312.1 343.0 305.8 350.4 291.0 368.7 286.5 373.7 282.1 378.4 274.6 374.8 266.0 370.2 249.3 359.7 245.0 356.6 237.2 349.5 234.6 347.0 232.7 344.7 230.4 341.7 228.3 338.4 226.3 334.8Z"/><path fill="#00e7af" d="M224.8 331.7L224.7 331.4 238.0 330.5 253.1 330.1 272.9 330.5 288.6 331.5 296.3 331.7 309.1 331.6 324.1 331.2 318.1 336.8 311.8 343.4 305.8 350.4 291.0 368.7 286.5 373.7 282.1 378.4 274.6 374.8 266.0 370.2 249.3 359.7 245.0 356.6 237.2 349.5 234.6 347.0 232.7 344.7 230.4 341.7 228.3 338.4 226.7 335.5Z"/><path fill="#00e8cc" d="M225.6 333.2L225.3 332.6 238.7 331.8 250.4 331.5 270.5 331.9 287.2 332.8 295.0 333.0 307.7 332.9 322.7 332.4 316.9 337.9 311.0 344.3 305.5 350.8 291.0 368.7 286.5 373.7 282.1 378.4 274.6 374.8 266.7 370.6 249.3 359.7 245.6 357.1 237.7 350.0 235.1 347.5 233.2 345.3 231.3 342.9 229.1 339.7 227.5 337.0Z"/><path fill="#00eae9" d="M225.9 334.0L225.8 333.8 234.9 333.3 249.7 332.9 269.9 333.3 284.9 334.2 292.6 334.4 305.3 334.2 321.4 333.6 316.2 338.7 310.6 344.7 305.5 350.8 291.0 368.7 286.5 373.7 282.1 378.4 274.6 374.8 266.7 370.6 249.3 359.7 245.6 357.1 237.7 350.0 233.7 345.9 231.3 342.9 229.6 340.4 227.9 337.7Z"/><path fill="#01e8ff" d="M226.7 335.5L226.4 335.0 237.5 334.5 246.9 334.4 268.4 334.8 282.6 335.6 290.2 335.8 304.0 335.5 320.1 334.8 315.1 339.8 310.3 345.1 305.5 350.8 291.0 368.7 286.5 373.7 282.1 378.4 274.6 374.8 266.7 370.6 249.9 360.1 246.2 357.6 243.2 355.1 238.7 351.0 234.1 346.4 231.8 343.5 230.0 341.0Z"/><path fill="#03daff" d="M227.5 337.0L227.3 336.6 229.7 336.5 239.1 336.1 247.2 336.0 268.1 336.6 281.8 337.3 288.7 337.4 301.5 337.0 318.8 336.0 314.4 340.6 309.9 345.6 291.4 368.2 286.5 373.7 282.1 378.4 274.6 374.8 266.7 370.6 249.9 360.1 246.8 358.0 241.5 353.6 237.2 349.5 234.6 347.0 230.9 342.3Z"/><path fill="#06cdff" d="M228.7 339.1L228.3 338.4 243.5 338.1 266.2 338.5 279.2 339.0 287.1 339.0 300.2 338.4 317.6 337.2 313.6 341.4 309.5 346.0 291.4 368.2 286.5 373.7 282.1 378.4 274.6 374.8 266.7 370.6 249.9 360.1 246.8 358.0 242.1 354.1 235.1 347.5 231.8 343.5Z"/><path fill="#08bfff" d="M229.6 340.4L229.4 340.2 242.1 340.1 265.3 340.4 275.7 340.7 281.5 340.7 296.7 339.9 316.4 338.4 312.1 343.0 307.7 348.2 290.3 369.5 286.2 374.1 282.1 378.4 274.6 374.8 266.7 370.6 247.4 358.5 243.2 355.1 236.1 348.5 232.7 344.7Z"/><path fill="#0ab1ff" d="M230.9 342.3L230.5 341.7 274.2 342.3 280.1 342.2 295.4 341.3 315.3 339.6 307.3 348.6 290.3 369.5 286.2 374.1 282.1 378.4 274.6 374.8 266.7 370.6 247.4 358.5 243.2 355.1 236.6 349.0 233.7 345.9Z"/><path fill="#0da4ff" d="M231.8 343.5L231.5 343.1 252.0 343.6 271.7 343.8 277.6 343.8 291.9 342.8 314.3 340.7 306.9 349.0 290.6 369.1 286.2 374.1 282.1 378.4 274.6 374.8 266.7 370.6 248.0 358.9 243.8 355.6 237.7 350.0 234.6 347.0Z"/><path fill="#0f96ff" d="M232.7 344.7L232.5 344.5 250.6 345.2 269.2 345.4 275.1 345.4 289.5 344.3 313.2 341.8 306.6 349.5 290.6 369.1 286.2 374.1 282.1 378.4 274.6 374.8 266.7 370.6 248.0 358.9 244.4 356.1 238.7 351.0 235.1 347.5Z"/><path fill="#1289ff" d="M234.1 346.4L233.7 345.9 250.0 346.7 266.7 347.0 273.7 346.9 280.2 346.5 287.1 345.9 312.2 342.9 306.2 349.9 291.0 368.7 286.5 373.7 282.1 378.4 275.4 375.3 267.5 371.0 248.6 359.3 245.6 357.1 242.6 354.6 237.2 349.5Z"/><path fill="#147bff" d="M235.1 347.5L234.8 347.2 251.8 348.2 265.9 348.6 272.1 348.5 278.9 348.0 287.0 347.2 311.2 344.0 305.5 350.8 291.0 368.7 286.5 373.7 282.1 378.4 275.4 375.3 267.5 371.0 248.6 359.3 246.2 357.6 243.2 355.1 237.7 350.0Z"/><path fill="#176eff" d="M236.1 348.5L246.7 349.4 262.4 350.3 267.3 350.5 271.3 350.4 280.8 349.5 310.3 345.1 305.5 350.8 291.0 368.7 286.5 373.7 282.1 378.4 275.4 375.3 267.5 371.0 249.3 359.7 246.8 358.0 243.8 355.6Z"/><path fill="#1960ff" d="M237.7 350.0L237.4 349.8 262.7 352.1 267.0 352.2 271.2 352.1 276.0 351.7 281.5 351.0 297.4 348.1 309.3 346.2 291.4 368.2 286.5 373.7 282.1 378.4 275.4 375.3 267.5 371.0 249.3 359.7 246.8 358.0 244.4 356.1Z"/><path fill="#1c52ff" d="M239.3 351.5L238.8 351.1 263.4 353.9 266.9 354.0 271.3 353.9 276.1 353.5 282.4 352.5 303.3 348.2 308.4 347.3 291.4 368.2 286.5 373.7 282.1 378.4 275.4 375.3 267.5 371.0 249.9 360.1 245.6 357.1Z"/><path fill="#1f46ff" d="M240.4 352.5L240.2 352.3 248.5 353.5 262.3 355.7 267.0 356.0 271.0 355.9 275.7 355.4 281.9 354.3 307.4 348.5 291.4 368.2 286.5 373.7 282.1 378.4 273.0 374.0 264.5 369.2 248.0 358.9 244.4 356.1Z"/><path fill="#3143ff" d="M242.1 354.1L241.6 353.6 262.4 357.5 267.1 357.9 271.2 357.8 276.0 357.2 281.4 356.2 306.2 350.0 291.0 368.7 286.5 373.7 282.1 378.4 273.8 374.4 265.2 369.7 248.6 359.3 245.6 357.1Z"/><path fill="#4240ff" d="M243.2 355.1L248.9 356.2 259.1 358.6 263.5 359.4 268.5 360.0 272.7 360.0 275.4 359.7 278.7 359.0 284.7 357.1 305.0 351.4 291.0 368.7 286.5 373.7 282.1 378.4 274.6 374.8 266.0 370.2 248.6 359.3 246.2 357.6Z"/><path fill="#533cff" d="M245.0 356.6L248.7 357.3 258.1 359.8 264.3 361.2 269.7 362.0 274.2 362.2 277.0 361.8 279.4 361.2 282.3 360.2 289.8 357.1 303.8 352.8 291.0 368.7 286.5 373.7 282.1 378.4 274.6 374.8 266.0 370.2 249.3 359.7Z"/><path fill="#6439ff" d="M246.8 358.0L269.6 363.9 272.8 364.4 276.2 364.5 278.7 364.0 280.8 363.2 293.1 357.3 302.7 354.3 290.6 369.1 286.2 374.1 282.1 378.4 274.6 374.8 266.7 370.6 249.9 360.1Z"/><path fill="#7536ff" d="M249.3 359.7L248.7 359.4 249.5 359.6 260.5 362.7 273.0 366.7 274.9 367.1 276.7 367.2 278.4 366.9 280.4 366.1 288.5 361.5 294.3 358.5 297.1 357.2 301.5 355.7 290.3 369.5 286.2 374.1 282.1 378.4 275.4 375.3 267.5 371.0Z"/><path fill="#8633ff" d="M251.2 360.9L257.1 362.6 261.4 364.0 266.6 366.0 275.0 369.5 276.8 370.1 277.9 370.2 278.8 370.1 279.5 369.7 285.3 365.5 290.3 362.3 295.9 359.2 300.4 357.1 290.3 369.5 286.2 374.1 282.1 378.4 275.4 375.3 267.5 371.0Z"/><path fill="#9231ff" d="M253.8 362.5L253.4 362.2 255.6 362.9 260.7 364.7 265.8 366.7 269.9 368.6 273.1 370.3 276.6 372.8 279.3 375.0 280.1 375.5 280.7 375.6 281.2 373.6 282.2 371.2 283.0 369.8 284.6 368.1 287.4 365.9 291.2 363.3 294.2 361.5 298.8 359.2 289.5 370.4 282.1 378.4 275.4 375.3 267.5 371.0Z"/><path fill="#9b30fe" d="M256.6 364.2L255.9 363.8 257.5 364.4 263.5 366.7 267.6 368.5 270.8 370.1 275.9 373.5 280.2 376.6 280.9 377.3 281.7 377.7 282.0 377.3 281.9 376.7 282.2 375.2 283.2 372.8 284.5 370.5 286.0 368.8 288.2 366.9 290.9 365.0 297.0 361.3 289.1 370.8 282.1 378.4 275.4 375.3 268.3 371.5 263.7 368.8Z"/><path fill="#a42ffd" d="M258.6 365.5L264.6 367.9 269.5 370.2 275.5 373.9 279.9 376.9 281.5 377.7 281.8 377.7 282.5 376.8 282.7 375.9 284.1 373.2 285.3 371.4 286.7 369.7 287.9 368.5 289.9 367.0 295.3 363.5 288.4 371.7 282.1 378.4 275.4 375.3 269.0 371.9 264.5 369.2Z"/><path fill="#ae2dfd" d="M261.5 367.4L261.1 367.1 263.3 368.0 268.3 370.3 279.9 377.0 281.5 377.8 281.9 377.8 284.4 373.9 287.2 370.6 289.8 368.2 293.6 365.6 287.7 372.5 282.1 378.4 277.1 376.1 271.4 373.2 266.0 370.2Z"/><path fill="#b72cfc" d="M263.7 368.8L267.9 370.7 280.6 377.4 281.4 377.8 282.1 377.8 284.6 374.6 286.8 372.1 289.3 369.7 291.8 367.8 286.9 373.3 282.1 378.4 273.0 374.0 267.5 371.0Z"/><path fill="#c02bfb" d="M266.7 370.6L280.5 377.5 281.4 377.9 282.2 377.9 285.7 373.9 289.3 370.6 282.1 378.4 274.6 374.8Z"/><path fill="#c929fb" d="M273.0 374.0L281.3 378.0 282.3 378.0 286.6 373.7 282.1 378.4Z"/></g><line x1="218.4" y1="375.6" x2="215.7" y2="295.8" stroke="#222" stroke-width="0.6"/><line x1="218.4" y1="375.6" x2="281.1" y2="399.3" stroke="#222" stroke-width="0.6"/><line x1="281.1" y1="399.3" x2="332.7" y2="372.8" stroke="#222" stroke-width="0.6"/><line x1="218.4" y1="375.6" x2="216.9" y2="376.5" stroke="#222" stroke-width="0.5"/><text font-size="3.2" font-weight="bold" text-anchor="middle" stroke="#111" stroke-width=".2" transform="translate(213.4 377.6) rotate(-24) scale(1 .7)"><tspan y="1.1">0.000</tspan></text><line x1="217.7" y1="355.8" x2="216.2" y2="356.7" stroke="#222" stroke-width="0.5"/><text font-size="3.5" font-weight="bold" text-anchor="end" stroke="#111" stroke-width=".12" transform="translate(215.7 360.0) rotate(-16)">0.025</text><line x1="217.1" y1="336.1" x2="215.6" y2="337.0" stroke="#222" stroke-width="0.5"/><text font-size="3.5" font-weight="bold" text-anchor="end" stroke="#111" stroke-width=".12" transform="translate(215.1 340.3) rotate(-16)">0.050</text><line x1="216.4" y1="316.3" x2="214.9" y2="317.2" stroke="#222" stroke-width="0.5"/><text font-size="3.5" font-weight="bold" text-anchor="end" stroke="#111" stroke-width=".12" transform="translate(214.4 320.5) rotate(-16)">0.075</text><line x1="215.7" y1="296.6" x2="214.2" y2="297.5" stroke="#222" stroke-width="0.5"/><text font-size="3.5" font-weight="bold" text-anchor="end" stroke="#111" stroke-width=".12" transform="translate(213.7 300.8) rotate(-16)">0.100</text><line x1="229.2" y1="379.7" x2="227.5" y2="380.7" stroke="#222" stroke-width="0.55"/><text font-size="3" font-weight="bold" text-anchor="middle" stroke="#111" stroke-width=".1" transform="translate(226.6 382.6) rotate(-29)"><tspan y="1">0.05</tspan></text><line x1="242.2" y1="384.6" x2="240.5" y2="385.6" stroke="#222" stroke-width="0.55"/><text font-size="3" font-weight="bold" text-anchor="middle" stroke="#111" stroke-width=".1" transform="translate(239.6 387.5) rotate(-29)"><tspan y="1">0.10</tspan></text><line x1="255.1" y1="389.5" x2="253.4" y2="390.5" stroke="#222" stroke-width="0.55"/><text font-size="3" font-weight="bold" text-anchor="middle" stroke="#111" stroke-width=".1" transform="translate(252.5 392.4) rotate(-29)"><tspan y="1">0.15</tspan></text><line x1="268.1" y1="394.4" x2="266.4" y2="395.4" stroke="#222" stroke-width="0.55"/><text font-size="3" font-weight="bold" text-anchor="middle" stroke="#111" stroke-width=".1" transform="translate(265.5 397.3) rotate(-29)"><tspan y="1">0.20</tspan></text><line x1="281.1" y1="399.3" x2="279.4" y2="400.3" stroke="#222" stroke-width="0.55"/><text font-size="3" font-weight="bold" text-anchor="middle" stroke="#111" stroke-width=".1" transform="translate(278.5 402.2) rotate(-29)"><tspan y="1">0.25</tspan></text><line x1="287.6" y1="396.0" x2="289.6" y2="396.8" stroke="#222" stroke-width="0.55"/><text font-size="3" font-weight="bold" text-anchor="middle" stroke="#111" stroke-width=".1" transform="translate(291.4 397.9) rotate(22)"><tspan y="1">-40</tspan></text><line x1="301.7" y1="388.7" x2="303.7" y2="389.5" stroke="#222" stroke-width="0.55"/><text font-size="3" font-weight="bold" text-anchor="middle" stroke="#111" stroke-width=".1" transform="translate(305.5 390.6) rotate(22)"><tspan y="1">0</tspan></text><line x1="315.9" y1="381.4" x2="317.9" y2="382.2" stroke="#222" stroke-width="0.55"/><text font-size="3" font-weight="bold" text-anchor="middle" stroke="#111" stroke-width=".1" transform="translate(319.7 383.3) rotate(22)"><tspan y="1">40</tspan></text><line x1="328.6" y1="374.9" x2="330.6" y2="375.7" stroke="#222" stroke-width="0.55"/><text font-size="3" font-weight="bold" text-anchor="middle" stroke="#111" stroke-width=".1" transform="translate(332.4 376.8) rotate(22)"><tspan y="1">80</tspan></text><text font-size="6.45" text-anchor="middle" stroke="#111" stroke-width=".2" transform="translate(205.1 342.5) rotate(-91) scale(1 .8)">Volume Fraction of Retained Austenite (-)</text><text font-size="6.3" stroke="#111" stroke-width=".17" transform="translate(212.3 383.0) rotate(23.5) scale(1 .84)">Equivalent Plastic Strain (-)</text><text font-size="5.7" font-weight="bold" stroke="#111" stroke-width=".15" transform="translate(303.0 399.7) rotate(-26) scale(1 .9)">Temperature (°C)</text><circle cx="215.5" cy="295.5" r="1.25" fill="#1428e6"/><circle cx="237.0" cy="348.1" r="1.25" fill="#1428e6"/><circle cx="256.0" cy="363.3" r="1.25" fill="#1428e6"/><rect x="339.7" y="290.2" width="8.8" height="76.9" fill="url(#cb)"/><text font-size="6.5" stroke="#111" stroke-width=".12" transform="translate(350.0 292.3) scale(.79 1)">1.04×10<tspan dy="-2.3" font-size="3.8">-1</tspan></text><text font-size="6.5" stroke="#111" stroke-width=".12" transform="translate(350.0 311.5) scale(.79 1)">8.29×10<tspan dy="-2.3" font-size="3.8">-2</tspan></text><text font-size="6.5" stroke="#111" stroke-width=".12" transform="translate(350.0 330.8) scale(.79 1)">6.19×10<tspan dy="-2.3" font-size="3.8">-2</tspan></text><text font-size="6.5" stroke="#111" stroke-width=".12" transform="translate(350.0 350.0) scale(.79 1)">4.10×10<tspan dy="-2.3" font-size="3.8">-2</tspan></text><text font-size="6.5" stroke="#111" stroke-width=".12" transform="translate(350.0 369.2) scale(.79 1)">2.00×10<tspan dy="-2.3" font-size="3.8">-2</tspan></text><text font-size="4.6" font-weight="bold" stroke="#111" stroke-width=".12"><tspan x="296.0" y="362.0">QP980</tspan><tspan x="296.0" y="367.9">Uniaxial tension</tspan><tspan x="296.0" y="373.8">5 /s</tspan></text><text x="188.9" y="285.7" font-size="8.6">(f)</text></g><g><line x1="130.9" y1="510.6" x2="184.5" y2="490.2" stroke="#9a9a9a" stroke-width="0.45"/><line x1="184.5" y1="490.2" x2="245.2" y2="507.8" stroke="#9a9a9a" stroke-width="0.45"/><line x1="184.5" y1="490.2" x2="184.5" y2="420.9" stroke="#9a9a9a" stroke-width="0.45"/><line x1="128.2" y1="430.8" x2="184.5" y2="420.9" stroke="#9a9a9a" stroke-width="0.45"/><line x1="184.5" y1="420.9" x2="249.0" y2="427.9" stroke="#9a9a9a" stroke-width="0.45"/><line x1="249.0" y1="427.9" x2="245.2" y2="507.8" stroke="#9a9a9a" stroke-width="0.45"/><g fill-rule="evenodd"><path fill="#ff231e" d="M127.9 430.5L128.4 440.1 128.9 445.8 130.3 453.2 131.8 459.8 133.1 463.9 134.5 467.5 139.4 477.4 141.4 480.8 143.6 483.4 145.9 485.7 153.1 492.3 157.7 496.0 161.4 498.4 175.7 507.1 193.9 518.0 198.7 510.4 203.9 503.0 209.2 496.3 214.7 489.9 220.3 484.0 226.6 477.9 233.7 471.5 246.0 460.8 241.3 459.6 236.0 458.0 231.0 456.2 226.8 454.6 224.2 453.3 214.3 447.9 208.2 444.9 202.7 441.8 199.6 439.6 196.7 437.4 193.7 434.7 190.8 431.7 188.9 429.4 187.0 426.8 185.7 424.6 184.0 421.3Z"/><path fill="#ff2e1b" d="M169.3 423.8L184.0 421.3 182.9 421.8 184.3 422.0 187.2 427.2 188.9 429.4 190.8 431.7 193.7 434.7 196.7 437.4 199.6 439.6 202.7 441.8 208.2 444.9 214.3 447.9 226.8 454.6 231.0 456.2 236.0 458.0 241.3 459.6 246.0 460.8 233.7 471.5 226.6 477.9 220.3 484.0 214.7 489.9 209.2 496.3 203.9 503.0 198.7 510.4 193.9 518.0 177.9 508.5 158.9 496.8 156.5 495.1 153.7 492.8 145.4 485.3 143.6 483.4 141.8 481.4 140.6 479.6 139.4 477.4 133.9 466.1 132.5 462.4 131.5 458.9 129.7 450.4 128.9 445.8 128.4 440.1 127.9 431.0 131.9 430.7 136.0 430.1Z"/><path fill="#ff3918" d="M128.0 432.9L128.0 432.1 144.5 430.5 174.0 425.3 179.9 424.4 185.3 423.9 186.8 426.5 188.6 429.1 190.8 431.7 193.4 434.4 195.9 436.7 198.3 438.7 204.2 442.7 208.2 444.9 214.3 447.9 226.8 454.6 231.0 456.2 236.0 458.0 241.3 459.6 246.0 460.8 233.7 471.5 226.6 477.9 220.3 484.0 214.7 489.9 209.2 496.3 203.9 503.0 198.7 510.4 193.9 518.0 175.7 507.1 161.4 498.4 157.7 496.0 154.8 493.8 150.9 490.4 144.5 484.4 141.8 481.4 140.6 479.6 139.4 477.4 134.8 468.2 133.3 464.7 132.0 460.7 130.7 455.1 129.1 446.8 128.5 441.5Z"/><path fill="#ff4415" d="M128.1 434.1L128.0 433.2 152.3 430.8 156.7 430.2 174.5 427.2 186.4 425.9 187.9 428.1 189.7 430.4 192.0 433.0 194.8 435.7 199.6 439.6 205.1 443.2 224.8 453.6 227.5 454.9 231.7 456.5 236.0 458.0 241.3 459.6 246.0 460.8 233.7 471.5 226.6 477.9 220.3 484.0 214.7 489.9 209.2 496.3 203.9 503.0 198.7 510.4 193.9 518.0 175.7 507.1 161.4 498.4 157.7 496.0 154.8 493.8 150.9 490.4 144.5 484.4 141.8 481.4 140.6 479.6 139.4 477.4 134.8 468.2 133.3 464.7 132.0 460.7 130.7 455.1 129.1 446.8 128.5 441.5Z"/><path fill="#ff4f12" d="M128.1 435.5L128.1 434.3 151.1 432.0 163.9 430.6 179.7 428.5 187.6 427.8 191.1 432.0 195.9 436.7 200.5 440.3 206.1 443.8 214.9 448.2 224.8 453.6 227.5 454.9 231.7 456.5 236.0 458.0 241.3 459.6 246.0 460.8 233.7 471.5 226.6 477.9 220.3 484.0 214.7 489.9 209.2 496.3 203.9 503.0 198.7 510.4 193.9 518.0 175.7 507.1 161.4 498.4 157.7 496.0 154.8 493.8 151.5 490.9 144.9 484.8 142.3 481.9 141.0 480.2 139.8 478.2 135.5 469.5 133.6 465.4 132.3 461.6 130.9 456.1 129.2 447.8 128.5 441.5Z"/><path fill="#ff5a0e" d="M128.1 435.5L128.1 435.3 143.5 434.0 175.4 430.7 182.7 430.1 189.1 429.7 193.0 434.0 197.1 437.7 201.8 441.2 207.2 444.4 214.3 447.9 224.8 453.6 227.5 454.9 231.7 456.5 236.0 458.0 241.3 459.6 246.0 460.8 233.7 471.5 226.6 477.9 220.3 484.0 214.7 489.9 209.2 496.3 203.9 503.0 198.7 510.4 193.9 518.0 175.7 507.1 161.4 498.4 157.7 496.0 154.8 493.8 151.5 490.9 144.9 484.8 142.3 481.9 141.0 480.2 139.8 478.2 135.5 469.5 133.6 465.4 132.3 461.6 130.9 456.1 129.2 447.8 128.5 441.5Z"/><path fill="#ff650b" d="M128.2 437.0L128.2 436.4 142.0 435.2 175.0 432.1 182.8 431.5 190.4 431.2 194.4 435.4 198.3 438.7 203.2 442.1 208.2 444.9 214.3 447.9 224.8 453.6 228.2 455.1 236.8 458.2 246.0 460.8 233.7 471.5 226.6 477.9 220.3 484.0 214.7 489.9 209.2 496.3 203.9 503.0 198.7 510.4 193.9 518.0 175.7 507.1 161.4 498.4 157.7 496.0 154.8 493.8 151.5 490.9 144.9 484.8 142.3 481.9 140.6 479.6 138.6 475.9 134.5 467.5 132.5 462.4 131.1 457.0 129.4 448.7 128.6 442.6Z"/><path fill="#ff7008" d="M128.3 438.6L128.2 437.5 174.6 433.4 183.0 432.9 191.8 432.7 194.4 435.4 197.1 437.7 200.0 440.0 203.2 442.1 208.2 444.9 214.3 447.9 224.8 453.6 228.9 455.4 234.6 457.5 240.5 459.4 246.0 460.8 233.7 471.5 226.6 477.9 220.3 484.0 214.7 489.9 209.2 496.3 203.9 503.0 198.7 510.4 193.9 518.0 175.7 507.1 161.4 498.4 157.7 496.0 154.8 493.8 151.5 490.9 144.9 484.8 142.3 481.9 140.6 479.6 138.6 475.9 134.5 467.5 132.5 462.4 131.1 457.0 129.4 448.7 128.7 443.7Z"/><path fill="#ff7a05" d="M128.3 438.6L173.8 434.8 183.3 434.4 193.2 434.2 197.9 438.4 203.7 442.4 208.2 444.9 214.3 447.9 224.8 453.6 228.9 455.4 234.6 457.5 240.5 459.4 246.0 460.8 233.7 471.5 226.6 477.9 220.3 484.0 214.7 489.9 209.2 496.3 203.9 503.0 198.7 510.4 193.9 518.0 175.7 507.1 161.4 498.4 157.7 496.0 154.8 493.8 151.5 490.9 144.9 484.8 142.3 481.9 140.6 479.6 138.6 475.9 134.5 467.5 132.5 462.4 131.1 457.0 129.4 448.7 128.7 443.7Z"/><path fill="#ff8502" d="M128.4 440.1L128.3 439.6 171.0 436.3 181.8 435.8 194.8 435.8 199.2 439.3 204.6 442.9 208.2 444.9 214.3 447.9 225.5 453.9 229.6 455.7 234.6 457.5 240.5 459.4 246.0 460.8 233.7 471.5 226.6 477.9 220.3 484.0 214.7 489.9 209.2 496.3 203.9 503.0 198.7 510.4 193.9 518.0 177.2 508.0 158.3 496.4 155.4 494.2 152.0 491.4 144.9 484.8 142.7 482.4 141.0 480.2 139.0 476.7 134.5 467.5 132.8 463.2 131.3 458.0 129.5 449.6 128.8 444.8Z"/><path fill="#ff9100" d="M128.5 441.5L128.4 440.7 169.1 437.7 181.9 437.2 196.5 437.3 200.5 440.3 205.6 443.5 226.2 454.3 230.3 456.0 235.3 457.8 240.5 459.4 246.0 460.8 233.7 471.5 226.6 477.9 220.3 484.0 214.7 489.9 209.2 496.3 203.9 503.0 198.7 510.4 193.9 518.0 177.2 508.0 158.3 496.4 155.4 494.2 152.0 491.4 144.9 484.8 142.7 482.4 141.0 480.2 139.0 476.7 134.5 467.5 132.8 463.2 131.5 458.9 130.3 453.2 129.2 447.8Z"/><path fill="#ff9d00" d="M128.6 442.6L128.5 441.7 168.9 438.9 176.4 438.6 184.3 438.5 198.4 438.8 202.3 441.5 206.6 444.1 214.3 447.9 226.2 454.3 230.3 456.0 235.3 457.8 240.5 459.4 246.0 460.8 233.7 471.5 226.6 477.9 220.3 484.0 214.7 489.9 209.2 496.3 203.9 503.0 198.7 510.4 193.9 518.0 177.2 508.0 158.3 496.4 155.4 494.2 152.0 491.4 144.9 484.8 142.7 482.4 141.0 480.2 139.4 477.4 134.8 468.2 133.1 463.9 131.8 459.8 130.5 454.2 129.2 447.8Z"/><path fill="#ffa900" d="M128.7 443.7L128.6 442.7 168.3 440.2 176.4 439.9 186.8 439.9 200.5 440.3 203.7 442.4 207.2 444.4 214.3 447.9 226.2 454.3 230.3 456.0 235.3 457.8 240.5 459.4 246.0 460.8 233.7 471.5 226.6 477.9 220.3 484.0 214.7 489.9 209.2 496.3 203.9 503.0 198.7 510.4 193.9 518.0 177.2 508.0 158.3 496.4 155.4 494.2 152.5 491.8 145.4 485.3 143.1 482.9 141.0 480.2 139.4 477.4 134.8 468.2 133.1 463.9 131.8 459.8 130.7 455.1 129.4 448.7Z"/><path fill="#ffb500" d="M128.8 444.8L128.7 443.7 166.3 441.4 175.2 441.2 186.4 441.1 202.4 441.6 208.2 444.9 214.3 447.9 226.8 454.6 231.0 456.2 236.0 458.0 241.3 459.6 246.0 460.8 233.7 471.5 226.6 477.9 220.3 484.0 214.7 489.9 209.2 496.3 203.9 503.0 198.7 510.4 193.9 518.0 177.2 508.0 158.3 496.4 155.4 494.2 152.5 491.8 145.4 485.3 143.1 482.9 141.4 480.8 139.8 478.2 135.1 468.8 133.3 464.7 132.0 460.7 130.9 456.1 129.5 449.6Z"/><path fill="#ffc100" d="M128.8 444.8L159.0 442.9 170.6 442.4 188.4 442.3 204.5 442.9 208.7 445.2 214.3 447.9 226.8 454.6 231.0 456.2 236.0 458.0 241.3 459.6 246.0 460.8 233.7 471.5 226.6 477.9 220.3 484.0 214.7 489.9 209.2 496.3 203.9 503.0 198.7 510.4 193.9 518.0 177.2 508.0 158.3 496.4 155.4 494.2 152.5 491.8 145.4 485.3 143.1 482.9 141.4 480.8 139.8 478.2 135.1 468.8 133.3 464.7 132.0 460.7 130.9 456.1 129.5 449.6Z"/><path fill="#ffce00" d="M128.9 445.8L157.5 444.1 170.5 443.5 187.7 443.4 206.8 444.2 214.9 448.2 224.8 453.6 227.5 454.9 231.7 456.5 236.0 458.0 241.3 459.6 246.0 460.8 233.7 471.5 226.6 477.9 220.3 484.0 214.7 489.9 209.2 496.3 203.9 503.0 198.7 510.4 193.9 518.0 177.2 508.0 158.3 496.4 155.4 494.2 152.5 491.8 145.4 485.3 143.1 482.9 141.4 480.8 139.8 478.2 135.1 468.8 133.3 464.7 132.3 461.6 131.1 457.0 129.5 449.6Z"/><path fill="#ffda00" d="M129.1 446.8L157.4 445.1 171.0 444.6 187.9 444.6 209.3 445.5 214.3 447.9 224.8 453.6 228.2 455.1 236.8 458.2 246.0 460.8 233.7 471.5 226.6 477.9 220.3 484.0 214.7 489.9 209.2 496.3 203.9 503.0 198.7 510.4 193.9 518.0 177.2 508.0 158.3 496.4 155.9 494.7 153.1 492.3 143.6 483.4 141.4 480.8 139.8 478.2 135.1 468.8 133.6 465.4 132.3 461.6 131.3 458.0Z"/><path fill="#ffe600" d="M129.4 448.7L129.2 447.8 155.9 446.2 166.9 445.8 186.5 445.7 199.6 446.1 212.0 446.8 224.8 453.6 228.2 455.1 236.8 458.2 246.0 460.8 233.7 471.5 226.6 477.9 220.3 484.0 214.7 489.9 209.2 496.3 203.9 503.0 198.7 510.4 193.9 518.0 177.2 508.0 158.3 496.4 155.9 494.7 153.1 492.3 143.6 483.4 141.4 480.8 139.8 478.2 133.9 466.1 132.5 462.4 131.5 458.9Z"/><path fill="#fff200" d="M129.5 449.6L129.4 448.8 155.8 447.3 168.3 446.9 180.4 446.7 187.5 446.8 200.7 447.3 214.6 448.1 224.8 453.6 228.9 455.4 237.5 458.5 246.0 460.8 233.7 471.5 226.6 477.9 220.3 484.0 214.7 489.9 209.2 496.3 203.9 503.0 198.7 510.4 193.9 518.0 177.2 508.0 158.3 496.4 155.9 494.7 153.1 492.3 143.6 483.4 141.4 480.8 139.8 478.2 133.9 466.1 132.8 463.2 131.8 459.8Z"/><path fill="#e1f400" d="M129.7 450.4L129.6 449.8 149.2 448.7 161.2 448.1 175.9 447.9 189.4 448.0 217.1 449.4 224.8 453.6 229.6 455.7 237.5 458.5 246.0 460.8 233.7 471.5 226.6 477.9 220.3 484.0 214.7 489.9 209.2 496.3 203.9 503.0 198.7 510.4 193.9 518.0 177.2 508.0 158.3 496.4 155.9 494.7 153.1 492.3 144.0 483.9 141.8 481.4 140.2 478.9 134.2 466.8 132.8 463.2 131.8 459.8Z"/><path fill="#b9f200" d="M129.9 451.3L129.8 450.9 151.8 449.6 161.6 449.3 177.3 449.0 188.7 449.2 211.2 450.4 219.5 450.7 225.5 453.9 231.0 456.2 238.3 458.7 246.0 460.8 233.7 471.5 226.6 477.9 220.3 484.0 214.7 489.9 209.2 496.3 203.9 503.0 198.7 510.4 193.9 518.0 177.2 508.0 158.3 496.4 155.9 494.7 153.1 492.3 144.0 483.9 141.8 481.4 140.2 478.9 134.2 466.8 133.1 463.9 132.0 460.7 130.9 456.1Z"/><path fill="#92f000" d="M130.1 452.2L130.0 452.0 152.5 450.7 176.7 450.2 186.3 450.4 210.6 451.7 221.9 452.0 226.2 454.3 231.7 456.5 239.0 458.9 246.0 460.8 233.7 471.5 226.6 477.9 220.3 484.0 214.7 489.9 209.2 496.3 203.9 503.0 198.7 510.4 193.9 518.0 177.2 508.0 158.3 496.4 155.9 494.7 153.1 492.3 144.0 483.9 141.8 481.4 140.2 478.9 134.2 466.8 133.1 463.9 132.0 460.7Z"/><path fill="#6aee00" d="M130.3 453.2L153.1 451.9 176.0 451.4 187.2 451.7 210.9 453.0 224.3 453.3 228.2 455.1 233.8 457.3 239.8 459.2 246.0 460.8 233.7 471.5 226.6 477.9 220.3 484.0 214.7 489.9 209.2 496.3 203.9 503.0 198.7 510.4 193.9 518.0 177.2 508.0 158.3 496.4 155.9 494.7 153.1 492.3 144.0 483.9 141.8 481.4 140.2 478.9 134.5 467.5 133.3 464.7 132.3 461.6Z"/><path fill="#43ec00" d="M130.7 455.1L130.5 454.2 151.8 453.1 173.4 452.6 183.9 452.9 210.4 454.3 226.9 454.6 231.0 456.2 236.0 458.0 241.3 459.6 246.0 460.8 233.7 471.5 226.6 477.9 220.3 484.0 214.7 489.9 209.2 496.3 203.9 503.0 198.7 510.4 193.9 518.0 177.2 508.0 158.3 496.4 155.9 494.7 153.1 492.3 144.5 484.4 142.3 481.9 140.6 479.6 139.0 476.7 134.8 468.2 132.5 462.4Z"/><path fill="#26eb02" d="M130.9 456.1L130.7 455.3 140.1 454.8 153.5 454.2 172.5 453.8 182.3 454.1 209.9 455.5 230.3 456.0 238.3 458.7 246.0 460.8 233.7 471.5 226.6 477.9 220.3 484.0 214.7 489.9 209.2 496.3 203.9 503.0 198.7 510.4 193.9 518.0 177.2 508.0 158.3 496.4 155.9 494.7 153.1 492.3 144.9 484.8 142.3 481.9 140.6 479.6 139.0 476.7 135.5 469.5 133.9 466.1 132.8 463.2Z"/><path fill="#20e909" d="M131.1 457.0L130.9 456.4 146.0 455.6 168.0 455.1 177.4 455.1 207.4 456.7 234.2 457.4 240.5 459.4 246.0 460.8 233.7 471.5 226.6 477.9 220.3 484.0 214.7 489.9 209.2 496.3 203.9 503.0 198.7 510.4 193.9 518.0 177.2 508.0 158.3 496.4 155.9 494.7 153.1 492.3 144.9 484.8 143.1 482.9 141.4 480.8 140.2 478.9 138.6 475.9 134.8 468.2 133.6 465.4 132.3 461.6Z"/><path fill="#1be810" d="M131.3 458.0L131.2 457.5 144.3 456.8 165.1 456.3 173.3 456.3 206.9 457.9 224.3 458.3 238.7 458.8 246.0 460.8 233.7 471.5 226.6 477.9 220.3 484.0 214.7 489.9 209.2 496.3 203.9 503.0 198.7 510.4 193.9 518.0 177.2 508.0 158.3 496.4 155.9 494.7 153.1 492.3 144.9 484.8 143.1 482.9 141.4 480.8 139.0 476.7 133.9 466.1 132.5 462.4Z"/><path fill="#15e618" d="M131.5 458.9L131.5 458.6 144.2 457.9 163.5 457.5 170.5 457.4 187.9 458.1 205.5 459.0 224.9 459.5 241.9 460.2 243.8 460.3 246.0 460.8 233.7 471.5 226.6 477.9 220.3 484.0 214.7 489.9 209.2 496.3 203.9 503.0 198.7 510.4 193.9 518.0 177.9 508.5 158.9 496.8 156.5 495.1 153.7 492.8 145.4 485.3 143.6 483.4 141.8 481.4 140.6 479.6 139.4 477.4 133.9 466.1 132.5 462.4Z"/><path fill="#0fe51f" d="M131.8 459.8L131.8 459.7 135.6 459.5 145.6 459.0 168.4 458.6 186.5 459.3 207.9 460.4 245.7 461.0 233.7 471.5 226.6 477.9 220.3 484.0 214.7 489.9 209.2 496.3 203.9 503.0 198.7 510.4 193.9 518.0 177.9 508.5 158.9 496.8 156.5 495.1 153.7 492.8 145.4 485.3 142.3 481.9 141.0 480.2 139.8 478.2 134.2 466.8 132.8 463.2Z"/><path fill="#0ae326" d="M132.3 461.6L137.4 461.0 144.9 460.4 158.1 459.9 166.0 459.7 173.1 459.9 196.3 461.0 220.0 461.5 244.3 462.3 233.3 471.8 226.3 478.2 219.9 484.4 214.4 490.3 209.2 496.3 203.9 503.0 198.7 510.4 193.9 518.0 179.4 509.4 160.1 497.6 155.9 494.7 151.5 490.9 144.5 484.4 142.7 482.4 141.0 480.2 139.0 476.7 134.8 468.2 133.3 464.7Z"/><path fill="#04e22d" d="M133.1 463.9L132.9 463.3 136.2 463.0 158.4 461.4 165.1 461.1 173.1 461.3 187.0 462.2 196.7 463.0 203.2 463.4 242.5 463.8 232.2 472.8 225.5 478.9 219.6 484.8 214.0 490.7 208.8 496.8 203.6 503.5 198.7 510.4 193.9 518.0 179.4 509.4 160.1 497.6 156.5 495.1 152.5 491.8 144.5 484.4 142.7 482.4 141.0 480.2 139.4 477.4 135.5 469.5Z"/><path fill="#00e13a" d="M133.6 465.4L133.5 465.2 136.5 465.0 157.9 463.5 162.3 463.4 168.6 463.5 191.6 464.9 198.9 465.2 241.0 465.2 231.5 473.5 224.8 479.7 218.8 485.5 213.6 491.1 208.4 497.3 203.6 503.5 198.7 510.4 193.9 518.0 179.4 509.4 160.7 498.0 156.5 495.1 153.1 492.3 144.5 484.4 141.4 480.8 139.0 476.7 135.1 468.8Z"/><path fill="#00e357" d="M134.5 467.5L134.3 467.0 154.7 465.7 159.5 465.5 165.1 465.6 198.0 466.9 239.7 466.3 231.1 473.8 224.4 480.0 218.5 485.9 213.3 491.5 208.0 497.7 203.2 504.0 198.4 511.0 193.9 518.0 179.4 509.4 160.7 498.0 157.1 495.6 154.2 493.3 144.9 484.8 141.8 481.4 140.6 479.6 139.4 477.4Z"/><path fill="#00e474" d="M135.5 469.5L135.1 468.9 157.1 467.5 196.0 468.5 238.5 467.3 230.0 474.8 223.7 480.7 218.1 486.3 212.9 492.0 208.0 497.7 203.2 504.0 198.4 511.0 193.9 518.0 161.4 498.4 157.7 496.0 154.8 493.8 145.4 485.3 142.3 481.9 141.0 480.2 139.8 478.2Z"/><path fill="#00e692" d="M136.1 470.8L136.0 470.7 154.6 469.6 194.1 470.2 237.2 468.4 229.3 475.5 222.9 481.4 217.3 487.1 212.5 492.4 207.7 498.2 202.8 504.5 198.4 511.0 193.9 518.0 161.4 498.4 157.7 496.0 154.8 493.8 145.4 485.3 142.3 481.9 141.0 480.2 139.8 478.2Z"/><path fill="#00e7af" d="M137.2 472.9L136.8 472.3 152.2 471.5 185.3 472.0 194.1 471.9 236.0 469.5 228.5 476.2 222.6 481.8 217.0 487.5 212.1 492.8 207.3 498.7 202.8 504.5 198.4 511.0 193.9 518.0 161.4 498.4 158.3 496.4 155.4 494.2 152.0 491.4 145.9 485.7 142.7 482.4 141.4 480.8 140.2 478.9Z"/><path fill="#00e8cc" d="M137.9 474.4L137.6 473.9 150.0 473.4 167.3 473.8 184.1 473.9 191.0 473.8 234.7 470.7 227.8 476.9 221.8 482.5 216.6 487.9 211.8 493.2 206.9 499.1 202.5 505.1 198.0 511.5 193.9 518.0 161.4 498.4 155.9 494.7 150.9 490.4 145.4 485.3 143.1 482.9 140.6 479.6Z"/><path fill="#00eae9" d="M138.6 475.9L138.4 475.5 147.8 475.3 165.1 475.8 181.1 475.8 187.9 475.7 195.6 475.2 233.3 471.9 226.6 477.9 221.1 483.3 216.2 488.3 211.4 493.7 206.9 499.1 202.5 505.1 198.0 511.5 193.9 518.0 161.4 498.4 156.5 495.1 152.0 491.4 143.6 483.4 141.0 480.2Z"/><path fill="#01e8ff" d="M139.4 477.4L139.2 477.2 144.6 477.1 163.0 477.8 178.1 477.8 185.9 477.6 194.7 476.9 232.0 473.1 225.5 478.9 220.3 484.0 215.5 489.1 211.0 494.1 206.6 499.6 202.1 505.6 198.0 511.5 193.9 518.0 161.4 498.4 156.5 495.1 152.0 491.4 144.0 483.9 141.4 480.8Z"/><path fill="#03daff" d="M140.2 478.9L145.6 478.9 156.1 479.6 162.1 479.8 175.9 479.8 182.8 479.6 192.7 478.7 230.6 474.3 224.8 479.7 219.6 484.8 214.7 489.9 210.3 495.0 206.2 500.1 202.1 505.6 198.0 511.5 193.9 518.0 174.2 506.2 160.7 498.0 157.1 495.6 152.5 491.8 144.5 484.4 141.8 481.4Z"/><path fill="#06cdff" d="M141.4 480.8L141.2 480.5 141.8 480.5 155.0 481.5 162.1 481.8 173.8 481.9 180.6 481.7 189.4 480.9 229.3 475.5 223.7 480.7 218.8 485.5 214.4 490.3 209.9 495.4 205.8 500.6 201.7 506.1 197.6 512.1 193.9 518.0 175.7 507.1 161.4 498.4 157.7 496.0 153.1 492.3 145.9 485.7 143.6 483.4Z"/><path fill="#08bfff" d="M142.7 482.4L142.4 482.1 153.7 483.2 162.8 483.7 172.7 484.0 179.7 483.8 188.5 482.8 210.9 479.1 228.0 476.6 222.9 481.4 218.1 486.3 213.6 491.1 209.5 495.9 205.4 501.0 201.7 506.1 197.6 512.1 193.9 518.0 177.2 508.0 158.3 496.4 155.4 494.2 152.0 491.4 144.9 484.8Z"/><path fill="#0ab1ff" d="M144.0 483.9L143.9 483.7 155.8 485.1 164.6 485.7 172.6 486.0 179.5 485.7 184.0 485.3 188.8 484.5 215.0 479.7 226.7 477.8 221.4 482.9 217.0 487.5 212.9 492.0 208.8 496.8 205.1 501.5 201.3 506.6 197.6 512.1 193.9 518.0 177.2 508.0 158.3 496.4 155.9 494.7 153.1 492.3Z"/><path fill="#0da4ff" d="M145.9 485.7L145.5 485.4 154.0 486.4 168.7 487.5 174.6 487.7 179.8 487.5 184.7 486.9 190.5 486.0 213.7 481.2 225.4 479.0 220.7 483.6 216.2 488.3 212.1 492.8 208.4 497.3 204.7 502.0 201.0 507.2 193.9 518.0 177.9 508.5 158.9 496.8 156.5 495.1 153.7 492.8Z"/><path fill="#0f96ff" d="M147.3 487.0L147.1 486.8 157.7 488.1 169.5 489.2 175.0 489.4 179.8 489.2 184.9 488.6 191.1 487.5 212.4 482.7 224.1 480.3 215.5 489.1 208.0 497.7 201.0 507.2 193.9 518.0 177.9 508.5 158.9 496.8 154.2 493.3Z"/><path fill="#1289ff" d="M148.8 488.4L148.5 488.2 164.8 490.4 170.4 491.0 175.3 491.2 179.7 491.0 184.2 490.5 189.2 489.5 211.8 484.0 222.7 481.6 214.7 489.9 207.3 498.7 200.6 507.7 193.9 518.0 178.7 508.9 159.5 497.2 154.8 493.8Z"/><path fill="#147bff" d="M150.4 489.9L150.0 489.5 166.8 492.2 171.4 492.8 175.7 493.0 180.6 492.8 184.7 492.2 189.9 491.1 210.4 485.6 221.4 482.9 214.0 490.7 206.9 499.1 200.2 508.2 193.9 518.0 178.7 508.9 159.5 497.2 155.4 494.2Z"/><path fill="#176eff" d="M151.5 490.9L167.4 493.8 171.5 494.5 176.1 494.8 180.4 494.6 184.3 494.1 189.2 493.0 204.9 488.2 220.1 484.2 212.9 492.0 206.2 500.1 199.9 508.8 193.9 518.0 179.4 509.4 160.1 497.6 155.9 494.7Z"/><path fill="#1960ff" d="M153.1 492.3L152.9 492.1 157.4 493.1 171.6 496.2 176.5 496.8 180.8 496.7 183.6 496.3 187.1 495.4 207.4 488.7 218.8 485.5 212.1 492.8 205.8 500.6 199.9 508.8 193.9 518.0 179.4 509.4 160.7 498.0 156.5 495.1Z"/><path fill="#1c52ff" d="M154.8 493.8L154.4 493.5 157.4 494.1 168.4 497.1 174.0 498.3 178.7 499.0 182.1 498.9 184.0 498.5 187.7 497.2 199.4 492.8 207.6 489.9 217.6 486.8 211.0 494.1 205.1 501.5 199.5 509.3 193.9 518.0 161.4 498.4 157.7 496.0Z"/><path fill="#1f46ff" d="M156.5 495.1L156.2 494.9 156.6 495.0 170.5 499.0 176.9 500.7 180.6 501.4 183.3 501.5 185.2 501.1 186.7 500.6 191.4 497.7 199.7 494.1 209.1 490.5 216.3 488.2 210.3 495.0 204.7 502.0 199.1 509.9 193.9 518.0 161.4 498.4Z"/><path fill="#3143ff" d="M158.9 496.8L158.4 496.5 159.0 496.7 169.0 499.7 181.1 503.8 183.3 504.3 185.2 504.4 186.7 504.0 188.0 503.3 194.1 498.3 195.9 497.3 204.0 493.6 215.1 489.5 209.5 495.9 203.9 503.0 198.7 510.4 193.9 518.0 177.9 508.5Z"/><path fill="#4240ff" d="M161.4 498.4L160.9 498.1 162.2 498.5 171.6 501.6 184.5 506.9 186.3 507.4 187.4 507.4 188.3 507.1 189.2 506.4 193.6 501.4 196.4 498.8 198.0 497.7 204.7 494.5 213.8 491.0 208.4 497.3 203.6 503.5 198.7 510.4 193.9 518.0Z"/><path fill="#533cff" d="M163.9 499.9L167.8 501.2 173.3 503.3 179.6 506.1 187.6 510.2 188.5 510.6 189.6 510.8 190.2 510.3 191.9 506.9 194.1 503.7 196.2 501.4 199.5 498.4 201.3 497.3 204.6 495.7 212.5 492.4 207.7 498.2 202.8 504.5 198.4 511.0 193.9 518.0Z"/><path fill="#6439ff" d="M166.6 501.5L173.6 504.3 180.7 507.6 186.2 510.7 190.8 513.9 191.9 514.4 192.1 513.8 192.5 510.1 193.2 508.2 194.8 505.5 197.2 502.5 200.0 499.9 202.6 497.8 206.6 495.9 211.2 493.8 206.9 499.1 202.5 505.1 198.0 511.5 193.9 518.0 180.2 509.9Z"/><path fill="#7536ff" d="M170.0 503.6L169.3 503.2 170.8 503.8 176.3 506.3 184.2 510.3 188.1 512.8 191.2 515.0 192.5 516.4 193.5 516.9 193.3 516.0 193.2 514.4 193.4 512.2 193.9 510.1 194.6 508.3 196.3 505.6 199.3 502.2 203.3 498.8 205.0 497.7 210.0 495.3 205.8 500.6 201.7 506.1 197.6 512.1 193.9 518.0Z"/><path fill="#8633ff" d="M172.8 505.4L178.4 507.8 183.9 510.7 188.7 513.6 192.5 516.5 193.6 517.0 193.8 516.3 193.7 515.5 194.1 513.3 194.8 510.6 195.5 508.7 196.9 506.6 199.5 503.6 202.9 500.5 206.1 498.1 208.8 496.7 205.1 501.5 201.3 506.6 197.6 512.1 193.9 518.0Z"/><path fill="#9231ff" d="M175.7 507.1L179.7 509.0 184.5 511.5 187.7 513.4 192.5 516.6 193.3 517.1 193.7 517.0 194.1 515.8 194.4 514.2 195.5 511.0 196.3 509.2 197.4 507.5 199.0 505.5 201.3 503.2 203.9 501.0 207.5 498.3 200.6 507.7 193.9 518.0Z"/><path fill="#9b30fe" d="M179.4 509.4L178.8 509.0 181.1 510.1 185.2 512.2 193.3 517.1 193.8 517.1 195.5 512.5 197.0 509.5 197.7 508.4 199.4 506.4 201.2 504.5 205.6 500.8 199.9 508.8 193.9 518.0Z"/><path fill="#a42ffd" d="M181.7 510.8L186.7 513.3 193.2 517.2 193.9 517.2 196.2 512.1 197.9 509.2 200.5 506.2 203.7 503.3 198.7 510.4 193.9 518.0Z"/><path fill="#ae2dfd" d="M184.9 512.7L188.2 514.4 193.2 517.3 194.0 517.2 196.2 512.9 198.4 509.5 199.7 508.0 201.9 505.8 198.0 511.5 193.9 518.0Z"/><path fill="#b72cfc" d="M188.1 514.6L193.1 517.4 194.1 517.3 197.3 511.9 198.9 509.8 200.2 508.3 193.9 518.0Z"/><path fill="#c02bfb" d="M190.5 516.0L193.1 517.4 194.2 517.3 197.5 512.3 193.9 518.0Z"/></g><line x1="130.9" y1="510.6" x2="128.2" y2="430.8" stroke="#222" stroke-width="0.6"/><line x1="130.9" y1="510.6" x2="193.6" y2="534.3" stroke="#222" stroke-width="0.6"/><line x1="193.6" y1="534.3" x2="245.2" y2="507.8" stroke="#222" stroke-width="0.6"/><line x1="130.9" y1="510.6" x2="129.4" y2="511.5" stroke="#222" stroke-width="0.5"/><text font-size="3.2" font-weight="bold" text-anchor="middle" stroke="#111" stroke-width=".2" transform="translate(125.9 512.6) rotate(-24) scale(1 .7)"><tspan y="1.1">0.000</tspan></text><line x1="130.2" y1="490.8" x2="128.7" y2="491.7" stroke="#222" stroke-width="0.5"/><text font-size="3.5" font-weight="bold" text-anchor="end" stroke="#111" stroke-width=".12" transform="translate(128.2 495.0) rotate(-16)">0.025</text><line x1="129.6" y1="471.1" x2="128.1" y2="472.0" stroke="#222" stroke-width="0.5"/><text font-size="3.5" font-weight="bold" text-anchor="end" stroke="#111" stroke-width=".12" transform="translate(127.6 475.3) rotate(-16)">0.050</text><line x1="128.9" y1="451.3" x2="127.4" y2="452.2" stroke="#222" stroke-width="0.5"/><text font-size="3.5" font-weight="bold" text-anchor="end" stroke="#111" stroke-width=".12" transform="translate(126.9 455.5) rotate(-16)">0.075</text><line x1="128.2" y1="431.6" x2="126.7" y2="432.5" stroke="#222" stroke-width="0.5"/><text font-size="3.5" font-weight="bold" text-anchor="end" stroke="#111" stroke-width=".12" transform="translate(126.2 435.8) rotate(-16)">0.100</text><line x1="141.7" y1="514.7" x2="140.0" y2="515.7" stroke="#222" stroke-width="0.55"/><text font-size="3" font-weight="bold" text-anchor="middle" stroke="#111" stroke-width=".1" transform="translate(139.1 517.6) rotate(-29)"><tspan y="1">0.05</tspan></text><line x1="154.7" y1="519.6" x2="153.0" y2="520.6" stroke="#222" stroke-width="0.55"/><text font-size="3" font-weight="bold" text-anchor="middle" stroke="#111" stroke-width=".1" transform="translate(152.1 522.5) rotate(-29)"><tspan y="1">0.10</tspan></text><line x1="167.6" y1="524.5" x2="165.9" y2="525.5" stroke="#222" stroke-width="0.55"/><text font-size="3" font-weight="bold" text-anchor="middle" stroke="#111" stroke-width=".1" transform="translate(165.0 527.4) rotate(-29)"><tspan y="1">0.15</tspan></text><line x1="180.6" y1="529.4" x2="178.9" y2="530.4" stroke="#222" stroke-width="0.55"/><text font-size="3" font-weight="bold" text-anchor="middle" stroke="#111" stroke-width=".1" transform="translate(178.0 532.3) rotate(-29)"><tspan y="1">0.20</tspan></text><line x1="193.6" y1="534.3" x2="191.9" y2="535.3" stroke="#222" stroke-width="0.55"/><text font-size="3" font-weight="bold" text-anchor="middle" stroke="#111" stroke-width=".1" transform="translate(191.0 537.2) rotate(-29)"><tspan y="1">0.25</tspan></text><line x1="200.0" y1="531.0" x2="202.0" y2="531.8" stroke="#222" stroke-width="0.55"/><text font-size="3" font-weight="bold" text-anchor="middle" stroke="#111" stroke-width=".1" transform="translate(203.8 532.9) rotate(22)"><tspan y="1">-40</tspan></text><line x1="214.2" y1="523.7" x2="216.2" y2="524.5" stroke="#222" stroke-width="0.55"/><text font-size="3" font-weight="bold" text-anchor="middle" stroke="#111" stroke-width=".1" transform="translate(218.0 525.6) rotate(22)"><tspan y="1">0</tspan></text><line x1="228.4" y1="516.4" x2="230.4" y2="517.2" stroke="#222" stroke-width="0.55"/><text font-size="3" font-weight="bold" text-anchor="middle" stroke="#111" stroke-width=".1" transform="translate(232.2 518.3) rotate(22)"><tspan y="1">40</tspan></text><line x1="241.1" y1="509.9" x2="243.1" y2="510.7" stroke="#222" stroke-width="0.55"/><text font-size="3" font-weight="bold" text-anchor="middle" stroke="#111" stroke-width=".1" transform="translate(244.9 511.8) rotate(22)"><tspan y="1">80</tspan></text><text font-size="6.45" text-anchor="middle" stroke="#111" stroke-width=".2" transform="translate(117.6 477.5) rotate(-91) scale(1 .8)">Volume Fraction of Retained Austenite (-)</text><text font-size="6.3" stroke="#111" stroke-width=".17" transform="translate(124.8 518.0) rotate(23.5) scale(1 .84)">Equivalent Plastic Strain (-)</text><text font-size="5.7" font-weight="bold" stroke="#111" stroke-width=".15" transform="translate(215.5 534.7) rotate(-26) scale(1 .9)">Temperature (°C)</text><circle cx="127.9" cy="430.5" r="1.25" fill="#1428e6"/><circle cx="150.5" cy="492.0" r="1.25" fill="#1428e6"/><circle cx="170.5" cy="502.9" r="1.25" fill="#1428e6"/><rect x="252.2" y="425.2" width="8.8" height="76.9" fill="url(#cb)"/><text font-size="6.5" stroke="#111" stroke-width=".12" transform="translate(262.5 427.3) scale(.79 1)">1.04×10<tspan dy="-2.3" font-size="3.8">-1</tspan></text><text font-size="6.5" stroke="#111" stroke-width=".12" transform="translate(262.5 446.5) scale(.79 1)">8.04×10<tspan dy="-2.3" font-size="3.8">-2</tspan></text><text font-size="6.5" stroke="#111" stroke-width=".12" transform="translate(262.5 465.8) scale(.79 1)">5.69×10<tspan dy="-2.3" font-size="3.8">-2</tspan></text><text font-size="6.5" stroke="#111" stroke-width=".12" transform="translate(262.5 485.0) scale(.79 1)">3.35×10<tspan dy="-2.3" font-size="3.8">-2</tspan></text><text font-size="6.5" stroke="#111" stroke-width=".12" transform="translate(262.5 504.2) scale(.79 1)">1.00×10<tspan dy="-2.3" font-size="3.8">-2</tspan></text><text font-size="4.6" font-weight="bold" stroke="#111" stroke-width=".12"><tspan x="211.5" y="500.4">QP980</tspan><tspan x="211.5" y="506.3">Uniaxial tension</tspan><tspan x="211.5" y="512.2">10 /s</tspan></text><text x="98.4" y="421.7" font-size="8.6">(g)</text></g></svg></body></html>
